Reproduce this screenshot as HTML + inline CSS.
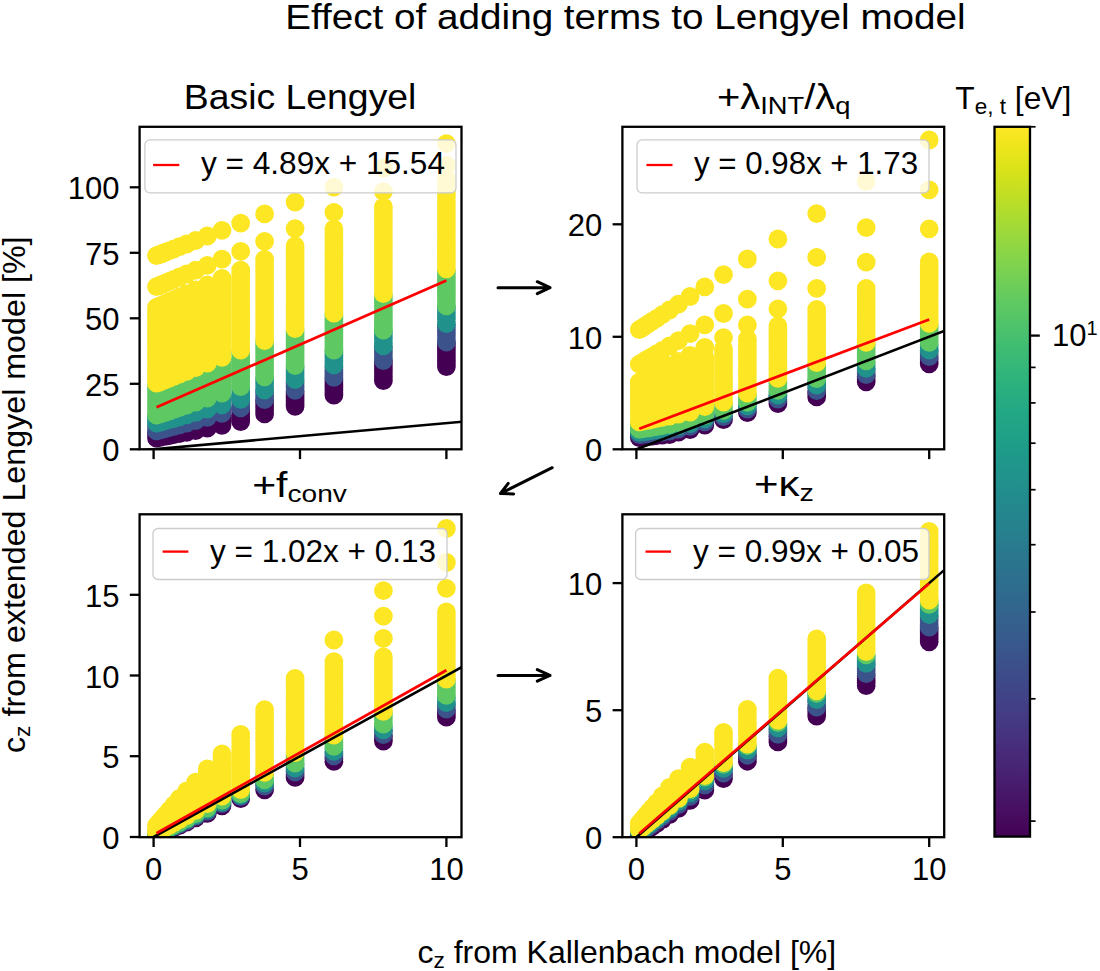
<!DOCTYPE html><html><head><meta charset="utf-8"><style>html,body{margin:0;padding:0;background:#fff;width:1100px;height:971px;overflow:hidden}</style></head><body><svg width="1100" height="971" viewBox="0 0 1100 971" style="position:absolute;left:0;top:0;font-family:'Liberation Sans', sans-serif">
<rect width="1100" height="971" fill="#ffffff"/>
<defs><linearGradient id="vir" x1="0" y1="0" x2="0" y2="1"><stop offset="0.0000" stop-color="#fde725"/><stop offset="0.0312" stop-color="#ece51b"/><stop offset="0.0625" stop-color="#d8e219"/><stop offset="0.0938" stop-color="#c2df23"/><stop offset="0.1250" stop-color="#addc30"/><stop offset="0.1562" stop-color="#98d83e"/><stop offset="0.1875" stop-color="#84d44b"/><stop offset="0.2188" stop-color="#70cf57"/><stop offset="0.2500" stop-color="#5ec962"/><stop offset="0.2812" stop-color="#4ec36b"/><stop offset="0.3125" stop-color="#3fbc73"/><stop offset="0.3438" stop-color="#32b67a"/><stop offset="0.3750" stop-color="#28ae80"/><stop offset="0.4062" stop-color="#22a785"/><stop offset="0.4375" stop-color="#1fa088"/><stop offset="0.4688" stop-color="#1f988b"/><stop offset="0.5000" stop-color="#21918c"/><stop offset="0.5312" stop-color="#23898e"/><stop offset="0.5625" stop-color="#26828e"/><stop offset="0.5938" stop-color="#297a8e"/><stop offset="0.6250" stop-color="#2c728e"/><stop offset="0.6562" stop-color="#2f6b8e"/><stop offset="0.6875" stop-color="#33638d"/><stop offset="0.7188" stop-color="#375b8d"/><stop offset="0.7500" stop-color="#3b528b"/><stop offset="0.7812" stop-color="#3e4989"/><stop offset="0.8125" stop-color="#424086"/><stop offset="0.8438" stop-color="#453781"/><stop offset="0.8750" stop-color="#472d7b"/><stop offset="0.9062" stop-color="#482374"/><stop offset="0.9375" stop-color="#48186a"/><stop offset="0.9688" stop-color="#470d60"/><stop offset="1.0000" stop-color="#440154"/></linearGradient>
<clipPath id="clip1"><rect x="139.6" y="126.8" width="321.9" height="322.5"/></clipPath>
<clipPath id="clip2"><rect x="622.4" y="126.8" width="321.80000000000007" height="322.5"/></clipPath>
<clipPath id="clip3"><rect x="139.6" y="514.3" width="321.9" height="322.9000000000001"/></clipPath>
<clipPath id="clip4"><rect x="622.4" y="514.3" width="321.80000000000007" height="322.9000000000001"/></clipPath>
</defs>
<g clip-path="url(#clip1)">
<path fill="#440154" d="M147.1,438.0a9.4,9.4 0 1,0 18.8,0a9.4,9.4 0 1,0 -18.8,0zM147.1,435.7a9.4,9.4 0 1,0 18.8,0a9.4,9.4 0 1,0 -18.8,0zM147.1,433.3a9.4,9.4 0 1,0 18.8,0a9.4,9.4 0 1,0 -18.8,0zM147.9,437.9a9.4,9.4 0 1,0 18.8,0a9.4,9.4 0 1,0 -18.8,0zM147.9,435.5a9.4,9.4 0 1,0 18.8,0a9.4,9.4 0 1,0 -18.8,0zM147.9,433.1a9.4,9.4 0 1,0 18.8,0a9.4,9.4 0 1,0 -18.8,0zM149.0,437.7a9.4,9.4 0 1,0 18.8,0a9.4,9.4 0 1,0 -18.8,0zM149.0,435.3a9.4,9.4 0 1,0 18.8,0a9.4,9.4 0 1,0 -18.8,0zM149.0,432.9a9.4,9.4 0 1,0 18.8,0a9.4,9.4 0 1,0 -18.8,0zM150.3,437.4a9.4,9.4 0 1,0 18.8,0a9.4,9.4 0 1,0 -18.8,0zM150.3,435.0a9.4,9.4 0 1,0 18.8,0a9.4,9.4 0 1,0 -18.8,0zM150.3,432.5a9.4,9.4 0 1,0 18.8,0a9.4,9.4 0 1,0 -18.8,0zM151.9,437.1a9.4,9.4 0 1,0 18.8,0a9.4,9.4 0 1,0 -18.8,0zM151.9,434.6a9.4,9.4 0 1,0 18.8,0a9.4,9.4 0 1,0 -18.8,0zM151.9,432.2a9.4,9.4 0 1,0 18.8,0a9.4,9.4 0 1,0 -18.8,0zM154.0,436.7a9.4,9.4 0 1,0 18.8,0a9.4,9.4 0 1,0 -18.8,0zM154.0,434.2a9.4,9.4 0 1,0 18.8,0a9.4,9.4 0 1,0 -18.8,0zM154.0,431.7a9.4,9.4 0 1,0 18.8,0a9.4,9.4 0 1,0 -18.8,0zM156.7,436.2a9.4,9.4 0 1,0 18.8,0a9.4,9.4 0 1,0 -18.8,0zM156.7,433.6a9.4,9.4 0 1,0 18.8,0a9.4,9.4 0 1,0 -18.8,0zM156.7,431.0a9.4,9.4 0 1,0 18.8,0a9.4,9.4 0 1,0 -18.8,0zM160.2,435.5a9.4,9.4 0 1,0 18.8,0a9.4,9.4 0 1,0 -18.8,0zM160.2,433.5a9.4,9.4 0 1,0 18.8,0a9.4,9.4 0 1,0 -18.8,0zM160.2,431.5a9.4,9.4 0 1,0 18.8,0a9.4,9.4 0 1,0 -18.8,0zM160.2,429.5a9.4,9.4 0 1,0 18.8,0a9.4,9.4 0 1,0 -18.8,0zM164.6,434.7a9.4,9.4 0 1,0 18.8,0a9.4,9.4 0 1,0 -18.8,0zM164.6,432.6a9.4,9.4 0 1,0 18.8,0a9.4,9.4 0 1,0 -18.8,0zM164.6,430.5a9.4,9.4 0 1,0 18.8,0a9.4,9.4 0 1,0 -18.8,0zM164.6,428.5a9.4,9.4 0 1,0 18.8,0a9.4,9.4 0 1,0 -18.8,0zM170.1,433.6a9.4,9.4 0 1,0 18.8,0a9.4,9.4 0 1,0 -18.8,0zM170.1,431.5a9.4,9.4 0 1,0 18.8,0a9.4,9.4 0 1,0 -18.8,0zM170.1,429.3a9.4,9.4 0 1,0 18.8,0a9.4,9.4 0 1,0 -18.8,0zM170.1,427.1a9.4,9.4 0 1,0 18.8,0a9.4,9.4 0 1,0 -18.8,0zM177.3,432.3a9.4,9.4 0 1,0 18.8,0a9.4,9.4 0 1,0 -18.8,0zM177.3,430.0a9.4,9.4 0 1,0 18.8,0a9.4,9.4 0 1,0 -18.8,0zM177.3,427.7a9.4,9.4 0 1,0 18.8,0a9.4,9.4 0 1,0 -18.8,0zM177.3,425.3a9.4,9.4 0 1,0 18.8,0a9.4,9.4 0 1,0 -18.8,0zM186.3,430.5a9.4,9.4 0 1,0 18.8,0a9.4,9.4 0 1,0 -18.8,0zM186.3,428.0a9.4,9.4 0 1,0 18.8,0a9.4,9.4 0 1,0 -18.8,0zM186.3,425.5a9.4,9.4 0 1,0 18.8,0a9.4,9.4 0 1,0 -18.8,0zM186.3,423.0a9.4,9.4 0 1,0 18.8,0a9.4,9.4 0 1,0 -18.8,0zM197.9,428.2a9.4,9.4 0 1,0 18.8,0a9.4,9.4 0 1,0 -18.8,0zM197.9,426.0a9.4,9.4 0 1,0 18.8,0a9.4,9.4 0 1,0 -18.8,0zM197.9,423.9a9.4,9.4 0 1,0 18.8,0a9.4,9.4 0 1,0 -18.8,0zM197.9,421.7a9.4,9.4 0 1,0 18.8,0a9.4,9.4 0 1,0 -18.8,0zM197.9,419.5a9.4,9.4 0 1,0 18.8,0a9.4,9.4 0 1,0 -18.8,0zM212.6,425.3a9.4,9.4 0 1,0 18.8,0a9.4,9.4 0 1,0 -18.8,0zM212.6,422.9a9.4,9.4 0 1,0 18.8,0a9.4,9.4 0 1,0 -18.8,0zM212.6,420.5a9.4,9.4 0 1,0 18.8,0a9.4,9.4 0 1,0 -18.8,0zM212.6,418.1a9.4,9.4 0 1,0 18.8,0a9.4,9.4 0 1,0 -18.8,0zM212.6,415.7a9.4,9.4 0 1,0 18.8,0a9.4,9.4 0 1,0 -18.8,0zM231.3,421.5a9.4,9.4 0 1,0 18.8,0a9.4,9.4 0 1,0 -18.8,0zM231.3,419.3a9.4,9.4 0 1,0 18.8,0a9.4,9.4 0 1,0 -18.8,0zM231.3,417.0a9.4,9.4 0 1,0 18.8,0a9.4,9.4 0 1,0 -18.8,0zM231.3,414.7a9.4,9.4 0 1,0 18.8,0a9.4,9.4 0 1,0 -18.8,0zM231.3,412.5a9.4,9.4 0 1,0 18.8,0a9.4,9.4 0 1,0 -18.8,0zM231.3,410.2a9.4,9.4 0 1,0 18.8,0a9.4,9.4 0 1,0 -18.8,0zM255.2,413.9a9.4,9.4 0 1,0 18.8,0a9.4,9.4 0 1,0 -18.8,0zM255.2,411.8a9.4,9.4 0 1,0 18.8,0a9.4,9.4 0 1,0 -18.8,0zM255.2,409.8a9.4,9.4 0 1,0 18.8,0a9.4,9.4 0 1,0 -18.8,0zM255.2,407.7a9.4,9.4 0 1,0 18.8,0a9.4,9.4 0 1,0 -18.8,0zM255.2,405.7a9.4,9.4 0 1,0 18.8,0a9.4,9.4 0 1,0 -18.8,0zM255.2,403.6a9.4,9.4 0 1,0 18.8,0a9.4,9.4 0 1,0 -18.8,0zM255.2,401.5a9.4,9.4 0 1,0 18.8,0a9.4,9.4 0 1,0 -18.8,0zM285.7,406.3a9.4,9.4 0 1,0 18.8,0a9.4,9.4 0 1,0 -18.8,0zM285.7,404.3a9.4,9.4 0 1,0 18.8,0a9.4,9.4 0 1,0 -18.8,0zM285.7,402.3a9.4,9.4 0 1,0 18.8,0a9.4,9.4 0 1,0 -18.8,0zM285.7,400.3a9.4,9.4 0 1,0 18.8,0a9.4,9.4 0 1,0 -18.8,0zM285.7,398.3a9.4,9.4 0 1,0 18.8,0a9.4,9.4 0 1,0 -18.8,0zM285.7,396.3a9.4,9.4 0 1,0 18.8,0a9.4,9.4 0 1,0 -18.8,0zM285.7,394.3a9.4,9.4 0 1,0 18.8,0a9.4,9.4 0 1,0 -18.8,0zM285.7,392.3a9.4,9.4 0 1,0 18.8,0a9.4,9.4 0 1,0 -18.8,0zM324.5,395.1a9.4,9.4 0 1,0 18.8,0a9.4,9.4 0 1,0 -18.8,0zM324.5,392.9a9.4,9.4 0 1,0 18.8,0a9.4,9.4 0 1,0 -18.8,0zM324.5,390.6a9.4,9.4 0 1,0 18.8,0a9.4,9.4 0 1,0 -18.8,0zM324.5,388.4a9.4,9.4 0 1,0 18.8,0a9.4,9.4 0 1,0 -18.8,0zM324.5,386.2a9.4,9.4 0 1,0 18.8,0a9.4,9.4 0 1,0 -18.8,0zM324.5,384.0a9.4,9.4 0 1,0 18.8,0a9.4,9.4 0 1,0 -18.8,0zM324.5,381.7a9.4,9.4 0 1,0 18.8,0a9.4,9.4 0 1,0 -18.8,0zM324.5,379.5a9.4,9.4 0 1,0 18.8,0a9.4,9.4 0 1,0 -18.8,0zM374.0,380.7a9.4,9.4 0 1,0 18.8,0a9.4,9.4 0 1,0 -18.8,0zM374.0,378.7a9.4,9.4 0 1,0 18.8,0a9.4,9.4 0 1,0 -18.8,0zM374.0,376.6a9.4,9.4 0 1,0 18.8,0a9.4,9.4 0 1,0 -18.8,0zM374.0,374.6a9.4,9.4 0 1,0 18.8,0a9.4,9.4 0 1,0 -18.8,0zM374.0,372.6a9.4,9.4 0 1,0 18.8,0a9.4,9.4 0 1,0 -18.8,0zM374.0,370.6a9.4,9.4 0 1,0 18.8,0a9.4,9.4 0 1,0 -18.8,0zM374.0,368.6a9.4,9.4 0 1,0 18.8,0a9.4,9.4 0 1,0 -18.8,0zM374.0,366.6a9.4,9.4 0 1,0 18.8,0a9.4,9.4 0 1,0 -18.8,0zM374.0,364.6a9.4,9.4 0 1,0 18.8,0a9.4,9.4 0 1,0 -18.8,0zM374.0,362.5a9.4,9.4 0 1,0 18.8,0a9.4,9.4 0 1,0 -18.8,0zM437.0,366.5a9.4,9.4 0 1,0 18.8,0a9.4,9.4 0 1,0 -18.8,0zM437.0,364.5a9.4,9.4 0 1,0 18.8,0a9.4,9.4 0 1,0 -18.8,0zM437.0,362.4a9.4,9.4 0 1,0 18.8,0a9.4,9.4 0 1,0 -18.8,0zM437.0,360.4a9.4,9.4 0 1,0 18.8,0a9.4,9.4 0 1,0 -18.8,0zM437.0,358.4a9.4,9.4 0 1,0 18.8,0a9.4,9.4 0 1,0 -18.8,0zM437.0,356.3a9.4,9.4 0 1,0 18.8,0a9.4,9.4 0 1,0 -18.8,0zM437.0,354.3a9.4,9.4 0 1,0 18.8,0a9.4,9.4 0 1,0 -18.8,0zM437.0,352.3a9.4,9.4 0 1,0 18.8,0a9.4,9.4 0 1,0 -18.8,0zM437.0,350.2a9.4,9.4 0 1,0 18.8,0a9.4,9.4 0 1,0 -18.8,0zM437.0,348.2a9.4,9.4 0 1,0 18.8,0a9.4,9.4 0 1,0 -18.8,0zM437.0,346.2a9.4,9.4 0 1,0 18.8,0a9.4,9.4 0 1,0 -18.8,0zM437.0,344.1a9.4,9.4 0 1,0 18.8,0a9.4,9.4 0 1,0 -18.8,0z"/>
<path fill="#3b528b" d="M147.1,430.9a9.4,9.4 0 1,0 18.8,0a9.4,9.4 0 1,0 -18.8,0zM147.1,428.3a9.4,9.4 0 1,0 18.8,0a9.4,9.4 0 1,0 -18.8,0zM147.1,425.8a9.4,9.4 0 1,0 18.8,0a9.4,9.4 0 1,0 -18.8,0zM147.9,430.7a9.4,9.4 0 1,0 18.8,0a9.4,9.4 0 1,0 -18.8,0zM147.9,428.1a9.4,9.4 0 1,0 18.8,0a9.4,9.4 0 1,0 -18.8,0zM147.9,425.6a9.4,9.4 0 1,0 18.8,0a9.4,9.4 0 1,0 -18.8,0zM149.0,430.4a9.4,9.4 0 1,0 18.8,0a9.4,9.4 0 1,0 -18.8,0zM149.0,427.9a9.4,9.4 0 1,0 18.8,0a9.4,9.4 0 1,0 -18.8,0zM149.0,425.3a9.4,9.4 0 1,0 18.8,0a9.4,9.4 0 1,0 -18.8,0zM150.3,430.1a9.4,9.4 0 1,0 18.8,0a9.4,9.4 0 1,0 -18.8,0zM150.3,427.5a9.4,9.4 0 1,0 18.8,0a9.4,9.4 0 1,0 -18.8,0zM150.3,424.9a9.4,9.4 0 1,0 18.8,0a9.4,9.4 0 1,0 -18.8,0zM151.9,429.7a9.4,9.4 0 1,0 18.8,0a9.4,9.4 0 1,0 -18.8,0zM151.9,427.1a9.4,9.4 0 1,0 18.8,0a9.4,9.4 0 1,0 -18.8,0zM151.9,424.5a9.4,9.4 0 1,0 18.8,0a9.4,9.4 0 1,0 -18.8,0zM154.0,429.1a9.4,9.4 0 1,0 18.8,0a9.4,9.4 0 1,0 -18.8,0zM154.0,426.5a9.4,9.4 0 1,0 18.8,0a9.4,9.4 0 1,0 -18.8,0zM154.0,423.9a9.4,9.4 0 1,0 18.8,0a9.4,9.4 0 1,0 -18.8,0zM156.7,428.4a9.4,9.4 0 1,0 18.8,0a9.4,9.4 0 1,0 -18.8,0zM156.7,425.8a9.4,9.4 0 1,0 18.8,0a9.4,9.4 0 1,0 -18.8,0zM156.7,423.2a9.4,9.4 0 1,0 18.8,0a9.4,9.4 0 1,0 -18.8,0zM160.2,427.5a9.4,9.4 0 1,0 18.8,0a9.4,9.4 0 1,0 -18.8,0zM160.2,424.9a9.4,9.4 0 1,0 18.8,0a9.4,9.4 0 1,0 -18.8,0zM160.2,422.3a9.4,9.4 0 1,0 18.8,0a9.4,9.4 0 1,0 -18.8,0zM164.6,426.4a9.4,9.4 0 1,0 18.8,0a9.4,9.4 0 1,0 -18.8,0zM164.6,423.7a9.4,9.4 0 1,0 18.8,0a9.4,9.4 0 1,0 -18.8,0zM164.6,421.1a9.4,9.4 0 1,0 18.8,0a9.4,9.4 0 1,0 -18.8,0zM170.1,424.9a9.4,9.4 0 1,0 18.8,0a9.4,9.4 0 1,0 -18.8,0zM170.1,422.9a9.4,9.4 0 1,0 18.8,0a9.4,9.4 0 1,0 -18.8,0zM170.1,420.9a9.4,9.4 0 1,0 18.8,0a9.4,9.4 0 1,0 -18.8,0zM170.1,418.9a9.4,9.4 0 1,0 18.8,0a9.4,9.4 0 1,0 -18.8,0zM177.3,423.0a9.4,9.4 0 1,0 18.8,0a9.4,9.4 0 1,0 -18.8,0zM177.3,421.0a9.4,9.4 0 1,0 18.8,0a9.4,9.4 0 1,0 -18.8,0zM177.3,419.0a9.4,9.4 0 1,0 18.8,0a9.4,9.4 0 1,0 -18.8,0zM177.3,417.0a9.4,9.4 0 1,0 18.8,0a9.4,9.4 0 1,0 -18.8,0zM186.3,420.6a9.4,9.4 0 1,0 18.8,0a9.4,9.4 0 1,0 -18.8,0zM186.3,418.5a9.4,9.4 0 1,0 18.8,0a9.4,9.4 0 1,0 -18.8,0zM186.3,416.5a9.4,9.4 0 1,0 18.8,0a9.4,9.4 0 1,0 -18.8,0zM186.3,414.4a9.4,9.4 0 1,0 18.8,0a9.4,9.4 0 1,0 -18.8,0zM197.9,417.4a9.4,9.4 0 1,0 18.8,0a9.4,9.4 0 1,0 -18.8,0zM197.9,415.3a9.4,9.4 0 1,0 18.8,0a9.4,9.4 0 1,0 -18.8,0zM197.9,413.2a9.4,9.4 0 1,0 18.8,0a9.4,9.4 0 1,0 -18.8,0zM197.9,411.1a9.4,9.4 0 1,0 18.8,0a9.4,9.4 0 1,0 -18.8,0zM212.6,413.3a9.4,9.4 0 1,0 18.8,0a9.4,9.4 0 1,0 -18.8,0zM212.6,411.1a9.4,9.4 0 1,0 18.8,0a9.4,9.4 0 1,0 -18.8,0zM212.6,409.0a9.4,9.4 0 1,0 18.8,0a9.4,9.4 0 1,0 -18.8,0zM212.6,406.9a9.4,9.4 0 1,0 18.8,0a9.4,9.4 0 1,0 -18.8,0zM231.3,407.9a9.4,9.4 0 1,0 18.8,0a9.4,9.4 0 1,0 -18.8,0zM231.3,405.8a9.4,9.4 0 1,0 18.8,0a9.4,9.4 0 1,0 -18.8,0zM231.3,403.6a9.4,9.4 0 1,0 18.8,0a9.4,9.4 0 1,0 -18.8,0zM231.3,401.5a9.4,9.4 0 1,0 18.8,0a9.4,9.4 0 1,0 -18.8,0zM255.2,399.5a9.4,9.4 0 1,0 18.8,0a9.4,9.4 0 1,0 -18.8,0zM255.2,397.1a9.4,9.4 0 1,0 18.8,0a9.4,9.4 0 1,0 -18.8,0zM255.2,394.8a9.4,9.4 0 1,0 18.8,0a9.4,9.4 0 1,0 -18.8,0zM255.2,392.4a9.4,9.4 0 1,0 18.8,0a9.4,9.4 0 1,0 -18.8,0zM285.7,390.3a9.4,9.4 0 1,0 18.8,0a9.4,9.4 0 1,0 -18.8,0zM285.7,388.1a9.4,9.4 0 1,0 18.8,0a9.4,9.4 0 1,0 -18.8,0zM285.7,386.0a9.4,9.4 0 1,0 18.8,0a9.4,9.4 0 1,0 -18.8,0zM285.7,383.8a9.4,9.4 0 1,0 18.8,0a9.4,9.4 0 1,0 -18.8,0zM285.7,381.7a9.4,9.4 0 1,0 18.8,0a9.4,9.4 0 1,0 -18.8,0zM324.5,377.3a9.4,9.4 0 1,0 18.8,0a9.4,9.4 0 1,0 -18.8,0zM324.5,375.2a9.4,9.4 0 1,0 18.8,0a9.4,9.4 0 1,0 -18.8,0zM324.5,373.2a9.4,9.4 0 1,0 18.8,0a9.4,9.4 0 1,0 -18.8,0zM324.5,371.1a9.4,9.4 0 1,0 18.8,0a9.4,9.4 0 1,0 -18.8,0zM324.5,369.0a9.4,9.4 0 1,0 18.8,0a9.4,9.4 0 1,0 -18.8,0zM324.5,366.9a9.4,9.4 0 1,0 18.8,0a9.4,9.4 0 1,0 -18.8,0zM374.0,360.5a9.4,9.4 0 1,0 18.8,0a9.4,9.4 0 1,0 -18.8,0zM374.0,358.4a9.4,9.4 0 1,0 18.8,0a9.4,9.4 0 1,0 -18.8,0zM374.0,356.3a9.4,9.4 0 1,0 18.8,0a9.4,9.4 0 1,0 -18.8,0zM374.0,354.2a9.4,9.4 0 1,0 18.8,0a9.4,9.4 0 1,0 -18.8,0zM374.0,352.1a9.4,9.4 0 1,0 18.8,0a9.4,9.4 0 1,0 -18.8,0zM374.0,350.0a9.4,9.4 0 1,0 18.8,0a9.4,9.4 0 1,0 -18.8,0zM374.0,348.0a9.4,9.4 0 1,0 18.8,0a9.4,9.4 0 1,0 -18.8,0zM437.0,342.1a9.4,9.4 0 1,0 18.8,0a9.4,9.4 0 1,0 -18.8,0zM437.0,340.0a9.4,9.4 0 1,0 18.8,0a9.4,9.4 0 1,0 -18.8,0zM437.0,338.0a9.4,9.4 0 1,0 18.8,0a9.4,9.4 0 1,0 -18.8,0zM437.0,335.9a9.4,9.4 0 1,0 18.8,0a9.4,9.4 0 1,0 -18.8,0zM437.0,333.8a9.4,9.4 0 1,0 18.8,0a9.4,9.4 0 1,0 -18.8,0zM437.0,331.8a9.4,9.4 0 1,0 18.8,0a9.4,9.4 0 1,0 -18.8,0zM437.0,329.7a9.4,9.4 0 1,0 18.8,0a9.4,9.4 0 1,0 -18.8,0zM437.0,327.6a9.4,9.4 0 1,0 18.8,0a9.4,9.4 0 1,0 -18.8,0zM437.0,325.6a9.4,9.4 0 1,0 18.8,0a9.4,9.4 0 1,0 -18.8,0z"/>
<path fill="#21918c" d="M147.1,423.2a9.4,9.4 0 1,0 18.8,0a9.4,9.4 0 1,0 -18.8,0zM147.1,421.2a9.4,9.4 0 1,0 18.8,0a9.4,9.4 0 1,0 -18.8,0zM147.1,419.1a9.4,9.4 0 1,0 18.8,0a9.4,9.4 0 1,0 -18.8,0zM147.1,417.1a9.4,9.4 0 1,0 18.8,0a9.4,9.4 0 1,0 -18.8,0zM147.9,423.0a9.4,9.4 0 1,0 18.8,0a9.4,9.4 0 1,0 -18.8,0zM147.9,420.9a9.4,9.4 0 1,0 18.8,0a9.4,9.4 0 1,0 -18.8,0zM147.9,418.9a9.4,9.4 0 1,0 18.8,0a9.4,9.4 0 1,0 -18.8,0zM147.9,416.8a9.4,9.4 0 1,0 18.8,0a9.4,9.4 0 1,0 -18.8,0zM149.0,422.7a9.4,9.4 0 1,0 18.8,0a9.4,9.4 0 1,0 -18.8,0zM149.0,420.7a9.4,9.4 0 1,0 18.8,0a9.4,9.4 0 1,0 -18.8,0zM149.0,418.6a9.4,9.4 0 1,0 18.8,0a9.4,9.4 0 1,0 -18.8,0zM149.0,416.5a9.4,9.4 0 1,0 18.8,0a9.4,9.4 0 1,0 -18.8,0zM150.3,422.4a9.4,9.4 0 1,0 18.8,0a9.4,9.4 0 1,0 -18.8,0zM150.3,420.3a9.4,9.4 0 1,0 18.8,0a9.4,9.4 0 1,0 -18.8,0zM150.3,418.2a9.4,9.4 0 1,0 18.8,0a9.4,9.4 0 1,0 -18.8,0zM150.3,416.1a9.4,9.4 0 1,0 18.8,0a9.4,9.4 0 1,0 -18.8,0zM151.9,421.9a9.4,9.4 0 1,0 18.8,0a9.4,9.4 0 1,0 -18.8,0zM151.9,419.8a9.4,9.4 0 1,0 18.8,0a9.4,9.4 0 1,0 -18.8,0zM151.9,417.7a9.4,9.4 0 1,0 18.8,0a9.4,9.4 0 1,0 -18.8,0zM151.9,415.6a9.4,9.4 0 1,0 18.8,0a9.4,9.4 0 1,0 -18.8,0zM154.0,421.3a9.4,9.4 0 1,0 18.8,0a9.4,9.4 0 1,0 -18.8,0zM154.0,419.2a9.4,9.4 0 1,0 18.8,0a9.4,9.4 0 1,0 -18.8,0zM154.0,417.1a9.4,9.4 0 1,0 18.8,0a9.4,9.4 0 1,0 -18.8,0zM154.0,414.9a9.4,9.4 0 1,0 18.8,0a9.4,9.4 0 1,0 -18.8,0zM156.7,420.6a9.4,9.4 0 1,0 18.8,0a9.4,9.4 0 1,0 -18.8,0zM156.7,418.4a9.4,9.4 0 1,0 18.8,0a9.4,9.4 0 1,0 -18.8,0zM156.7,416.2a9.4,9.4 0 1,0 18.8,0a9.4,9.4 0 1,0 -18.8,0zM156.7,414.1a9.4,9.4 0 1,0 18.8,0a9.4,9.4 0 1,0 -18.8,0zM160.2,419.7a9.4,9.4 0 1,0 18.8,0a9.4,9.4 0 1,0 -18.8,0zM160.2,417.4a9.4,9.4 0 1,0 18.8,0a9.4,9.4 0 1,0 -18.8,0zM160.2,415.2a9.4,9.4 0 1,0 18.8,0a9.4,9.4 0 1,0 -18.8,0zM160.2,413.0a9.4,9.4 0 1,0 18.8,0a9.4,9.4 0 1,0 -18.8,0zM164.6,418.5a9.4,9.4 0 1,0 18.8,0a9.4,9.4 0 1,0 -18.8,0zM164.6,416.2a9.4,9.4 0 1,0 18.8,0a9.4,9.4 0 1,0 -18.8,0zM164.6,413.9a9.4,9.4 0 1,0 18.8,0a9.4,9.4 0 1,0 -18.8,0zM164.6,411.6a9.4,9.4 0 1,0 18.8,0a9.4,9.4 0 1,0 -18.8,0zM170.1,416.9a9.4,9.4 0 1,0 18.8,0a9.4,9.4 0 1,0 -18.8,0zM170.1,414.6a9.4,9.4 0 1,0 18.8,0a9.4,9.4 0 1,0 -18.8,0zM170.1,412.2a9.4,9.4 0 1,0 18.8,0a9.4,9.4 0 1,0 -18.8,0zM170.1,409.9a9.4,9.4 0 1,0 18.8,0a9.4,9.4 0 1,0 -18.8,0zM177.3,414.9a9.4,9.4 0 1,0 18.8,0a9.4,9.4 0 1,0 -18.8,0zM177.3,412.5a9.4,9.4 0 1,0 18.8,0a9.4,9.4 0 1,0 -18.8,0zM177.3,410.0a9.4,9.4 0 1,0 18.8,0a9.4,9.4 0 1,0 -18.8,0zM177.3,407.6a9.4,9.4 0 1,0 18.8,0a9.4,9.4 0 1,0 -18.8,0zM186.3,412.4a9.4,9.4 0 1,0 18.8,0a9.4,9.4 0 1,0 -18.8,0zM186.3,410.3a9.4,9.4 0 1,0 18.8,0a9.4,9.4 0 1,0 -18.8,0zM186.3,408.2a9.4,9.4 0 1,0 18.8,0a9.4,9.4 0 1,0 -18.8,0zM186.3,406.2a9.4,9.4 0 1,0 18.8,0a9.4,9.4 0 1,0 -18.8,0zM186.3,404.1a9.4,9.4 0 1,0 18.8,0a9.4,9.4 0 1,0 -18.8,0zM197.9,409.1a9.4,9.4 0 1,0 18.8,0a9.4,9.4 0 1,0 -18.8,0zM197.9,406.9a9.4,9.4 0 1,0 18.8,0a9.4,9.4 0 1,0 -18.8,0zM197.9,404.7a9.4,9.4 0 1,0 18.8,0a9.4,9.4 0 1,0 -18.8,0zM197.9,402.5a9.4,9.4 0 1,0 18.8,0a9.4,9.4 0 1,0 -18.8,0zM197.9,400.3a9.4,9.4 0 1,0 18.8,0a9.4,9.4 0 1,0 -18.8,0zM212.6,404.8a9.4,9.4 0 1,0 18.8,0a9.4,9.4 0 1,0 -18.8,0zM212.6,402.5a9.4,9.4 0 1,0 18.8,0a9.4,9.4 0 1,0 -18.8,0zM212.6,400.1a9.4,9.4 0 1,0 18.8,0a9.4,9.4 0 1,0 -18.8,0zM212.6,397.7a9.4,9.4 0 1,0 18.8,0a9.4,9.4 0 1,0 -18.8,0zM212.6,395.4a9.4,9.4 0 1,0 18.8,0a9.4,9.4 0 1,0 -18.8,0zM231.3,399.3a9.4,9.4 0 1,0 18.8,0a9.4,9.4 0 1,0 -18.8,0zM231.3,397.2a9.4,9.4 0 1,0 18.8,0a9.4,9.4 0 1,0 -18.8,0zM231.3,395.0a9.4,9.4 0 1,0 18.8,0a9.4,9.4 0 1,0 -18.8,0zM231.3,392.9a9.4,9.4 0 1,0 18.8,0a9.4,9.4 0 1,0 -18.8,0zM231.3,390.8a9.4,9.4 0 1,0 18.8,0a9.4,9.4 0 1,0 -18.8,0zM231.3,388.6a9.4,9.4 0 1,0 18.8,0a9.4,9.4 0 1,0 -18.8,0zM255.2,390.1a9.4,9.4 0 1,0 18.8,0a9.4,9.4 0 1,0 -18.8,0zM255.2,387.8a9.4,9.4 0 1,0 18.8,0a9.4,9.4 0 1,0 -18.8,0zM255.2,385.6a9.4,9.4 0 1,0 18.8,0a9.4,9.4 0 1,0 -18.8,0zM255.2,383.4a9.4,9.4 0 1,0 18.8,0a9.4,9.4 0 1,0 -18.8,0zM255.2,381.2a9.4,9.4 0 1,0 18.8,0a9.4,9.4 0 1,0 -18.8,0zM255.2,379.0a9.4,9.4 0 1,0 18.8,0a9.4,9.4 0 1,0 -18.8,0zM285.7,379.5a9.4,9.4 0 1,0 18.8,0a9.4,9.4 0 1,0 -18.8,0zM285.7,377.5a9.4,9.4 0 1,0 18.8,0a9.4,9.4 0 1,0 -18.8,0zM285.7,375.5a9.4,9.4 0 1,0 18.8,0a9.4,9.4 0 1,0 -18.8,0zM285.7,373.5a9.4,9.4 0 1,0 18.8,0a9.4,9.4 0 1,0 -18.8,0zM285.7,371.5a9.4,9.4 0 1,0 18.8,0a9.4,9.4 0 1,0 -18.8,0zM285.7,369.5a9.4,9.4 0 1,0 18.8,0a9.4,9.4 0 1,0 -18.8,0zM285.7,367.5a9.4,9.4 0 1,0 18.8,0a9.4,9.4 0 1,0 -18.8,0zM324.5,364.9a9.4,9.4 0 1,0 18.8,0a9.4,9.4 0 1,0 -18.8,0zM324.5,362.8a9.4,9.4 0 1,0 18.8,0a9.4,9.4 0 1,0 -18.8,0zM324.5,360.7a9.4,9.4 0 1,0 18.8,0a9.4,9.4 0 1,0 -18.8,0zM324.5,358.6a9.4,9.4 0 1,0 18.8,0a9.4,9.4 0 1,0 -18.8,0zM324.5,356.4a9.4,9.4 0 1,0 18.8,0a9.4,9.4 0 1,0 -18.8,0zM324.5,354.3a9.4,9.4 0 1,0 18.8,0a9.4,9.4 0 1,0 -18.8,0zM324.5,352.2a9.4,9.4 0 1,0 18.8,0a9.4,9.4 0 1,0 -18.8,0zM374.0,345.9a9.4,9.4 0 1,0 18.8,0a9.4,9.4 0 1,0 -18.8,0zM374.0,343.6a9.4,9.4 0 1,0 18.8,0a9.4,9.4 0 1,0 -18.8,0zM374.0,341.4a9.4,9.4 0 1,0 18.8,0a9.4,9.4 0 1,0 -18.8,0zM374.0,339.1a9.4,9.4 0 1,0 18.8,0a9.4,9.4 0 1,0 -18.8,0zM374.0,336.9a9.4,9.4 0 1,0 18.8,0a9.4,9.4 0 1,0 -18.8,0zM374.0,334.7a9.4,9.4 0 1,0 18.8,0a9.4,9.4 0 1,0 -18.8,0zM374.0,332.4a9.4,9.4 0 1,0 18.8,0a9.4,9.4 0 1,0 -18.8,0zM437.0,323.5a9.4,9.4 0 1,0 18.8,0a9.4,9.4 0 1,0 -18.8,0zM437.0,321.3a9.4,9.4 0 1,0 18.8,0a9.4,9.4 0 1,0 -18.8,0zM437.0,319.1a9.4,9.4 0 1,0 18.8,0a9.4,9.4 0 1,0 -18.8,0zM437.0,316.9a9.4,9.4 0 1,0 18.8,0a9.4,9.4 0 1,0 -18.8,0zM437.0,314.7a9.4,9.4 0 1,0 18.8,0a9.4,9.4 0 1,0 -18.8,0zM437.0,312.5a9.4,9.4 0 1,0 18.8,0a9.4,9.4 0 1,0 -18.8,0zM437.0,310.3a9.4,9.4 0 1,0 18.8,0a9.4,9.4 0 1,0 -18.8,0zM437.0,308.1a9.4,9.4 0 1,0 18.8,0a9.4,9.4 0 1,0 -18.8,0z"/>
<path fill="#5ec962" d="M147.1,415.0a9.4,9.4 0 1,0 18.8,0a9.4,9.4 0 1,0 -18.8,0zM147.1,412.9a9.4,9.4 0 1,0 18.8,0a9.4,9.4 0 1,0 -18.8,0zM147.1,410.8a9.4,9.4 0 1,0 18.8,0a9.4,9.4 0 1,0 -18.8,0zM147.1,408.6a9.4,9.4 0 1,0 18.8,0a9.4,9.4 0 1,0 -18.8,0zM147.1,406.5a9.4,9.4 0 1,0 18.8,0a9.4,9.4 0 1,0 -18.8,0zM147.1,404.4a9.4,9.4 0 1,0 18.8,0a9.4,9.4 0 1,0 -18.8,0zM147.1,402.3a9.4,9.4 0 1,0 18.8,0a9.4,9.4 0 1,0 -18.8,0zM147.1,400.2a9.4,9.4 0 1,0 18.8,0a9.4,9.4 0 1,0 -18.8,0zM147.1,398.0a9.4,9.4 0 1,0 18.8,0a9.4,9.4 0 1,0 -18.8,0zM147.1,395.9a9.4,9.4 0 1,0 18.8,0a9.4,9.4 0 1,0 -18.8,0zM147.1,393.8a9.4,9.4 0 1,0 18.8,0a9.4,9.4 0 1,0 -18.8,0zM147.1,391.7a9.4,9.4 0 1,0 18.8,0a9.4,9.4 0 1,0 -18.8,0zM147.1,389.6a9.4,9.4 0 1,0 18.8,0a9.4,9.4 0 1,0 -18.8,0zM147.1,387.4a9.4,9.4 0 1,0 18.8,0a9.4,9.4 0 1,0 -18.8,0zM147.1,385.3a9.4,9.4 0 1,0 18.8,0a9.4,9.4 0 1,0 -18.8,0zM147.9,414.7a9.4,9.4 0 1,0 18.8,0a9.4,9.4 0 1,0 -18.8,0zM147.9,412.6a9.4,9.4 0 1,0 18.8,0a9.4,9.4 0 1,0 -18.8,0zM147.9,410.5a9.4,9.4 0 1,0 18.8,0a9.4,9.4 0 1,0 -18.8,0zM147.9,408.4a9.4,9.4 0 1,0 18.8,0a9.4,9.4 0 1,0 -18.8,0zM147.9,406.2a9.4,9.4 0 1,0 18.8,0a9.4,9.4 0 1,0 -18.8,0zM147.9,404.1a9.4,9.4 0 1,0 18.8,0a9.4,9.4 0 1,0 -18.8,0zM147.9,402.0a9.4,9.4 0 1,0 18.8,0a9.4,9.4 0 1,0 -18.8,0zM147.9,399.9a9.4,9.4 0 1,0 18.8,0a9.4,9.4 0 1,0 -18.8,0zM147.9,397.7a9.4,9.4 0 1,0 18.8,0a9.4,9.4 0 1,0 -18.8,0zM147.9,395.6a9.4,9.4 0 1,0 18.8,0a9.4,9.4 0 1,0 -18.8,0zM147.9,393.5a9.4,9.4 0 1,0 18.8,0a9.4,9.4 0 1,0 -18.8,0zM147.9,391.4a9.4,9.4 0 1,0 18.8,0a9.4,9.4 0 1,0 -18.8,0zM147.9,389.3a9.4,9.4 0 1,0 18.8,0a9.4,9.4 0 1,0 -18.8,0zM147.9,387.1a9.4,9.4 0 1,0 18.8,0a9.4,9.4 0 1,0 -18.8,0zM147.9,385.0a9.4,9.4 0 1,0 18.8,0a9.4,9.4 0 1,0 -18.8,0zM149.0,414.4a9.4,9.4 0 1,0 18.8,0a9.4,9.4 0 1,0 -18.8,0zM149.0,412.3a9.4,9.4 0 1,0 18.8,0a9.4,9.4 0 1,0 -18.8,0zM149.0,410.2a9.4,9.4 0 1,0 18.8,0a9.4,9.4 0 1,0 -18.8,0zM149.0,408.0a9.4,9.4 0 1,0 18.8,0a9.4,9.4 0 1,0 -18.8,0zM149.0,405.9a9.4,9.4 0 1,0 18.8,0a9.4,9.4 0 1,0 -18.8,0zM149.0,403.8a9.4,9.4 0 1,0 18.8,0a9.4,9.4 0 1,0 -18.8,0zM149.0,401.6a9.4,9.4 0 1,0 18.8,0a9.4,9.4 0 1,0 -18.8,0zM149.0,399.5a9.4,9.4 0 1,0 18.8,0a9.4,9.4 0 1,0 -18.8,0zM149.0,397.4a9.4,9.4 0 1,0 18.8,0a9.4,9.4 0 1,0 -18.8,0zM149.0,395.3a9.4,9.4 0 1,0 18.8,0a9.4,9.4 0 1,0 -18.8,0zM149.0,393.1a9.4,9.4 0 1,0 18.8,0a9.4,9.4 0 1,0 -18.8,0zM149.0,391.0a9.4,9.4 0 1,0 18.8,0a9.4,9.4 0 1,0 -18.8,0zM149.0,388.9a9.4,9.4 0 1,0 18.8,0a9.4,9.4 0 1,0 -18.8,0zM149.0,386.7a9.4,9.4 0 1,0 18.8,0a9.4,9.4 0 1,0 -18.8,0zM149.0,384.6a9.4,9.4 0 1,0 18.8,0a9.4,9.4 0 1,0 -18.8,0zM150.3,414.0a9.4,9.4 0 1,0 18.8,0a9.4,9.4 0 1,0 -18.8,0zM150.3,412.0a9.4,9.4 0 1,0 18.8,0a9.4,9.4 0 1,0 -18.8,0zM150.3,410.0a9.4,9.4 0 1,0 18.8,0a9.4,9.4 0 1,0 -18.8,0zM150.3,408.0a9.4,9.4 0 1,0 18.8,0a9.4,9.4 0 1,0 -18.8,0zM150.3,406.0a9.4,9.4 0 1,0 18.8,0a9.4,9.4 0 1,0 -18.8,0zM150.3,404.0a9.4,9.4 0 1,0 18.8,0a9.4,9.4 0 1,0 -18.8,0zM150.3,402.0a9.4,9.4 0 1,0 18.8,0a9.4,9.4 0 1,0 -18.8,0zM150.3,400.0a9.4,9.4 0 1,0 18.8,0a9.4,9.4 0 1,0 -18.8,0zM150.3,398.0a9.4,9.4 0 1,0 18.8,0a9.4,9.4 0 1,0 -18.8,0zM150.3,396.0a9.4,9.4 0 1,0 18.8,0a9.4,9.4 0 1,0 -18.8,0zM150.3,394.0a9.4,9.4 0 1,0 18.8,0a9.4,9.4 0 1,0 -18.8,0zM150.3,392.0a9.4,9.4 0 1,0 18.8,0a9.4,9.4 0 1,0 -18.8,0zM150.3,390.0a9.4,9.4 0 1,0 18.8,0a9.4,9.4 0 1,0 -18.8,0zM150.3,388.0a9.4,9.4 0 1,0 18.8,0a9.4,9.4 0 1,0 -18.8,0zM150.3,386.0a9.4,9.4 0 1,0 18.8,0a9.4,9.4 0 1,0 -18.8,0zM150.3,384.0a9.4,9.4 0 1,0 18.8,0a9.4,9.4 0 1,0 -18.8,0zM151.9,413.5a9.4,9.4 0 1,0 18.8,0a9.4,9.4 0 1,0 -18.8,0zM151.9,411.4a9.4,9.4 0 1,0 18.8,0a9.4,9.4 0 1,0 -18.8,0zM151.9,409.4a9.4,9.4 0 1,0 18.8,0a9.4,9.4 0 1,0 -18.8,0zM151.9,407.4a9.4,9.4 0 1,0 18.8,0a9.4,9.4 0 1,0 -18.8,0zM151.9,405.4a9.4,9.4 0 1,0 18.8,0a9.4,9.4 0 1,0 -18.8,0zM151.9,403.4a9.4,9.4 0 1,0 18.8,0a9.4,9.4 0 1,0 -18.8,0zM151.9,401.4a9.4,9.4 0 1,0 18.8,0a9.4,9.4 0 1,0 -18.8,0zM151.9,399.4a9.4,9.4 0 1,0 18.8,0a9.4,9.4 0 1,0 -18.8,0zM151.9,397.4a9.4,9.4 0 1,0 18.8,0a9.4,9.4 0 1,0 -18.8,0zM151.9,395.4a9.4,9.4 0 1,0 18.8,0a9.4,9.4 0 1,0 -18.8,0zM151.9,393.4a9.4,9.4 0 1,0 18.8,0a9.4,9.4 0 1,0 -18.8,0zM151.9,391.4a9.4,9.4 0 1,0 18.8,0a9.4,9.4 0 1,0 -18.8,0zM151.9,389.3a9.4,9.4 0 1,0 18.8,0a9.4,9.4 0 1,0 -18.8,0zM151.9,387.3a9.4,9.4 0 1,0 18.8,0a9.4,9.4 0 1,0 -18.8,0zM151.9,385.3a9.4,9.4 0 1,0 18.8,0a9.4,9.4 0 1,0 -18.8,0zM151.9,383.3a9.4,9.4 0 1,0 18.8,0a9.4,9.4 0 1,0 -18.8,0zM154.0,412.8a9.4,9.4 0 1,0 18.8,0a9.4,9.4 0 1,0 -18.8,0zM154.0,410.7a9.4,9.4 0 1,0 18.8,0a9.4,9.4 0 1,0 -18.8,0zM154.0,408.7a9.4,9.4 0 1,0 18.8,0a9.4,9.4 0 1,0 -18.8,0zM154.0,406.7a9.4,9.4 0 1,0 18.8,0a9.4,9.4 0 1,0 -18.8,0zM154.0,404.7a9.4,9.4 0 1,0 18.8,0a9.4,9.4 0 1,0 -18.8,0zM154.0,402.7a9.4,9.4 0 1,0 18.8,0a9.4,9.4 0 1,0 -18.8,0zM154.0,400.7a9.4,9.4 0 1,0 18.8,0a9.4,9.4 0 1,0 -18.8,0zM154.0,398.6a9.4,9.4 0 1,0 18.8,0a9.4,9.4 0 1,0 -18.8,0zM154.0,396.6a9.4,9.4 0 1,0 18.8,0a9.4,9.4 0 1,0 -18.8,0zM154.0,394.6a9.4,9.4 0 1,0 18.8,0a9.4,9.4 0 1,0 -18.8,0zM154.0,392.6a9.4,9.4 0 1,0 18.8,0a9.4,9.4 0 1,0 -18.8,0zM154.0,390.6a9.4,9.4 0 1,0 18.8,0a9.4,9.4 0 1,0 -18.8,0zM154.0,388.5a9.4,9.4 0 1,0 18.8,0a9.4,9.4 0 1,0 -18.8,0zM154.0,386.5a9.4,9.4 0 1,0 18.8,0a9.4,9.4 0 1,0 -18.8,0zM154.0,384.5a9.4,9.4 0 1,0 18.8,0a9.4,9.4 0 1,0 -18.8,0zM154.0,382.5a9.4,9.4 0 1,0 18.8,0a9.4,9.4 0 1,0 -18.8,0zM156.7,411.9a9.4,9.4 0 1,0 18.8,0a9.4,9.4 0 1,0 -18.8,0zM156.7,409.9a9.4,9.4 0 1,0 18.8,0a9.4,9.4 0 1,0 -18.8,0zM156.7,407.8a9.4,9.4 0 1,0 18.8,0a9.4,9.4 0 1,0 -18.8,0zM156.7,405.8a9.4,9.4 0 1,0 18.8,0a9.4,9.4 0 1,0 -18.8,0zM156.7,403.8a9.4,9.4 0 1,0 18.8,0a9.4,9.4 0 1,0 -18.8,0zM156.7,401.7a9.4,9.4 0 1,0 18.8,0a9.4,9.4 0 1,0 -18.8,0zM156.7,399.7a9.4,9.4 0 1,0 18.8,0a9.4,9.4 0 1,0 -18.8,0zM156.7,397.7a9.4,9.4 0 1,0 18.8,0a9.4,9.4 0 1,0 -18.8,0zM156.7,395.6a9.4,9.4 0 1,0 18.8,0a9.4,9.4 0 1,0 -18.8,0zM156.7,393.6a9.4,9.4 0 1,0 18.8,0a9.4,9.4 0 1,0 -18.8,0zM156.7,391.6a9.4,9.4 0 1,0 18.8,0a9.4,9.4 0 1,0 -18.8,0zM156.7,389.6a9.4,9.4 0 1,0 18.8,0a9.4,9.4 0 1,0 -18.8,0zM156.7,387.5a9.4,9.4 0 1,0 18.8,0a9.4,9.4 0 1,0 -18.8,0zM156.7,385.5a9.4,9.4 0 1,0 18.8,0a9.4,9.4 0 1,0 -18.8,0zM156.7,383.5a9.4,9.4 0 1,0 18.8,0a9.4,9.4 0 1,0 -18.8,0zM156.7,381.4a9.4,9.4 0 1,0 18.8,0a9.4,9.4 0 1,0 -18.8,0zM160.2,410.8a9.4,9.4 0 1,0 18.8,0a9.4,9.4 0 1,0 -18.8,0zM160.2,408.7a9.4,9.4 0 1,0 18.8,0a9.4,9.4 0 1,0 -18.8,0zM160.2,406.7a9.4,9.4 0 1,0 18.8,0a9.4,9.4 0 1,0 -18.8,0zM160.2,404.6a9.4,9.4 0 1,0 18.8,0a9.4,9.4 0 1,0 -18.8,0zM160.2,402.6a9.4,9.4 0 1,0 18.8,0a9.4,9.4 0 1,0 -18.8,0zM160.2,400.5a9.4,9.4 0 1,0 18.8,0a9.4,9.4 0 1,0 -18.8,0zM160.2,398.5a9.4,9.4 0 1,0 18.8,0a9.4,9.4 0 1,0 -18.8,0zM160.2,396.5a9.4,9.4 0 1,0 18.8,0a9.4,9.4 0 1,0 -18.8,0zM160.2,394.4a9.4,9.4 0 1,0 18.8,0a9.4,9.4 0 1,0 -18.8,0zM160.2,392.4a9.4,9.4 0 1,0 18.8,0a9.4,9.4 0 1,0 -18.8,0zM160.2,390.3a9.4,9.4 0 1,0 18.8,0a9.4,9.4 0 1,0 -18.8,0zM160.2,388.3a9.4,9.4 0 1,0 18.8,0a9.4,9.4 0 1,0 -18.8,0zM160.2,386.2a9.4,9.4 0 1,0 18.8,0a9.4,9.4 0 1,0 -18.8,0zM160.2,384.2a9.4,9.4 0 1,0 18.8,0a9.4,9.4 0 1,0 -18.8,0zM160.2,382.1a9.4,9.4 0 1,0 18.8,0a9.4,9.4 0 1,0 -18.8,0zM160.2,380.1a9.4,9.4 0 1,0 18.8,0a9.4,9.4 0 1,0 -18.8,0zM164.6,409.3a9.4,9.4 0 1,0 18.8,0a9.4,9.4 0 1,0 -18.8,0zM164.6,407.3a9.4,9.4 0 1,0 18.8,0a9.4,9.4 0 1,0 -18.8,0zM164.6,405.2a9.4,9.4 0 1,0 18.8,0a9.4,9.4 0 1,0 -18.8,0zM164.6,403.1a9.4,9.4 0 1,0 18.8,0a9.4,9.4 0 1,0 -18.8,0zM164.6,401.1a9.4,9.4 0 1,0 18.8,0a9.4,9.4 0 1,0 -18.8,0zM164.6,399.0a9.4,9.4 0 1,0 18.8,0a9.4,9.4 0 1,0 -18.8,0zM164.6,397.0a9.4,9.4 0 1,0 18.8,0a9.4,9.4 0 1,0 -18.8,0zM164.6,394.9a9.4,9.4 0 1,0 18.8,0a9.4,9.4 0 1,0 -18.8,0zM164.6,392.8a9.4,9.4 0 1,0 18.8,0a9.4,9.4 0 1,0 -18.8,0zM164.6,390.8a9.4,9.4 0 1,0 18.8,0a9.4,9.4 0 1,0 -18.8,0zM164.6,388.7a9.4,9.4 0 1,0 18.8,0a9.4,9.4 0 1,0 -18.8,0zM164.6,386.6a9.4,9.4 0 1,0 18.8,0a9.4,9.4 0 1,0 -18.8,0zM164.6,384.6a9.4,9.4 0 1,0 18.8,0a9.4,9.4 0 1,0 -18.8,0zM164.6,382.5a9.4,9.4 0 1,0 18.8,0a9.4,9.4 0 1,0 -18.8,0zM164.6,380.4a9.4,9.4 0 1,0 18.8,0a9.4,9.4 0 1,0 -18.8,0zM164.6,378.4a9.4,9.4 0 1,0 18.8,0a9.4,9.4 0 1,0 -18.8,0zM170.1,407.5a9.4,9.4 0 1,0 18.8,0a9.4,9.4 0 1,0 -18.8,0zM170.1,405.4a9.4,9.4 0 1,0 18.8,0a9.4,9.4 0 1,0 -18.8,0zM170.1,403.3a9.4,9.4 0 1,0 18.8,0a9.4,9.4 0 1,0 -18.8,0zM170.1,401.2a9.4,9.4 0 1,0 18.8,0a9.4,9.4 0 1,0 -18.8,0zM170.1,399.2a9.4,9.4 0 1,0 18.8,0a9.4,9.4 0 1,0 -18.8,0zM170.1,397.1a9.4,9.4 0 1,0 18.8,0a9.4,9.4 0 1,0 -18.8,0zM170.1,395.0a9.4,9.4 0 1,0 18.8,0a9.4,9.4 0 1,0 -18.8,0zM170.1,392.9a9.4,9.4 0 1,0 18.8,0a9.4,9.4 0 1,0 -18.8,0zM170.1,390.8a9.4,9.4 0 1,0 18.8,0a9.4,9.4 0 1,0 -18.8,0zM170.1,388.7a9.4,9.4 0 1,0 18.8,0a9.4,9.4 0 1,0 -18.8,0zM170.1,386.6a9.4,9.4 0 1,0 18.8,0a9.4,9.4 0 1,0 -18.8,0zM170.1,384.5a9.4,9.4 0 1,0 18.8,0a9.4,9.4 0 1,0 -18.8,0zM170.1,382.5a9.4,9.4 0 1,0 18.8,0a9.4,9.4 0 1,0 -18.8,0zM170.1,380.4a9.4,9.4 0 1,0 18.8,0a9.4,9.4 0 1,0 -18.8,0zM170.1,378.3a9.4,9.4 0 1,0 18.8,0a9.4,9.4 0 1,0 -18.8,0zM170.1,376.2a9.4,9.4 0 1,0 18.8,0a9.4,9.4 0 1,0 -18.8,0zM177.3,405.1a9.4,9.4 0 1,0 18.8,0a9.4,9.4 0 1,0 -18.8,0zM177.3,403.0a9.4,9.4 0 1,0 18.8,0a9.4,9.4 0 1,0 -18.8,0zM177.3,400.9a9.4,9.4 0 1,0 18.8,0a9.4,9.4 0 1,0 -18.8,0zM177.3,398.8a9.4,9.4 0 1,0 18.8,0a9.4,9.4 0 1,0 -18.8,0zM177.3,396.7a9.4,9.4 0 1,0 18.8,0a9.4,9.4 0 1,0 -18.8,0zM177.3,394.6a9.4,9.4 0 1,0 18.8,0a9.4,9.4 0 1,0 -18.8,0zM177.3,392.5a9.4,9.4 0 1,0 18.8,0a9.4,9.4 0 1,0 -18.8,0zM177.3,390.3a9.4,9.4 0 1,0 18.8,0a9.4,9.4 0 1,0 -18.8,0zM177.3,388.2a9.4,9.4 0 1,0 18.8,0a9.4,9.4 0 1,0 -18.8,0zM177.3,386.1a9.4,9.4 0 1,0 18.8,0a9.4,9.4 0 1,0 -18.8,0zM177.3,384.0a9.4,9.4 0 1,0 18.8,0a9.4,9.4 0 1,0 -18.8,0zM177.3,381.9a9.4,9.4 0 1,0 18.8,0a9.4,9.4 0 1,0 -18.8,0zM177.3,379.8a9.4,9.4 0 1,0 18.8,0a9.4,9.4 0 1,0 -18.8,0zM177.3,377.7a9.4,9.4 0 1,0 18.8,0a9.4,9.4 0 1,0 -18.8,0zM177.3,375.5a9.4,9.4 0 1,0 18.8,0a9.4,9.4 0 1,0 -18.8,0zM177.3,373.4a9.4,9.4 0 1,0 18.8,0a9.4,9.4 0 1,0 -18.8,0zM186.3,402.1a9.4,9.4 0 1,0 18.8,0a9.4,9.4 0 1,0 -18.8,0zM186.3,400.1a9.4,9.4 0 1,0 18.8,0a9.4,9.4 0 1,0 -18.8,0zM186.3,398.0a9.4,9.4 0 1,0 18.8,0a9.4,9.4 0 1,0 -18.8,0zM186.3,396.0a9.4,9.4 0 1,0 18.8,0a9.4,9.4 0 1,0 -18.8,0zM186.3,394.0a9.4,9.4 0 1,0 18.8,0a9.4,9.4 0 1,0 -18.8,0zM186.3,392.0a9.4,9.4 0 1,0 18.8,0a9.4,9.4 0 1,0 -18.8,0zM186.3,390.0a9.4,9.4 0 1,0 18.8,0a9.4,9.4 0 1,0 -18.8,0zM186.3,387.9a9.4,9.4 0 1,0 18.8,0a9.4,9.4 0 1,0 -18.8,0zM186.3,385.9a9.4,9.4 0 1,0 18.8,0a9.4,9.4 0 1,0 -18.8,0zM186.3,383.9a9.4,9.4 0 1,0 18.8,0a9.4,9.4 0 1,0 -18.8,0zM186.3,381.9a9.4,9.4 0 1,0 18.8,0a9.4,9.4 0 1,0 -18.8,0zM186.3,379.9a9.4,9.4 0 1,0 18.8,0a9.4,9.4 0 1,0 -18.8,0zM186.3,377.8a9.4,9.4 0 1,0 18.8,0a9.4,9.4 0 1,0 -18.8,0zM186.3,375.8a9.4,9.4 0 1,0 18.8,0a9.4,9.4 0 1,0 -18.8,0zM186.3,373.8a9.4,9.4 0 1,0 18.8,0a9.4,9.4 0 1,0 -18.8,0zM186.3,371.8a9.4,9.4 0 1,0 18.8,0a9.4,9.4 0 1,0 -18.8,0zM186.3,369.7a9.4,9.4 0 1,0 18.8,0a9.4,9.4 0 1,0 -18.8,0zM197.9,398.1a9.4,9.4 0 1,0 18.8,0a9.4,9.4 0 1,0 -18.8,0zM197.9,396.1a9.4,9.4 0 1,0 18.8,0a9.4,9.4 0 1,0 -18.8,0zM197.9,394.0a9.4,9.4 0 1,0 18.8,0a9.4,9.4 0 1,0 -18.8,0zM197.9,392.0a9.4,9.4 0 1,0 18.8,0a9.4,9.4 0 1,0 -18.8,0zM197.9,389.9a9.4,9.4 0 1,0 18.8,0a9.4,9.4 0 1,0 -18.8,0zM197.9,387.8a9.4,9.4 0 1,0 18.8,0a9.4,9.4 0 1,0 -18.8,0zM197.9,385.8a9.4,9.4 0 1,0 18.8,0a9.4,9.4 0 1,0 -18.8,0zM197.9,383.7a9.4,9.4 0 1,0 18.8,0a9.4,9.4 0 1,0 -18.8,0zM197.9,381.7a9.4,9.4 0 1,0 18.8,0a9.4,9.4 0 1,0 -18.8,0zM197.9,379.6a9.4,9.4 0 1,0 18.8,0a9.4,9.4 0 1,0 -18.8,0zM197.9,377.6a9.4,9.4 0 1,0 18.8,0a9.4,9.4 0 1,0 -18.8,0zM197.9,375.5a9.4,9.4 0 1,0 18.8,0a9.4,9.4 0 1,0 -18.8,0zM197.9,373.5a9.4,9.4 0 1,0 18.8,0a9.4,9.4 0 1,0 -18.8,0zM197.9,371.4a9.4,9.4 0 1,0 18.8,0a9.4,9.4 0 1,0 -18.8,0zM197.9,369.3a9.4,9.4 0 1,0 18.8,0a9.4,9.4 0 1,0 -18.8,0zM197.9,367.3a9.4,9.4 0 1,0 18.8,0a9.4,9.4 0 1,0 -18.8,0zM197.9,365.2a9.4,9.4 0 1,0 18.8,0a9.4,9.4 0 1,0 -18.8,0zM212.6,393.0a9.4,9.4 0 1,0 18.8,0a9.4,9.4 0 1,0 -18.8,0zM212.6,390.9a9.4,9.4 0 1,0 18.8,0a9.4,9.4 0 1,0 -18.8,0zM212.6,388.8a9.4,9.4 0 1,0 18.8,0a9.4,9.4 0 1,0 -18.8,0zM212.6,386.7a9.4,9.4 0 1,0 18.8,0a9.4,9.4 0 1,0 -18.8,0zM212.6,384.6a9.4,9.4 0 1,0 18.8,0a9.4,9.4 0 1,0 -18.8,0zM212.6,382.5a9.4,9.4 0 1,0 18.8,0a9.4,9.4 0 1,0 -18.8,0zM212.6,380.4a9.4,9.4 0 1,0 18.8,0a9.4,9.4 0 1,0 -18.8,0zM212.6,378.4a9.4,9.4 0 1,0 18.8,0a9.4,9.4 0 1,0 -18.8,0zM212.6,376.3a9.4,9.4 0 1,0 18.8,0a9.4,9.4 0 1,0 -18.8,0zM212.6,374.2a9.4,9.4 0 1,0 18.8,0a9.4,9.4 0 1,0 -18.8,0zM212.6,372.1a9.4,9.4 0 1,0 18.8,0a9.4,9.4 0 1,0 -18.8,0zM212.6,370.0a9.4,9.4 0 1,0 18.8,0a9.4,9.4 0 1,0 -18.8,0zM212.6,367.9a9.4,9.4 0 1,0 18.8,0a9.4,9.4 0 1,0 -18.8,0zM212.6,365.8a9.4,9.4 0 1,0 18.8,0a9.4,9.4 0 1,0 -18.8,0zM212.6,363.7a9.4,9.4 0 1,0 18.8,0a9.4,9.4 0 1,0 -18.8,0zM212.6,361.6a9.4,9.4 0 1,0 18.8,0a9.4,9.4 0 1,0 -18.8,0zM212.6,359.5a9.4,9.4 0 1,0 18.8,0a9.4,9.4 0 1,0 -18.8,0zM231.3,386.5a9.4,9.4 0 1,0 18.8,0a9.4,9.4 0 1,0 -18.8,0zM231.3,384.4a9.4,9.4 0 1,0 18.8,0a9.4,9.4 0 1,0 -18.8,0zM231.3,382.4a9.4,9.4 0 1,0 18.8,0a9.4,9.4 0 1,0 -18.8,0zM231.3,380.4a9.4,9.4 0 1,0 18.8,0a9.4,9.4 0 1,0 -18.8,0zM231.3,378.3a9.4,9.4 0 1,0 18.8,0a9.4,9.4 0 1,0 -18.8,0zM231.3,376.3a9.4,9.4 0 1,0 18.8,0a9.4,9.4 0 1,0 -18.8,0zM231.3,374.3a9.4,9.4 0 1,0 18.8,0a9.4,9.4 0 1,0 -18.8,0zM231.3,372.3a9.4,9.4 0 1,0 18.8,0a9.4,9.4 0 1,0 -18.8,0zM231.3,370.2a9.4,9.4 0 1,0 18.8,0a9.4,9.4 0 1,0 -18.8,0zM231.3,368.2a9.4,9.4 0 1,0 18.8,0a9.4,9.4 0 1,0 -18.8,0zM231.3,366.2a9.4,9.4 0 1,0 18.8,0a9.4,9.4 0 1,0 -18.8,0zM231.3,364.2a9.4,9.4 0 1,0 18.8,0a9.4,9.4 0 1,0 -18.8,0zM231.3,362.1a9.4,9.4 0 1,0 18.8,0a9.4,9.4 0 1,0 -18.8,0zM231.3,360.1a9.4,9.4 0 1,0 18.8,0a9.4,9.4 0 1,0 -18.8,0zM231.3,358.1a9.4,9.4 0 1,0 18.8,0a9.4,9.4 0 1,0 -18.8,0zM231.3,356.0a9.4,9.4 0 1,0 18.8,0a9.4,9.4 0 1,0 -18.8,0zM231.3,354.0a9.4,9.4 0 1,0 18.8,0a9.4,9.4 0 1,0 -18.8,0zM231.3,352.0a9.4,9.4 0 1,0 18.8,0a9.4,9.4 0 1,0 -18.8,0zM255.2,376.8a9.4,9.4 0 1,0 18.8,0a9.4,9.4 0 1,0 -18.8,0zM255.2,374.8a9.4,9.4 0 1,0 18.8,0a9.4,9.4 0 1,0 -18.8,0zM255.2,372.8a9.4,9.4 0 1,0 18.8,0a9.4,9.4 0 1,0 -18.8,0zM255.2,370.8a9.4,9.4 0 1,0 18.8,0a9.4,9.4 0 1,0 -18.8,0zM255.2,368.8a9.4,9.4 0 1,0 18.8,0a9.4,9.4 0 1,0 -18.8,0zM255.2,366.8a9.4,9.4 0 1,0 18.8,0a9.4,9.4 0 1,0 -18.8,0zM255.2,364.7a9.4,9.4 0 1,0 18.8,0a9.4,9.4 0 1,0 -18.8,0zM255.2,362.7a9.4,9.4 0 1,0 18.8,0a9.4,9.4 0 1,0 -18.8,0zM255.2,360.7a9.4,9.4 0 1,0 18.8,0a9.4,9.4 0 1,0 -18.8,0zM255.2,358.7a9.4,9.4 0 1,0 18.8,0a9.4,9.4 0 1,0 -18.8,0zM255.2,356.7a9.4,9.4 0 1,0 18.8,0a9.4,9.4 0 1,0 -18.8,0zM255.2,354.6a9.4,9.4 0 1,0 18.8,0a9.4,9.4 0 1,0 -18.8,0zM255.2,352.6a9.4,9.4 0 1,0 18.8,0a9.4,9.4 0 1,0 -18.8,0zM255.2,350.6a9.4,9.4 0 1,0 18.8,0a9.4,9.4 0 1,0 -18.8,0zM255.2,348.6a9.4,9.4 0 1,0 18.8,0a9.4,9.4 0 1,0 -18.8,0zM255.2,346.6a9.4,9.4 0 1,0 18.8,0a9.4,9.4 0 1,0 -18.8,0zM255.2,344.6a9.4,9.4 0 1,0 18.8,0a9.4,9.4 0 1,0 -18.8,0zM255.2,342.5a9.4,9.4 0 1,0 18.8,0a9.4,9.4 0 1,0 -18.8,0zM285.7,365.5a9.4,9.4 0 1,0 18.8,0a9.4,9.4 0 1,0 -18.8,0zM285.7,363.5a9.4,9.4 0 1,0 18.8,0a9.4,9.4 0 1,0 -18.8,0zM285.7,361.4a9.4,9.4 0 1,0 18.8,0a9.4,9.4 0 1,0 -18.8,0zM285.7,359.3a9.4,9.4 0 1,0 18.8,0a9.4,9.4 0 1,0 -18.8,0zM285.7,357.3a9.4,9.4 0 1,0 18.8,0a9.4,9.4 0 1,0 -18.8,0zM285.7,355.2a9.4,9.4 0 1,0 18.8,0a9.4,9.4 0 1,0 -18.8,0zM285.7,353.2a9.4,9.4 0 1,0 18.8,0a9.4,9.4 0 1,0 -18.8,0zM285.7,351.1a9.4,9.4 0 1,0 18.8,0a9.4,9.4 0 1,0 -18.8,0zM285.7,349.1a9.4,9.4 0 1,0 18.8,0a9.4,9.4 0 1,0 -18.8,0zM285.7,347.0a9.4,9.4 0 1,0 18.8,0a9.4,9.4 0 1,0 -18.8,0zM285.7,344.9a9.4,9.4 0 1,0 18.8,0a9.4,9.4 0 1,0 -18.8,0zM285.7,342.9a9.4,9.4 0 1,0 18.8,0a9.4,9.4 0 1,0 -18.8,0zM285.7,340.8a9.4,9.4 0 1,0 18.8,0a9.4,9.4 0 1,0 -18.8,0zM285.7,338.8a9.4,9.4 0 1,0 18.8,0a9.4,9.4 0 1,0 -18.8,0zM285.7,336.7a9.4,9.4 0 1,0 18.8,0a9.4,9.4 0 1,0 -18.8,0zM285.7,334.7a9.4,9.4 0 1,0 18.8,0a9.4,9.4 0 1,0 -18.8,0zM285.7,332.6a9.4,9.4 0 1,0 18.8,0a9.4,9.4 0 1,0 -18.8,0zM285.7,330.6a9.4,9.4 0 1,0 18.8,0a9.4,9.4 0 1,0 -18.8,0zM324.5,350.1a9.4,9.4 0 1,0 18.8,0a9.4,9.4 0 1,0 -18.8,0zM324.5,348.1a9.4,9.4 0 1,0 18.8,0a9.4,9.4 0 1,0 -18.8,0zM324.5,346.0a9.4,9.4 0 1,0 18.8,0a9.4,9.4 0 1,0 -18.8,0zM324.5,344.0a9.4,9.4 0 1,0 18.8,0a9.4,9.4 0 1,0 -18.8,0zM324.5,341.9a9.4,9.4 0 1,0 18.8,0a9.4,9.4 0 1,0 -18.8,0zM324.5,339.9a9.4,9.4 0 1,0 18.8,0a9.4,9.4 0 1,0 -18.8,0zM324.5,337.8a9.4,9.4 0 1,0 18.8,0a9.4,9.4 0 1,0 -18.8,0zM324.5,335.8a9.4,9.4 0 1,0 18.8,0a9.4,9.4 0 1,0 -18.8,0zM324.5,333.7a9.4,9.4 0 1,0 18.8,0a9.4,9.4 0 1,0 -18.8,0zM324.5,331.7a9.4,9.4 0 1,0 18.8,0a9.4,9.4 0 1,0 -18.8,0zM324.5,329.6a9.4,9.4 0 1,0 18.8,0a9.4,9.4 0 1,0 -18.8,0zM324.5,327.6a9.4,9.4 0 1,0 18.8,0a9.4,9.4 0 1,0 -18.8,0zM324.5,325.5a9.4,9.4 0 1,0 18.8,0a9.4,9.4 0 1,0 -18.8,0zM324.5,323.4a9.4,9.4 0 1,0 18.8,0a9.4,9.4 0 1,0 -18.8,0zM324.5,321.4a9.4,9.4 0 1,0 18.8,0a9.4,9.4 0 1,0 -18.8,0zM324.5,319.3a9.4,9.4 0 1,0 18.8,0a9.4,9.4 0 1,0 -18.8,0zM324.5,317.3a9.4,9.4 0 1,0 18.8,0a9.4,9.4 0 1,0 -18.8,0zM324.5,315.2a9.4,9.4 0 1,0 18.8,0a9.4,9.4 0 1,0 -18.8,0zM374.0,330.2a9.4,9.4 0 1,0 18.8,0a9.4,9.4 0 1,0 -18.8,0zM374.0,328.2a9.4,9.4 0 1,0 18.8,0a9.4,9.4 0 1,0 -18.8,0zM374.0,326.1a9.4,9.4 0 1,0 18.8,0a9.4,9.4 0 1,0 -18.8,0zM374.0,324.1a9.4,9.4 0 1,0 18.8,0a9.4,9.4 0 1,0 -18.8,0zM374.0,322.1a9.4,9.4 0 1,0 18.8,0a9.4,9.4 0 1,0 -18.8,0zM374.0,320.0a9.4,9.4 0 1,0 18.8,0a9.4,9.4 0 1,0 -18.8,0zM374.0,318.0a9.4,9.4 0 1,0 18.8,0a9.4,9.4 0 1,0 -18.8,0zM374.0,316.0a9.4,9.4 0 1,0 18.8,0a9.4,9.4 0 1,0 -18.8,0zM374.0,314.0a9.4,9.4 0 1,0 18.8,0a9.4,9.4 0 1,0 -18.8,0zM374.0,311.9a9.4,9.4 0 1,0 18.8,0a9.4,9.4 0 1,0 -18.8,0zM374.0,309.9a9.4,9.4 0 1,0 18.8,0a9.4,9.4 0 1,0 -18.8,0zM374.0,307.9a9.4,9.4 0 1,0 18.8,0a9.4,9.4 0 1,0 -18.8,0zM374.0,305.8a9.4,9.4 0 1,0 18.8,0a9.4,9.4 0 1,0 -18.8,0zM374.0,303.8a9.4,9.4 0 1,0 18.8,0a9.4,9.4 0 1,0 -18.8,0zM374.0,301.8a9.4,9.4 0 1,0 18.8,0a9.4,9.4 0 1,0 -18.8,0zM374.0,299.8a9.4,9.4 0 1,0 18.8,0a9.4,9.4 0 1,0 -18.8,0zM374.0,297.7a9.4,9.4 0 1,0 18.8,0a9.4,9.4 0 1,0 -18.8,0zM374.0,295.7a9.4,9.4 0 1,0 18.8,0a9.4,9.4 0 1,0 -18.8,0zM437.0,305.9a9.4,9.4 0 1,0 18.8,0a9.4,9.4 0 1,0 -18.8,0zM437.0,303.9a9.4,9.4 0 1,0 18.8,0a9.4,9.4 0 1,0 -18.8,0zM437.0,301.8a9.4,9.4 0 1,0 18.8,0a9.4,9.4 0 1,0 -18.8,0zM437.0,299.7a9.4,9.4 0 1,0 18.8,0a9.4,9.4 0 1,0 -18.8,0zM437.0,297.7a9.4,9.4 0 1,0 18.8,0a9.4,9.4 0 1,0 -18.8,0zM437.0,295.6a9.4,9.4 0 1,0 18.8,0a9.4,9.4 0 1,0 -18.8,0zM437.0,293.5a9.4,9.4 0 1,0 18.8,0a9.4,9.4 0 1,0 -18.8,0zM437.0,291.5a9.4,9.4 0 1,0 18.8,0a9.4,9.4 0 1,0 -18.8,0zM437.0,289.4a9.4,9.4 0 1,0 18.8,0a9.4,9.4 0 1,0 -18.8,0zM437.0,287.4a9.4,9.4 0 1,0 18.8,0a9.4,9.4 0 1,0 -18.8,0zM437.0,285.3a9.4,9.4 0 1,0 18.8,0a9.4,9.4 0 1,0 -18.8,0zM437.0,283.2a9.4,9.4 0 1,0 18.8,0a9.4,9.4 0 1,0 -18.8,0zM437.0,281.2a9.4,9.4 0 1,0 18.8,0a9.4,9.4 0 1,0 -18.8,0zM437.0,279.1a9.4,9.4 0 1,0 18.8,0a9.4,9.4 0 1,0 -18.8,0zM437.0,277.0a9.4,9.4 0 1,0 18.8,0a9.4,9.4 0 1,0 -18.8,0zM437.0,275.0a9.4,9.4 0 1,0 18.8,0a9.4,9.4 0 1,0 -18.8,0zM437.0,272.9a9.4,9.4 0 1,0 18.8,0a9.4,9.4 0 1,0 -18.8,0zM437.0,270.9a9.4,9.4 0 1,0 18.8,0a9.4,9.4 0 1,0 -18.8,0z"/>
<path fill="#fde725" d="M147.1,383.2a9.4,9.4 0 1,0 18.8,0a9.4,9.4 0 1,0 -18.8,0zM147.1,380.2a9.4,9.4 0 1,0 18.8,0a9.4,9.4 0 1,0 -18.8,0zM147.1,377.1a9.4,9.4 0 1,0 18.8,0a9.4,9.4 0 1,0 -18.8,0zM147.1,374.1a9.4,9.4 0 1,0 18.8,0a9.4,9.4 0 1,0 -18.8,0zM147.1,371.1a9.4,9.4 0 1,0 18.8,0a9.4,9.4 0 1,0 -18.8,0zM147.1,368.0a9.4,9.4 0 1,0 18.8,0a9.4,9.4 0 1,0 -18.8,0zM147.1,365.0a9.4,9.4 0 1,0 18.8,0a9.4,9.4 0 1,0 -18.8,0zM147.1,362.0a9.4,9.4 0 1,0 18.8,0a9.4,9.4 0 1,0 -18.8,0zM147.1,358.9a9.4,9.4 0 1,0 18.8,0a9.4,9.4 0 1,0 -18.8,0zM147.1,355.9a9.4,9.4 0 1,0 18.8,0a9.4,9.4 0 1,0 -18.8,0zM147.1,352.9a9.4,9.4 0 1,0 18.8,0a9.4,9.4 0 1,0 -18.8,0zM147.1,349.8a9.4,9.4 0 1,0 18.8,0a9.4,9.4 0 1,0 -18.8,0zM147.1,346.8a9.4,9.4 0 1,0 18.8,0a9.4,9.4 0 1,0 -18.8,0zM147.1,343.8a9.4,9.4 0 1,0 18.8,0a9.4,9.4 0 1,0 -18.8,0zM147.1,340.7a9.4,9.4 0 1,0 18.8,0a9.4,9.4 0 1,0 -18.8,0zM147.1,337.7a9.4,9.4 0 1,0 18.8,0a9.4,9.4 0 1,0 -18.8,0zM147.1,334.7a9.4,9.4 0 1,0 18.8,0a9.4,9.4 0 1,0 -18.8,0zM147.1,331.7a9.4,9.4 0 1,0 18.8,0a9.4,9.4 0 1,0 -18.8,0zM147.1,328.6a9.4,9.4 0 1,0 18.8,0a9.4,9.4 0 1,0 -18.8,0zM147.1,325.6a9.4,9.4 0 1,0 18.8,0a9.4,9.4 0 1,0 -18.8,0zM147.1,322.6a9.4,9.4 0 1,0 18.8,0a9.4,9.4 0 1,0 -18.8,0zM147.1,319.5a9.4,9.4 0 1,0 18.8,0a9.4,9.4 0 1,0 -18.8,0zM147.1,316.5a9.4,9.4 0 1,0 18.8,0a9.4,9.4 0 1,0 -18.8,0zM147.1,313.5a9.4,9.4 0 1,0 18.8,0a9.4,9.4 0 1,0 -18.8,0zM147.1,310.4a9.4,9.4 0 1,0 18.8,0a9.4,9.4 0 1,0 -18.8,0zM147.1,307.4a9.4,9.4 0 1,0 18.8,0a9.4,9.4 0 1,0 -18.8,0zM147.1,286.6a9.4,9.4 0 1,0 18.8,0a9.4,9.4 0 1,0 -18.8,0zM147.1,255.6a9.4,9.4 0 1,0 18.8,0a9.4,9.4 0 1,0 -18.8,0zM147.9,382.9a9.4,9.4 0 1,0 18.8,0a9.4,9.4 0 1,0 -18.8,0zM147.9,379.8a9.4,9.4 0 1,0 18.8,0a9.4,9.4 0 1,0 -18.8,0zM147.9,376.8a9.4,9.4 0 1,0 18.8,0a9.4,9.4 0 1,0 -18.8,0zM147.9,373.8a9.4,9.4 0 1,0 18.8,0a9.4,9.4 0 1,0 -18.8,0zM147.9,370.7a9.4,9.4 0 1,0 18.8,0a9.4,9.4 0 1,0 -18.8,0zM147.9,367.7a9.4,9.4 0 1,0 18.8,0a9.4,9.4 0 1,0 -18.8,0zM147.9,364.7a9.4,9.4 0 1,0 18.8,0a9.4,9.4 0 1,0 -18.8,0zM147.9,361.6a9.4,9.4 0 1,0 18.8,0a9.4,9.4 0 1,0 -18.8,0zM147.9,358.6a9.4,9.4 0 1,0 18.8,0a9.4,9.4 0 1,0 -18.8,0zM147.9,355.6a9.4,9.4 0 1,0 18.8,0a9.4,9.4 0 1,0 -18.8,0zM147.9,352.5a9.4,9.4 0 1,0 18.8,0a9.4,9.4 0 1,0 -18.8,0zM147.9,349.5a9.4,9.4 0 1,0 18.8,0a9.4,9.4 0 1,0 -18.8,0zM147.9,346.5a9.4,9.4 0 1,0 18.8,0a9.4,9.4 0 1,0 -18.8,0zM147.9,343.4a9.4,9.4 0 1,0 18.8,0a9.4,9.4 0 1,0 -18.8,0zM147.9,340.4a9.4,9.4 0 1,0 18.8,0a9.4,9.4 0 1,0 -18.8,0zM147.9,337.4a9.4,9.4 0 1,0 18.8,0a9.4,9.4 0 1,0 -18.8,0zM147.9,334.3a9.4,9.4 0 1,0 18.8,0a9.4,9.4 0 1,0 -18.8,0zM147.9,331.3a9.4,9.4 0 1,0 18.8,0a9.4,9.4 0 1,0 -18.8,0zM147.9,328.3a9.4,9.4 0 1,0 18.8,0a9.4,9.4 0 1,0 -18.8,0zM147.9,325.2a9.4,9.4 0 1,0 18.8,0a9.4,9.4 0 1,0 -18.8,0zM147.9,322.2a9.4,9.4 0 1,0 18.8,0a9.4,9.4 0 1,0 -18.8,0zM147.9,319.2a9.4,9.4 0 1,0 18.8,0a9.4,9.4 0 1,0 -18.8,0zM147.9,316.1a9.4,9.4 0 1,0 18.8,0a9.4,9.4 0 1,0 -18.8,0zM147.9,313.1a9.4,9.4 0 1,0 18.8,0a9.4,9.4 0 1,0 -18.8,0zM147.9,310.1a9.4,9.4 0 1,0 18.8,0a9.4,9.4 0 1,0 -18.8,0zM147.9,307.0a9.4,9.4 0 1,0 18.8,0a9.4,9.4 0 1,0 -18.8,0zM147.9,286.3a9.4,9.4 0 1,0 18.8,0a9.4,9.4 0 1,0 -18.8,0zM147.9,255.3a9.4,9.4 0 1,0 18.8,0a9.4,9.4 0 1,0 -18.8,0zM149.0,382.5a9.4,9.4 0 1,0 18.8,0a9.4,9.4 0 1,0 -18.8,0zM149.0,379.4a9.4,9.4 0 1,0 18.8,0a9.4,9.4 0 1,0 -18.8,0zM149.0,376.4a9.4,9.4 0 1,0 18.8,0a9.4,9.4 0 1,0 -18.8,0zM149.0,373.4a9.4,9.4 0 1,0 18.8,0a9.4,9.4 0 1,0 -18.8,0zM149.0,370.3a9.4,9.4 0 1,0 18.8,0a9.4,9.4 0 1,0 -18.8,0zM149.0,367.3a9.4,9.4 0 1,0 18.8,0a9.4,9.4 0 1,0 -18.8,0zM149.0,364.3a9.4,9.4 0 1,0 18.8,0a9.4,9.4 0 1,0 -18.8,0zM149.0,361.2a9.4,9.4 0 1,0 18.8,0a9.4,9.4 0 1,0 -18.8,0zM149.0,358.2a9.4,9.4 0 1,0 18.8,0a9.4,9.4 0 1,0 -18.8,0zM149.0,355.2a9.4,9.4 0 1,0 18.8,0a9.4,9.4 0 1,0 -18.8,0zM149.0,352.1a9.4,9.4 0 1,0 18.8,0a9.4,9.4 0 1,0 -18.8,0zM149.0,349.1a9.4,9.4 0 1,0 18.8,0a9.4,9.4 0 1,0 -18.8,0zM149.0,346.0a9.4,9.4 0 1,0 18.8,0a9.4,9.4 0 1,0 -18.8,0zM149.0,343.0a9.4,9.4 0 1,0 18.8,0a9.4,9.4 0 1,0 -18.8,0zM149.0,340.0a9.4,9.4 0 1,0 18.8,0a9.4,9.4 0 1,0 -18.8,0zM149.0,336.9a9.4,9.4 0 1,0 18.8,0a9.4,9.4 0 1,0 -18.8,0zM149.0,333.9a9.4,9.4 0 1,0 18.8,0a9.4,9.4 0 1,0 -18.8,0zM149.0,330.9a9.4,9.4 0 1,0 18.8,0a9.4,9.4 0 1,0 -18.8,0zM149.0,327.8a9.4,9.4 0 1,0 18.8,0a9.4,9.4 0 1,0 -18.8,0zM149.0,324.8a9.4,9.4 0 1,0 18.8,0a9.4,9.4 0 1,0 -18.8,0zM149.0,321.8a9.4,9.4 0 1,0 18.8,0a9.4,9.4 0 1,0 -18.8,0zM149.0,318.7a9.4,9.4 0 1,0 18.8,0a9.4,9.4 0 1,0 -18.8,0zM149.0,315.7a9.4,9.4 0 1,0 18.8,0a9.4,9.4 0 1,0 -18.8,0zM149.0,312.7a9.4,9.4 0 1,0 18.8,0a9.4,9.4 0 1,0 -18.8,0zM149.0,309.6a9.4,9.4 0 1,0 18.8,0a9.4,9.4 0 1,0 -18.8,0zM149.0,306.6a9.4,9.4 0 1,0 18.8,0a9.4,9.4 0 1,0 -18.8,0zM149.0,285.9a9.4,9.4 0 1,0 18.8,0a9.4,9.4 0 1,0 -18.8,0zM149.0,254.9a9.4,9.4 0 1,0 18.8,0a9.4,9.4 0 1,0 -18.8,0zM150.3,382.0a9.4,9.4 0 1,0 18.8,0a9.4,9.4 0 1,0 -18.8,0zM150.3,378.9a9.4,9.4 0 1,0 18.8,0a9.4,9.4 0 1,0 -18.8,0zM150.3,375.9a9.4,9.4 0 1,0 18.8,0a9.4,9.4 0 1,0 -18.8,0zM150.3,372.8a9.4,9.4 0 1,0 18.8,0a9.4,9.4 0 1,0 -18.8,0zM150.3,369.8a9.4,9.4 0 1,0 18.8,0a9.4,9.4 0 1,0 -18.8,0zM150.3,366.8a9.4,9.4 0 1,0 18.8,0a9.4,9.4 0 1,0 -18.8,0zM150.3,363.7a9.4,9.4 0 1,0 18.8,0a9.4,9.4 0 1,0 -18.8,0zM150.3,360.7a9.4,9.4 0 1,0 18.8,0a9.4,9.4 0 1,0 -18.8,0zM150.3,357.7a9.4,9.4 0 1,0 18.8,0a9.4,9.4 0 1,0 -18.8,0zM150.3,354.6a9.4,9.4 0 1,0 18.8,0a9.4,9.4 0 1,0 -18.8,0zM150.3,351.6a9.4,9.4 0 1,0 18.8,0a9.4,9.4 0 1,0 -18.8,0zM150.3,348.5a9.4,9.4 0 1,0 18.8,0a9.4,9.4 0 1,0 -18.8,0zM150.3,345.5a9.4,9.4 0 1,0 18.8,0a9.4,9.4 0 1,0 -18.8,0zM150.3,342.5a9.4,9.4 0 1,0 18.8,0a9.4,9.4 0 1,0 -18.8,0zM150.3,339.4a9.4,9.4 0 1,0 18.8,0a9.4,9.4 0 1,0 -18.8,0zM150.3,336.4a9.4,9.4 0 1,0 18.8,0a9.4,9.4 0 1,0 -18.8,0zM150.3,333.4a9.4,9.4 0 1,0 18.8,0a9.4,9.4 0 1,0 -18.8,0zM150.3,330.3a9.4,9.4 0 1,0 18.8,0a9.4,9.4 0 1,0 -18.8,0zM150.3,327.3a9.4,9.4 0 1,0 18.8,0a9.4,9.4 0 1,0 -18.8,0zM150.3,324.2a9.4,9.4 0 1,0 18.8,0a9.4,9.4 0 1,0 -18.8,0zM150.3,321.2a9.4,9.4 0 1,0 18.8,0a9.4,9.4 0 1,0 -18.8,0zM150.3,318.2a9.4,9.4 0 1,0 18.8,0a9.4,9.4 0 1,0 -18.8,0zM150.3,315.1a9.4,9.4 0 1,0 18.8,0a9.4,9.4 0 1,0 -18.8,0zM150.3,312.1a9.4,9.4 0 1,0 18.8,0a9.4,9.4 0 1,0 -18.8,0zM150.3,309.0a9.4,9.4 0 1,0 18.8,0a9.4,9.4 0 1,0 -18.8,0zM150.3,306.0a9.4,9.4 0 1,0 18.8,0a9.4,9.4 0 1,0 -18.8,0zM150.3,285.3a9.4,9.4 0 1,0 18.8,0a9.4,9.4 0 1,0 -18.8,0zM150.3,254.4a9.4,9.4 0 1,0 18.8,0a9.4,9.4 0 1,0 -18.8,0zM151.9,381.3a9.4,9.4 0 1,0 18.8,0a9.4,9.4 0 1,0 -18.8,0zM151.9,378.3a9.4,9.4 0 1,0 18.8,0a9.4,9.4 0 1,0 -18.8,0zM151.9,375.2a9.4,9.4 0 1,0 18.8,0a9.4,9.4 0 1,0 -18.8,0zM151.9,372.2a9.4,9.4 0 1,0 18.8,0a9.4,9.4 0 1,0 -18.8,0zM151.9,369.1a9.4,9.4 0 1,0 18.8,0a9.4,9.4 0 1,0 -18.8,0zM151.9,366.1a9.4,9.4 0 1,0 18.8,0a9.4,9.4 0 1,0 -18.8,0zM151.9,363.1a9.4,9.4 0 1,0 18.8,0a9.4,9.4 0 1,0 -18.8,0zM151.9,360.0a9.4,9.4 0 1,0 18.8,0a9.4,9.4 0 1,0 -18.8,0zM151.9,357.0a9.4,9.4 0 1,0 18.8,0a9.4,9.4 0 1,0 -18.8,0zM151.9,353.9a9.4,9.4 0 1,0 18.8,0a9.4,9.4 0 1,0 -18.8,0zM151.9,350.9a9.4,9.4 0 1,0 18.8,0a9.4,9.4 0 1,0 -18.8,0zM151.9,347.8a9.4,9.4 0 1,0 18.8,0a9.4,9.4 0 1,0 -18.8,0zM151.9,344.8a9.4,9.4 0 1,0 18.8,0a9.4,9.4 0 1,0 -18.8,0zM151.9,341.8a9.4,9.4 0 1,0 18.8,0a9.4,9.4 0 1,0 -18.8,0zM151.9,338.7a9.4,9.4 0 1,0 18.8,0a9.4,9.4 0 1,0 -18.8,0zM151.9,335.7a9.4,9.4 0 1,0 18.8,0a9.4,9.4 0 1,0 -18.8,0zM151.9,332.6a9.4,9.4 0 1,0 18.8,0a9.4,9.4 0 1,0 -18.8,0zM151.9,329.6a9.4,9.4 0 1,0 18.8,0a9.4,9.4 0 1,0 -18.8,0zM151.9,326.6a9.4,9.4 0 1,0 18.8,0a9.4,9.4 0 1,0 -18.8,0zM151.9,323.5a9.4,9.4 0 1,0 18.8,0a9.4,9.4 0 1,0 -18.8,0zM151.9,320.5a9.4,9.4 0 1,0 18.8,0a9.4,9.4 0 1,0 -18.8,0zM151.9,317.4a9.4,9.4 0 1,0 18.8,0a9.4,9.4 0 1,0 -18.8,0zM151.9,314.4a9.4,9.4 0 1,0 18.8,0a9.4,9.4 0 1,0 -18.8,0zM151.9,311.4a9.4,9.4 0 1,0 18.8,0a9.4,9.4 0 1,0 -18.8,0zM151.9,308.3a9.4,9.4 0 1,0 18.8,0a9.4,9.4 0 1,0 -18.8,0zM151.9,305.3a9.4,9.4 0 1,0 18.8,0a9.4,9.4 0 1,0 -18.8,0zM151.9,284.6a9.4,9.4 0 1,0 18.8,0a9.4,9.4 0 1,0 -18.8,0zM151.9,253.8a9.4,9.4 0 1,0 18.8,0a9.4,9.4 0 1,0 -18.8,0zM154.0,380.5a9.4,9.4 0 1,0 18.8,0a9.4,9.4 0 1,0 -18.8,0zM154.0,377.4a9.4,9.4 0 1,0 18.8,0a9.4,9.4 0 1,0 -18.8,0zM154.0,374.4a9.4,9.4 0 1,0 18.8,0a9.4,9.4 0 1,0 -18.8,0zM154.0,371.3a9.4,9.4 0 1,0 18.8,0a9.4,9.4 0 1,0 -18.8,0zM154.0,368.3a9.4,9.4 0 1,0 18.8,0a9.4,9.4 0 1,0 -18.8,0zM154.0,365.2a9.4,9.4 0 1,0 18.8,0a9.4,9.4 0 1,0 -18.8,0zM154.0,362.2a9.4,9.4 0 1,0 18.8,0a9.4,9.4 0 1,0 -18.8,0zM154.0,359.2a9.4,9.4 0 1,0 18.8,0a9.4,9.4 0 1,0 -18.8,0zM154.0,356.1a9.4,9.4 0 1,0 18.8,0a9.4,9.4 0 1,0 -18.8,0zM154.0,353.1a9.4,9.4 0 1,0 18.8,0a9.4,9.4 0 1,0 -18.8,0zM154.0,350.0a9.4,9.4 0 1,0 18.8,0a9.4,9.4 0 1,0 -18.8,0zM154.0,347.0a9.4,9.4 0 1,0 18.8,0a9.4,9.4 0 1,0 -18.8,0zM154.0,343.9a9.4,9.4 0 1,0 18.8,0a9.4,9.4 0 1,0 -18.8,0zM154.0,340.9a9.4,9.4 0 1,0 18.8,0a9.4,9.4 0 1,0 -18.8,0zM154.0,337.8a9.4,9.4 0 1,0 18.8,0a9.4,9.4 0 1,0 -18.8,0zM154.0,334.8a9.4,9.4 0 1,0 18.8,0a9.4,9.4 0 1,0 -18.8,0zM154.0,331.7a9.4,9.4 0 1,0 18.8,0a9.4,9.4 0 1,0 -18.8,0zM154.0,328.7a9.4,9.4 0 1,0 18.8,0a9.4,9.4 0 1,0 -18.8,0zM154.0,325.7a9.4,9.4 0 1,0 18.8,0a9.4,9.4 0 1,0 -18.8,0zM154.0,322.6a9.4,9.4 0 1,0 18.8,0a9.4,9.4 0 1,0 -18.8,0zM154.0,319.6a9.4,9.4 0 1,0 18.8,0a9.4,9.4 0 1,0 -18.8,0zM154.0,316.5a9.4,9.4 0 1,0 18.8,0a9.4,9.4 0 1,0 -18.8,0zM154.0,313.5a9.4,9.4 0 1,0 18.8,0a9.4,9.4 0 1,0 -18.8,0zM154.0,310.4a9.4,9.4 0 1,0 18.8,0a9.4,9.4 0 1,0 -18.8,0zM154.0,307.4a9.4,9.4 0 1,0 18.8,0a9.4,9.4 0 1,0 -18.8,0zM154.0,304.3a9.4,9.4 0 1,0 18.8,0a9.4,9.4 0 1,0 -18.8,0zM154.0,283.8a9.4,9.4 0 1,0 18.8,0a9.4,9.4 0 1,0 -18.8,0zM154.0,253.0a9.4,9.4 0 1,0 18.8,0a9.4,9.4 0 1,0 -18.8,0zM156.7,379.4a9.4,9.4 0 1,0 18.8,0a9.4,9.4 0 1,0 -18.8,0zM156.7,376.4a9.4,9.4 0 1,0 18.8,0a9.4,9.4 0 1,0 -18.8,0zM156.7,373.3a9.4,9.4 0 1,0 18.8,0a9.4,9.4 0 1,0 -18.8,0zM156.7,370.3a9.4,9.4 0 1,0 18.8,0a9.4,9.4 0 1,0 -18.8,0zM156.7,367.2a9.4,9.4 0 1,0 18.8,0a9.4,9.4 0 1,0 -18.8,0zM156.7,364.2a9.4,9.4 0 1,0 18.8,0a9.4,9.4 0 1,0 -18.8,0zM156.7,361.1a9.4,9.4 0 1,0 18.8,0a9.4,9.4 0 1,0 -18.8,0zM156.7,358.0a9.4,9.4 0 1,0 18.8,0a9.4,9.4 0 1,0 -18.8,0zM156.7,355.0a9.4,9.4 0 1,0 18.8,0a9.4,9.4 0 1,0 -18.8,0zM156.7,351.9a9.4,9.4 0 1,0 18.8,0a9.4,9.4 0 1,0 -18.8,0zM156.7,348.9a9.4,9.4 0 1,0 18.8,0a9.4,9.4 0 1,0 -18.8,0zM156.7,345.8a9.4,9.4 0 1,0 18.8,0a9.4,9.4 0 1,0 -18.8,0zM156.7,342.8a9.4,9.4 0 1,0 18.8,0a9.4,9.4 0 1,0 -18.8,0zM156.7,339.7a9.4,9.4 0 1,0 18.8,0a9.4,9.4 0 1,0 -18.8,0zM156.7,336.7a9.4,9.4 0 1,0 18.8,0a9.4,9.4 0 1,0 -18.8,0zM156.7,333.6a9.4,9.4 0 1,0 18.8,0a9.4,9.4 0 1,0 -18.8,0zM156.7,330.6a9.4,9.4 0 1,0 18.8,0a9.4,9.4 0 1,0 -18.8,0zM156.7,327.5a9.4,9.4 0 1,0 18.8,0a9.4,9.4 0 1,0 -18.8,0zM156.7,324.5a9.4,9.4 0 1,0 18.8,0a9.4,9.4 0 1,0 -18.8,0zM156.7,321.4a9.4,9.4 0 1,0 18.8,0a9.4,9.4 0 1,0 -18.8,0zM156.7,318.4a9.4,9.4 0 1,0 18.8,0a9.4,9.4 0 1,0 -18.8,0zM156.7,315.3a9.4,9.4 0 1,0 18.8,0a9.4,9.4 0 1,0 -18.8,0zM156.7,312.3a9.4,9.4 0 1,0 18.8,0a9.4,9.4 0 1,0 -18.8,0zM156.7,309.2a9.4,9.4 0 1,0 18.8,0a9.4,9.4 0 1,0 -18.8,0zM156.7,306.2a9.4,9.4 0 1,0 18.8,0a9.4,9.4 0 1,0 -18.8,0zM156.7,303.1a9.4,9.4 0 1,0 18.8,0a9.4,9.4 0 1,0 -18.8,0zM156.7,282.6a9.4,9.4 0 1,0 18.8,0a9.4,9.4 0 1,0 -18.8,0zM156.7,251.9a9.4,9.4 0 1,0 18.8,0a9.4,9.4 0 1,0 -18.8,0zM160.2,378.0a9.4,9.4 0 1,0 18.8,0a9.4,9.4 0 1,0 -18.8,0zM160.2,375.0a9.4,9.4 0 1,0 18.8,0a9.4,9.4 0 1,0 -18.8,0zM160.2,371.9a9.4,9.4 0 1,0 18.8,0a9.4,9.4 0 1,0 -18.8,0zM160.2,368.9a9.4,9.4 0 1,0 18.8,0a9.4,9.4 0 1,0 -18.8,0zM160.2,365.8a9.4,9.4 0 1,0 18.8,0a9.4,9.4 0 1,0 -18.8,0zM160.2,362.8a9.4,9.4 0 1,0 18.8,0a9.4,9.4 0 1,0 -18.8,0zM160.2,359.7a9.4,9.4 0 1,0 18.8,0a9.4,9.4 0 1,0 -18.8,0zM160.2,356.6a9.4,9.4 0 1,0 18.8,0a9.4,9.4 0 1,0 -18.8,0zM160.2,353.6a9.4,9.4 0 1,0 18.8,0a9.4,9.4 0 1,0 -18.8,0zM160.2,350.5a9.4,9.4 0 1,0 18.8,0a9.4,9.4 0 1,0 -18.8,0zM160.2,347.5a9.4,9.4 0 1,0 18.8,0a9.4,9.4 0 1,0 -18.8,0zM160.2,344.4a9.4,9.4 0 1,0 18.8,0a9.4,9.4 0 1,0 -18.8,0zM160.2,341.4a9.4,9.4 0 1,0 18.8,0a9.4,9.4 0 1,0 -18.8,0zM160.2,338.3a9.4,9.4 0 1,0 18.8,0a9.4,9.4 0 1,0 -18.8,0zM160.2,335.2a9.4,9.4 0 1,0 18.8,0a9.4,9.4 0 1,0 -18.8,0zM160.2,332.2a9.4,9.4 0 1,0 18.8,0a9.4,9.4 0 1,0 -18.8,0zM160.2,329.1a9.4,9.4 0 1,0 18.8,0a9.4,9.4 0 1,0 -18.8,0zM160.2,326.1a9.4,9.4 0 1,0 18.8,0a9.4,9.4 0 1,0 -18.8,0zM160.2,323.0a9.4,9.4 0 1,0 18.8,0a9.4,9.4 0 1,0 -18.8,0zM160.2,320.0a9.4,9.4 0 1,0 18.8,0a9.4,9.4 0 1,0 -18.8,0zM160.2,316.9a9.4,9.4 0 1,0 18.8,0a9.4,9.4 0 1,0 -18.8,0zM160.2,313.8a9.4,9.4 0 1,0 18.8,0a9.4,9.4 0 1,0 -18.8,0zM160.2,310.8a9.4,9.4 0 1,0 18.8,0a9.4,9.4 0 1,0 -18.8,0zM160.2,307.7a9.4,9.4 0 1,0 18.8,0a9.4,9.4 0 1,0 -18.8,0zM160.2,304.7a9.4,9.4 0 1,0 18.8,0a9.4,9.4 0 1,0 -18.8,0zM160.2,301.6a9.4,9.4 0 1,0 18.8,0a9.4,9.4 0 1,0 -18.8,0zM160.2,281.2a9.4,9.4 0 1,0 18.8,0a9.4,9.4 0 1,0 -18.8,0zM160.2,250.6a9.4,9.4 0 1,0 18.8,0a9.4,9.4 0 1,0 -18.8,0zM164.6,376.3a9.4,9.4 0 1,0 18.8,0a9.4,9.4 0 1,0 -18.8,0zM164.6,373.3a9.4,9.4 0 1,0 18.8,0a9.4,9.4 0 1,0 -18.8,0zM164.6,370.2a9.4,9.4 0 1,0 18.8,0a9.4,9.4 0 1,0 -18.8,0zM164.6,367.1a9.4,9.4 0 1,0 18.8,0a9.4,9.4 0 1,0 -18.8,0zM164.6,364.1a9.4,9.4 0 1,0 18.8,0a9.4,9.4 0 1,0 -18.8,0zM164.6,361.0a9.4,9.4 0 1,0 18.8,0a9.4,9.4 0 1,0 -18.8,0zM164.6,357.9a9.4,9.4 0 1,0 18.8,0a9.4,9.4 0 1,0 -18.8,0zM164.6,354.9a9.4,9.4 0 1,0 18.8,0a9.4,9.4 0 1,0 -18.8,0zM164.6,351.8a9.4,9.4 0 1,0 18.8,0a9.4,9.4 0 1,0 -18.8,0zM164.6,348.7a9.4,9.4 0 1,0 18.8,0a9.4,9.4 0 1,0 -18.8,0zM164.6,345.7a9.4,9.4 0 1,0 18.8,0a9.4,9.4 0 1,0 -18.8,0zM164.6,342.6a9.4,9.4 0 1,0 18.8,0a9.4,9.4 0 1,0 -18.8,0zM164.6,339.5a9.4,9.4 0 1,0 18.8,0a9.4,9.4 0 1,0 -18.8,0zM164.6,336.5a9.4,9.4 0 1,0 18.8,0a9.4,9.4 0 1,0 -18.8,0zM164.6,333.4a9.4,9.4 0 1,0 18.8,0a9.4,9.4 0 1,0 -18.8,0zM164.6,330.3a9.4,9.4 0 1,0 18.8,0a9.4,9.4 0 1,0 -18.8,0zM164.6,327.3a9.4,9.4 0 1,0 18.8,0a9.4,9.4 0 1,0 -18.8,0zM164.6,324.2a9.4,9.4 0 1,0 18.8,0a9.4,9.4 0 1,0 -18.8,0zM164.6,321.1a9.4,9.4 0 1,0 18.8,0a9.4,9.4 0 1,0 -18.8,0zM164.6,318.1a9.4,9.4 0 1,0 18.8,0a9.4,9.4 0 1,0 -18.8,0zM164.6,315.0a9.4,9.4 0 1,0 18.8,0a9.4,9.4 0 1,0 -18.8,0zM164.6,311.9a9.4,9.4 0 1,0 18.8,0a9.4,9.4 0 1,0 -18.8,0zM164.6,308.9a9.4,9.4 0 1,0 18.8,0a9.4,9.4 0 1,0 -18.8,0zM164.6,305.8a9.4,9.4 0 1,0 18.8,0a9.4,9.4 0 1,0 -18.8,0zM164.6,302.7a9.4,9.4 0 1,0 18.8,0a9.4,9.4 0 1,0 -18.8,0zM164.6,299.7a9.4,9.4 0 1,0 18.8,0a9.4,9.4 0 1,0 -18.8,0zM164.6,279.3a9.4,9.4 0 1,0 18.8,0a9.4,9.4 0 1,0 -18.8,0zM164.6,248.9a9.4,9.4 0 1,0 18.8,0a9.4,9.4 0 1,0 -18.8,0zM170.1,374.1a9.4,9.4 0 1,0 18.8,0a9.4,9.4 0 1,0 -18.8,0zM170.1,371.0a9.4,9.4 0 1,0 18.8,0a9.4,9.4 0 1,0 -18.8,0zM170.1,368.0a9.4,9.4 0 1,0 18.8,0a9.4,9.4 0 1,0 -18.8,0zM170.1,364.9a9.4,9.4 0 1,0 18.8,0a9.4,9.4 0 1,0 -18.8,0zM170.1,361.8a9.4,9.4 0 1,0 18.8,0a9.4,9.4 0 1,0 -18.8,0zM170.1,358.7a9.4,9.4 0 1,0 18.8,0a9.4,9.4 0 1,0 -18.8,0zM170.1,355.7a9.4,9.4 0 1,0 18.8,0a9.4,9.4 0 1,0 -18.8,0zM170.1,352.6a9.4,9.4 0 1,0 18.8,0a9.4,9.4 0 1,0 -18.8,0zM170.1,349.5a9.4,9.4 0 1,0 18.8,0a9.4,9.4 0 1,0 -18.8,0zM170.1,346.4a9.4,9.4 0 1,0 18.8,0a9.4,9.4 0 1,0 -18.8,0zM170.1,343.3a9.4,9.4 0 1,0 18.8,0a9.4,9.4 0 1,0 -18.8,0zM170.1,340.3a9.4,9.4 0 1,0 18.8,0a9.4,9.4 0 1,0 -18.8,0zM170.1,337.2a9.4,9.4 0 1,0 18.8,0a9.4,9.4 0 1,0 -18.8,0zM170.1,334.1a9.4,9.4 0 1,0 18.8,0a9.4,9.4 0 1,0 -18.8,0zM170.1,331.0a9.4,9.4 0 1,0 18.8,0a9.4,9.4 0 1,0 -18.8,0zM170.1,328.0a9.4,9.4 0 1,0 18.8,0a9.4,9.4 0 1,0 -18.8,0zM170.1,324.9a9.4,9.4 0 1,0 18.8,0a9.4,9.4 0 1,0 -18.8,0zM170.1,321.8a9.4,9.4 0 1,0 18.8,0a9.4,9.4 0 1,0 -18.8,0zM170.1,318.7a9.4,9.4 0 1,0 18.8,0a9.4,9.4 0 1,0 -18.8,0zM170.1,315.7a9.4,9.4 0 1,0 18.8,0a9.4,9.4 0 1,0 -18.8,0zM170.1,312.6a9.4,9.4 0 1,0 18.8,0a9.4,9.4 0 1,0 -18.8,0zM170.1,309.5a9.4,9.4 0 1,0 18.8,0a9.4,9.4 0 1,0 -18.8,0zM170.1,306.4a9.4,9.4 0 1,0 18.8,0a9.4,9.4 0 1,0 -18.8,0zM170.1,303.4a9.4,9.4 0 1,0 18.8,0a9.4,9.4 0 1,0 -18.8,0zM170.1,300.3a9.4,9.4 0 1,0 18.8,0a9.4,9.4 0 1,0 -18.8,0zM170.1,297.2a9.4,9.4 0 1,0 18.8,0a9.4,9.4 0 1,0 -18.8,0zM170.1,277.0a9.4,9.4 0 1,0 18.8,0a9.4,9.4 0 1,0 -18.8,0zM170.1,246.7a9.4,9.4 0 1,0 18.8,0a9.4,9.4 0 1,0 -18.8,0zM177.3,371.3a9.4,9.4 0 1,0 18.8,0a9.4,9.4 0 1,0 -18.8,0zM177.3,368.2a9.4,9.4 0 1,0 18.8,0a9.4,9.4 0 1,0 -18.8,0zM177.3,365.1a9.4,9.4 0 1,0 18.8,0a9.4,9.4 0 1,0 -18.8,0zM177.3,362.0a9.4,9.4 0 1,0 18.8,0a9.4,9.4 0 1,0 -18.8,0zM177.3,358.9a9.4,9.4 0 1,0 18.8,0a9.4,9.4 0 1,0 -18.8,0zM177.3,355.9a9.4,9.4 0 1,0 18.8,0a9.4,9.4 0 1,0 -18.8,0zM177.3,352.8a9.4,9.4 0 1,0 18.8,0a9.4,9.4 0 1,0 -18.8,0zM177.3,349.7a9.4,9.4 0 1,0 18.8,0a9.4,9.4 0 1,0 -18.8,0zM177.3,346.6a9.4,9.4 0 1,0 18.8,0a9.4,9.4 0 1,0 -18.8,0zM177.3,343.5a9.4,9.4 0 1,0 18.8,0a9.4,9.4 0 1,0 -18.8,0zM177.3,340.4a9.4,9.4 0 1,0 18.8,0a9.4,9.4 0 1,0 -18.8,0zM177.3,337.3a9.4,9.4 0 1,0 18.8,0a9.4,9.4 0 1,0 -18.8,0zM177.3,334.2a9.4,9.4 0 1,0 18.8,0a9.4,9.4 0 1,0 -18.8,0zM177.3,331.1a9.4,9.4 0 1,0 18.8,0a9.4,9.4 0 1,0 -18.8,0zM177.3,328.0a9.4,9.4 0 1,0 18.8,0a9.4,9.4 0 1,0 -18.8,0zM177.3,324.9a9.4,9.4 0 1,0 18.8,0a9.4,9.4 0 1,0 -18.8,0zM177.3,321.9a9.4,9.4 0 1,0 18.8,0a9.4,9.4 0 1,0 -18.8,0zM177.3,318.8a9.4,9.4 0 1,0 18.8,0a9.4,9.4 0 1,0 -18.8,0zM177.3,315.7a9.4,9.4 0 1,0 18.8,0a9.4,9.4 0 1,0 -18.8,0zM177.3,312.6a9.4,9.4 0 1,0 18.8,0a9.4,9.4 0 1,0 -18.8,0zM177.3,309.5a9.4,9.4 0 1,0 18.8,0a9.4,9.4 0 1,0 -18.8,0zM177.3,306.4a9.4,9.4 0 1,0 18.8,0a9.4,9.4 0 1,0 -18.8,0zM177.3,303.3a9.4,9.4 0 1,0 18.8,0a9.4,9.4 0 1,0 -18.8,0zM177.3,300.2a9.4,9.4 0 1,0 18.8,0a9.4,9.4 0 1,0 -18.8,0zM177.3,297.1a9.4,9.4 0 1,0 18.8,0a9.4,9.4 0 1,0 -18.8,0zM177.3,294.0a9.4,9.4 0 1,0 18.8,0a9.4,9.4 0 1,0 -18.8,0zM177.3,274.0a9.4,9.4 0 1,0 18.8,0a9.4,9.4 0 1,0 -18.8,0zM177.3,244.0a9.4,9.4 0 1,0 18.8,0a9.4,9.4 0 1,0 -18.8,0zM186.3,367.7a9.4,9.4 0 1,0 18.8,0a9.4,9.4 0 1,0 -18.8,0zM186.3,364.6a9.4,9.4 0 1,0 18.8,0a9.4,9.4 0 1,0 -18.8,0zM186.3,361.5a9.4,9.4 0 1,0 18.8,0a9.4,9.4 0 1,0 -18.8,0zM186.3,358.4a9.4,9.4 0 1,0 18.8,0a9.4,9.4 0 1,0 -18.8,0zM186.3,355.3a9.4,9.4 0 1,0 18.8,0a9.4,9.4 0 1,0 -18.8,0zM186.3,352.2a9.4,9.4 0 1,0 18.8,0a9.4,9.4 0 1,0 -18.8,0zM186.3,349.1a9.4,9.4 0 1,0 18.8,0a9.4,9.4 0 1,0 -18.8,0zM186.3,346.0a9.4,9.4 0 1,0 18.8,0a9.4,9.4 0 1,0 -18.8,0zM186.3,342.9a9.4,9.4 0 1,0 18.8,0a9.4,9.4 0 1,0 -18.8,0zM186.3,339.8a9.4,9.4 0 1,0 18.8,0a9.4,9.4 0 1,0 -18.8,0zM186.3,336.6a9.4,9.4 0 1,0 18.8,0a9.4,9.4 0 1,0 -18.8,0zM186.3,333.5a9.4,9.4 0 1,0 18.8,0a9.4,9.4 0 1,0 -18.8,0zM186.3,330.4a9.4,9.4 0 1,0 18.8,0a9.4,9.4 0 1,0 -18.8,0zM186.3,327.3a9.4,9.4 0 1,0 18.8,0a9.4,9.4 0 1,0 -18.8,0zM186.3,324.2a9.4,9.4 0 1,0 18.8,0a9.4,9.4 0 1,0 -18.8,0zM186.3,321.1a9.4,9.4 0 1,0 18.8,0a9.4,9.4 0 1,0 -18.8,0zM186.3,318.0a9.4,9.4 0 1,0 18.8,0a9.4,9.4 0 1,0 -18.8,0zM186.3,314.9a9.4,9.4 0 1,0 18.8,0a9.4,9.4 0 1,0 -18.8,0zM186.3,311.8a9.4,9.4 0 1,0 18.8,0a9.4,9.4 0 1,0 -18.8,0zM186.3,308.7a9.4,9.4 0 1,0 18.8,0a9.4,9.4 0 1,0 -18.8,0zM186.3,305.6a9.4,9.4 0 1,0 18.8,0a9.4,9.4 0 1,0 -18.8,0zM186.3,302.5a9.4,9.4 0 1,0 18.8,0a9.4,9.4 0 1,0 -18.8,0zM186.3,299.4a9.4,9.4 0 1,0 18.8,0a9.4,9.4 0 1,0 -18.8,0zM186.3,296.2a9.4,9.4 0 1,0 18.8,0a9.4,9.4 0 1,0 -18.8,0zM186.3,293.1a9.4,9.4 0 1,0 18.8,0a9.4,9.4 0 1,0 -18.8,0zM186.3,290.0a9.4,9.4 0 1,0 18.8,0a9.4,9.4 0 1,0 -18.8,0zM186.3,270.2a9.4,9.4 0 1,0 18.8,0a9.4,9.4 0 1,0 -18.8,0zM186.3,240.5a9.4,9.4 0 1,0 18.8,0a9.4,9.4 0 1,0 -18.8,0zM197.9,363.2a9.4,9.4 0 1,0 18.8,0a9.4,9.4 0 1,0 -18.8,0zM197.9,360.2a9.4,9.4 0 1,0 18.8,0a9.4,9.4 0 1,0 -18.8,0zM197.9,357.1a9.4,9.4 0 1,0 18.8,0a9.4,9.4 0 1,0 -18.8,0zM197.9,354.1a9.4,9.4 0 1,0 18.8,0a9.4,9.4 0 1,0 -18.8,0zM197.9,351.1a9.4,9.4 0 1,0 18.8,0a9.4,9.4 0 1,0 -18.8,0zM197.9,348.1a9.4,9.4 0 1,0 18.8,0a9.4,9.4 0 1,0 -18.8,0zM197.9,345.1a9.4,9.4 0 1,0 18.8,0a9.4,9.4 0 1,0 -18.8,0zM197.9,342.1a9.4,9.4 0 1,0 18.8,0a9.4,9.4 0 1,0 -18.8,0zM197.9,339.1a9.4,9.4 0 1,0 18.8,0a9.4,9.4 0 1,0 -18.8,0zM197.9,336.1a9.4,9.4 0 1,0 18.8,0a9.4,9.4 0 1,0 -18.8,0zM197.9,333.1a9.4,9.4 0 1,0 18.8,0a9.4,9.4 0 1,0 -18.8,0zM197.9,330.1a9.4,9.4 0 1,0 18.8,0a9.4,9.4 0 1,0 -18.8,0zM197.9,327.0a9.4,9.4 0 1,0 18.8,0a9.4,9.4 0 1,0 -18.8,0zM197.9,324.0a9.4,9.4 0 1,0 18.8,0a9.4,9.4 0 1,0 -18.8,0zM197.9,321.0a9.4,9.4 0 1,0 18.8,0a9.4,9.4 0 1,0 -18.8,0zM197.9,318.0a9.4,9.4 0 1,0 18.8,0a9.4,9.4 0 1,0 -18.8,0zM197.9,315.0a9.4,9.4 0 1,0 18.8,0a9.4,9.4 0 1,0 -18.8,0zM197.9,312.0a9.4,9.4 0 1,0 18.8,0a9.4,9.4 0 1,0 -18.8,0zM197.9,309.0a9.4,9.4 0 1,0 18.8,0a9.4,9.4 0 1,0 -18.8,0zM197.9,306.0a9.4,9.4 0 1,0 18.8,0a9.4,9.4 0 1,0 -18.8,0zM197.9,303.0a9.4,9.4 0 1,0 18.8,0a9.4,9.4 0 1,0 -18.8,0zM197.9,300.0a9.4,9.4 0 1,0 18.8,0a9.4,9.4 0 1,0 -18.8,0zM197.9,296.9a9.4,9.4 0 1,0 18.8,0a9.4,9.4 0 1,0 -18.8,0zM197.9,293.9a9.4,9.4 0 1,0 18.8,0a9.4,9.4 0 1,0 -18.8,0zM197.9,290.9a9.4,9.4 0 1,0 18.8,0a9.4,9.4 0 1,0 -18.8,0zM197.9,287.9a9.4,9.4 0 1,0 18.8,0a9.4,9.4 0 1,0 -18.8,0zM197.9,284.9a9.4,9.4 0 1,0 18.8,0a9.4,9.4 0 1,0 -18.8,0zM197.9,265.4a9.4,9.4 0 1,0 18.8,0a9.4,9.4 0 1,0 -18.8,0zM197.9,236.0a9.4,9.4 0 1,0 18.8,0a9.4,9.4 0 1,0 -18.8,0zM212.6,357.4a9.4,9.4 0 1,0 18.8,0a9.4,9.4 0 1,0 -18.8,0zM212.6,354.3a9.4,9.4 0 1,0 18.8,0a9.4,9.4 0 1,0 -18.8,0zM212.6,351.3a9.4,9.4 0 1,0 18.8,0a9.4,9.4 0 1,0 -18.8,0zM212.6,348.2a9.4,9.4 0 1,0 18.8,0a9.4,9.4 0 1,0 -18.8,0zM212.6,345.2a9.4,9.4 0 1,0 18.8,0a9.4,9.4 0 1,0 -18.8,0zM212.6,342.2a9.4,9.4 0 1,0 18.8,0a9.4,9.4 0 1,0 -18.8,0zM212.6,339.1a9.4,9.4 0 1,0 18.8,0a9.4,9.4 0 1,0 -18.8,0zM212.6,336.1a9.4,9.4 0 1,0 18.8,0a9.4,9.4 0 1,0 -18.8,0zM212.6,333.1a9.4,9.4 0 1,0 18.8,0a9.4,9.4 0 1,0 -18.8,0zM212.6,330.0a9.4,9.4 0 1,0 18.8,0a9.4,9.4 0 1,0 -18.8,0zM212.6,327.0a9.4,9.4 0 1,0 18.8,0a9.4,9.4 0 1,0 -18.8,0zM212.6,323.9a9.4,9.4 0 1,0 18.8,0a9.4,9.4 0 1,0 -18.8,0zM212.6,320.9a9.4,9.4 0 1,0 18.8,0a9.4,9.4 0 1,0 -18.8,0zM212.6,317.9a9.4,9.4 0 1,0 18.8,0a9.4,9.4 0 1,0 -18.8,0zM212.6,314.8a9.4,9.4 0 1,0 18.8,0a9.4,9.4 0 1,0 -18.8,0zM212.6,311.8a9.4,9.4 0 1,0 18.8,0a9.4,9.4 0 1,0 -18.8,0zM212.6,308.8a9.4,9.4 0 1,0 18.8,0a9.4,9.4 0 1,0 -18.8,0zM212.6,305.7a9.4,9.4 0 1,0 18.8,0a9.4,9.4 0 1,0 -18.8,0zM212.6,302.7a9.4,9.4 0 1,0 18.8,0a9.4,9.4 0 1,0 -18.8,0zM212.6,299.6a9.4,9.4 0 1,0 18.8,0a9.4,9.4 0 1,0 -18.8,0zM212.6,296.6a9.4,9.4 0 1,0 18.8,0a9.4,9.4 0 1,0 -18.8,0zM212.6,293.6a9.4,9.4 0 1,0 18.8,0a9.4,9.4 0 1,0 -18.8,0zM212.6,290.5a9.4,9.4 0 1,0 18.8,0a9.4,9.4 0 1,0 -18.8,0zM212.6,287.5a9.4,9.4 0 1,0 18.8,0a9.4,9.4 0 1,0 -18.8,0zM212.6,284.5a9.4,9.4 0 1,0 18.8,0a9.4,9.4 0 1,0 -18.8,0zM212.6,281.4a9.4,9.4 0 1,0 18.8,0a9.4,9.4 0 1,0 -18.8,0zM212.6,278.4a9.4,9.4 0 1,0 18.8,0a9.4,9.4 0 1,0 -18.8,0zM212.6,259.2a9.4,9.4 0 1,0 18.8,0a9.4,9.4 0 1,0 -18.8,0zM212.6,230.3a9.4,9.4 0 1,0 18.8,0a9.4,9.4 0 1,0 -18.8,0zM231.3,350.0a9.4,9.4 0 1,0 18.8,0a9.4,9.4 0 1,0 -18.8,0zM231.3,346.9a9.4,9.4 0 1,0 18.8,0a9.4,9.4 0 1,0 -18.8,0zM231.3,343.8a9.4,9.4 0 1,0 18.8,0a9.4,9.4 0 1,0 -18.8,0zM231.3,340.7a9.4,9.4 0 1,0 18.8,0a9.4,9.4 0 1,0 -18.8,0zM231.3,337.7a9.4,9.4 0 1,0 18.8,0a9.4,9.4 0 1,0 -18.8,0zM231.3,334.6a9.4,9.4 0 1,0 18.8,0a9.4,9.4 0 1,0 -18.8,0zM231.3,331.5a9.4,9.4 0 1,0 18.8,0a9.4,9.4 0 1,0 -18.8,0zM231.3,328.4a9.4,9.4 0 1,0 18.8,0a9.4,9.4 0 1,0 -18.8,0zM231.3,325.4a9.4,9.4 0 1,0 18.8,0a9.4,9.4 0 1,0 -18.8,0zM231.3,322.3a9.4,9.4 0 1,0 18.8,0a9.4,9.4 0 1,0 -18.8,0zM231.3,319.2a9.4,9.4 0 1,0 18.8,0a9.4,9.4 0 1,0 -18.8,0zM231.3,316.2a9.4,9.4 0 1,0 18.8,0a9.4,9.4 0 1,0 -18.8,0zM231.3,313.1a9.4,9.4 0 1,0 18.8,0a9.4,9.4 0 1,0 -18.8,0zM231.3,310.0a9.4,9.4 0 1,0 18.8,0a9.4,9.4 0 1,0 -18.8,0zM231.3,306.9a9.4,9.4 0 1,0 18.8,0a9.4,9.4 0 1,0 -18.8,0zM231.3,303.9a9.4,9.4 0 1,0 18.8,0a9.4,9.4 0 1,0 -18.8,0zM231.3,300.8a9.4,9.4 0 1,0 18.8,0a9.4,9.4 0 1,0 -18.8,0zM231.3,297.7a9.4,9.4 0 1,0 18.8,0a9.4,9.4 0 1,0 -18.8,0zM231.3,294.7a9.4,9.4 0 1,0 18.8,0a9.4,9.4 0 1,0 -18.8,0zM231.3,291.6a9.4,9.4 0 1,0 18.8,0a9.4,9.4 0 1,0 -18.8,0zM231.3,288.5a9.4,9.4 0 1,0 18.8,0a9.4,9.4 0 1,0 -18.8,0zM231.3,285.4a9.4,9.4 0 1,0 18.8,0a9.4,9.4 0 1,0 -18.8,0zM231.3,282.4a9.4,9.4 0 1,0 18.8,0a9.4,9.4 0 1,0 -18.8,0zM231.3,279.3a9.4,9.4 0 1,0 18.8,0a9.4,9.4 0 1,0 -18.8,0zM231.3,276.2a9.4,9.4 0 1,0 18.8,0a9.4,9.4 0 1,0 -18.8,0zM231.3,273.1a9.4,9.4 0 1,0 18.8,0a9.4,9.4 0 1,0 -18.8,0zM231.3,270.1a9.4,9.4 0 1,0 18.8,0a9.4,9.4 0 1,0 -18.8,0zM231.3,251.3a9.4,9.4 0 1,0 18.8,0a9.4,9.4 0 1,0 -18.8,0zM231.3,223.1a9.4,9.4 0 1,0 18.8,0a9.4,9.4 0 1,0 -18.8,0zM255.2,340.5a9.4,9.4 0 1,0 18.8,0a9.4,9.4 0 1,0 -18.8,0zM255.2,337.5a9.4,9.4 0 1,0 18.8,0a9.4,9.4 0 1,0 -18.8,0zM255.2,334.5a9.4,9.4 0 1,0 18.8,0a9.4,9.4 0 1,0 -18.8,0zM255.2,331.5a9.4,9.4 0 1,0 18.8,0a9.4,9.4 0 1,0 -18.8,0zM255.2,328.5a9.4,9.4 0 1,0 18.8,0a9.4,9.4 0 1,0 -18.8,0zM255.2,325.5a9.4,9.4 0 1,0 18.8,0a9.4,9.4 0 1,0 -18.8,0zM255.2,322.5a9.4,9.4 0 1,0 18.8,0a9.4,9.4 0 1,0 -18.8,0zM255.2,319.5a9.4,9.4 0 1,0 18.8,0a9.4,9.4 0 1,0 -18.8,0zM255.2,316.5a9.4,9.4 0 1,0 18.8,0a9.4,9.4 0 1,0 -18.8,0zM255.2,313.5a9.4,9.4 0 1,0 18.8,0a9.4,9.4 0 1,0 -18.8,0zM255.2,310.5a9.4,9.4 0 1,0 18.8,0a9.4,9.4 0 1,0 -18.8,0zM255.2,307.5a9.4,9.4 0 1,0 18.8,0a9.4,9.4 0 1,0 -18.8,0zM255.2,304.5a9.4,9.4 0 1,0 18.8,0a9.4,9.4 0 1,0 -18.8,0zM255.2,301.5a9.4,9.4 0 1,0 18.8,0a9.4,9.4 0 1,0 -18.8,0zM255.2,298.5a9.4,9.4 0 1,0 18.8,0a9.4,9.4 0 1,0 -18.8,0zM255.2,295.5a9.4,9.4 0 1,0 18.8,0a9.4,9.4 0 1,0 -18.8,0zM255.2,292.5a9.4,9.4 0 1,0 18.8,0a9.4,9.4 0 1,0 -18.8,0zM255.2,289.5a9.4,9.4 0 1,0 18.8,0a9.4,9.4 0 1,0 -18.8,0zM255.2,286.5a9.4,9.4 0 1,0 18.8,0a9.4,9.4 0 1,0 -18.8,0zM255.2,283.5a9.4,9.4 0 1,0 18.8,0a9.4,9.4 0 1,0 -18.8,0zM255.2,280.5a9.4,9.4 0 1,0 18.8,0a9.4,9.4 0 1,0 -18.8,0zM255.2,277.5a9.4,9.4 0 1,0 18.8,0a9.4,9.4 0 1,0 -18.8,0zM255.2,274.5a9.4,9.4 0 1,0 18.8,0a9.4,9.4 0 1,0 -18.8,0zM255.2,271.5a9.4,9.4 0 1,0 18.8,0a9.4,9.4 0 1,0 -18.8,0zM255.2,268.5a9.4,9.4 0 1,0 18.8,0a9.4,9.4 0 1,0 -18.8,0zM255.2,265.5a9.4,9.4 0 1,0 18.8,0a9.4,9.4 0 1,0 -18.8,0zM255.2,262.5a9.4,9.4 0 1,0 18.8,0a9.4,9.4 0 1,0 -18.8,0zM255.2,259.5a9.4,9.4 0 1,0 18.8,0a9.4,9.4 0 1,0 -18.8,0zM255.2,241.3a9.4,9.4 0 1,0 18.8,0a9.4,9.4 0 1,0 -18.8,0zM255.2,213.9a9.4,9.4 0 1,0 18.8,0a9.4,9.4 0 1,0 -18.8,0zM285.7,328.5a9.4,9.4 0 1,0 18.8,0a9.4,9.4 0 1,0 -18.8,0zM285.7,325.4a9.4,9.4 0 1,0 18.8,0a9.4,9.4 0 1,0 -18.8,0zM285.7,322.4a9.4,9.4 0 1,0 18.8,0a9.4,9.4 0 1,0 -18.8,0zM285.7,319.3a9.4,9.4 0 1,0 18.8,0a9.4,9.4 0 1,0 -18.8,0zM285.7,316.3a9.4,9.4 0 1,0 18.8,0a9.4,9.4 0 1,0 -18.8,0zM285.7,313.2a9.4,9.4 0 1,0 18.8,0a9.4,9.4 0 1,0 -18.8,0zM285.7,310.2a9.4,9.4 0 1,0 18.8,0a9.4,9.4 0 1,0 -18.8,0zM285.7,307.1a9.4,9.4 0 1,0 18.8,0a9.4,9.4 0 1,0 -18.8,0zM285.7,304.1a9.4,9.4 0 1,0 18.8,0a9.4,9.4 0 1,0 -18.8,0zM285.7,301.0a9.4,9.4 0 1,0 18.8,0a9.4,9.4 0 1,0 -18.8,0zM285.7,297.9a9.4,9.4 0 1,0 18.8,0a9.4,9.4 0 1,0 -18.8,0zM285.7,294.9a9.4,9.4 0 1,0 18.8,0a9.4,9.4 0 1,0 -18.8,0zM285.7,291.8a9.4,9.4 0 1,0 18.8,0a9.4,9.4 0 1,0 -18.8,0zM285.7,288.8a9.4,9.4 0 1,0 18.8,0a9.4,9.4 0 1,0 -18.8,0zM285.7,285.7a9.4,9.4 0 1,0 18.8,0a9.4,9.4 0 1,0 -18.8,0zM285.7,282.7a9.4,9.4 0 1,0 18.8,0a9.4,9.4 0 1,0 -18.8,0zM285.7,279.6a9.4,9.4 0 1,0 18.8,0a9.4,9.4 0 1,0 -18.8,0zM285.7,276.5a9.4,9.4 0 1,0 18.8,0a9.4,9.4 0 1,0 -18.8,0zM285.7,273.5a9.4,9.4 0 1,0 18.8,0a9.4,9.4 0 1,0 -18.8,0zM285.7,270.4a9.4,9.4 0 1,0 18.8,0a9.4,9.4 0 1,0 -18.8,0zM285.7,267.4a9.4,9.4 0 1,0 18.8,0a9.4,9.4 0 1,0 -18.8,0zM285.7,264.3a9.4,9.4 0 1,0 18.8,0a9.4,9.4 0 1,0 -18.8,0zM285.7,261.3a9.4,9.4 0 1,0 18.8,0a9.4,9.4 0 1,0 -18.8,0zM285.7,258.2a9.4,9.4 0 1,0 18.8,0a9.4,9.4 0 1,0 -18.8,0zM285.7,255.2a9.4,9.4 0 1,0 18.8,0a9.4,9.4 0 1,0 -18.8,0zM285.7,252.1a9.4,9.4 0 1,0 18.8,0a9.4,9.4 0 1,0 -18.8,0zM285.7,249.0a9.4,9.4 0 1,0 18.8,0a9.4,9.4 0 1,0 -18.8,0zM285.7,246.0a9.4,9.4 0 1,0 18.8,0a9.4,9.4 0 1,0 -18.8,0zM285.7,228.6a9.4,9.4 0 1,0 18.8,0a9.4,9.4 0 1,0 -18.8,0zM285.7,202.1a9.4,9.4 0 1,0 18.8,0a9.4,9.4 0 1,0 -18.8,0zM324.5,313.2a9.4,9.4 0 1,0 18.8,0a9.4,9.4 0 1,0 -18.8,0zM324.5,310.2a9.4,9.4 0 1,0 18.8,0a9.4,9.4 0 1,0 -18.8,0zM324.5,307.2a9.4,9.4 0 1,0 18.8,0a9.4,9.4 0 1,0 -18.8,0zM324.5,304.1a9.4,9.4 0 1,0 18.8,0a9.4,9.4 0 1,0 -18.8,0zM324.5,301.1a9.4,9.4 0 1,0 18.8,0a9.4,9.4 0 1,0 -18.8,0zM324.5,298.1a9.4,9.4 0 1,0 18.8,0a9.4,9.4 0 1,0 -18.8,0zM324.5,295.1a9.4,9.4 0 1,0 18.8,0a9.4,9.4 0 1,0 -18.8,0zM324.5,292.1a9.4,9.4 0 1,0 18.8,0a9.4,9.4 0 1,0 -18.8,0zM324.5,289.1a9.4,9.4 0 1,0 18.8,0a9.4,9.4 0 1,0 -18.8,0zM324.5,286.1a9.4,9.4 0 1,0 18.8,0a9.4,9.4 0 1,0 -18.8,0zM324.5,283.0a9.4,9.4 0 1,0 18.8,0a9.4,9.4 0 1,0 -18.8,0zM324.5,280.0a9.4,9.4 0 1,0 18.8,0a9.4,9.4 0 1,0 -18.8,0zM324.5,277.0a9.4,9.4 0 1,0 18.8,0a9.4,9.4 0 1,0 -18.8,0zM324.5,274.0a9.4,9.4 0 1,0 18.8,0a9.4,9.4 0 1,0 -18.8,0zM324.5,271.0a9.4,9.4 0 1,0 18.8,0a9.4,9.4 0 1,0 -18.8,0zM324.5,268.0a9.4,9.4 0 1,0 18.8,0a9.4,9.4 0 1,0 -18.8,0zM324.5,265.0a9.4,9.4 0 1,0 18.8,0a9.4,9.4 0 1,0 -18.8,0zM324.5,261.9a9.4,9.4 0 1,0 18.8,0a9.4,9.4 0 1,0 -18.8,0zM324.5,258.9a9.4,9.4 0 1,0 18.8,0a9.4,9.4 0 1,0 -18.8,0zM324.5,255.9a9.4,9.4 0 1,0 18.8,0a9.4,9.4 0 1,0 -18.8,0zM324.5,252.9a9.4,9.4 0 1,0 18.8,0a9.4,9.4 0 1,0 -18.8,0zM324.5,249.9a9.4,9.4 0 1,0 18.8,0a9.4,9.4 0 1,0 -18.8,0zM324.5,246.9a9.4,9.4 0 1,0 18.8,0a9.4,9.4 0 1,0 -18.8,0zM324.5,243.9a9.4,9.4 0 1,0 18.8,0a9.4,9.4 0 1,0 -18.8,0zM324.5,240.8a9.4,9.4 0 1,0 18.8,0a9.4,9.4 0 1,0 -18.8,0zM324.5,237.8a9.4,9.4 0 1,0 18.8,0a9.4,9.4 0 1,0 -18.8,0zM324.5,234.8a9.4,9.4 0 1,0 18.8,0a9.4,9.4 0 1,0 -18.8,0zM324.5,231.8a9.4,9.4 0 1,0 18.8,0a9.4,9.4 0 1,0 -18.8,0zM324.5,228.8a9.4,9.4 0 1,0 18.8,0a9.4,9.4 0 1,0 -18.8,0zM324.5,212.3a9.4,9.4 0 1,0 18.8,0a9.4,9.4 0 1,0 -18.8,0zM324.5,187.1a9.4,9.4 0 1,0 18.8,0a9.4,9.4 0 1,0 -18.8,0zM374.0,293.7a9.4,9.4 0 1,0 18.8,0a9.4,9.4 0 1,0 -18.8,0zM374.0,290.6a9.4,9.4 0 1,0 18.8,0a9.4,9.4 0 1,0 -18.8,0zM374.0,287.5a9.4,9.4 0 1,0 18.8,0a9.4,9.4 0 1,0 -18.8,0zM374.0,284.4a9.4,9.4 0 1,0 18.8,0a9.4,9.4 0 1,0 -18.8,0zM374.0,281.3a9.4,9.4 0 1,0 18.8,0a9.4,9.4 0 1,0 -18.8,0zM374.0,278.2a9.4,9.4 0 1,0 18.8,0a9.4,9.4 0 1,0 -18.8,0zM374.0,275.1a9.4,9.4 0 1,0 18.8,0a9.4,9.4 0 1,0 -18.8,0zM374.0,272.0a9.4,9.4 0 1,0 18.8,0a9.4,9.4 0 1,0 -18.8,0zM374.0,268.9a9.4,9.4 0 1,0 18.8,0a9.4,9.4 0 1,0 -18.8,0zM374.0,265.8a9.4,9.4 0 1,0 18.8,0a9.4,9.4 0 1,0 -18.8,0zM374.0,262.7a9.4,9.4 0 1,0 18.8,0a9.4,9.4 0 1,0 -18.8,0zM374.0,259.6a9.4,9.4 0 1,0 18.8,0a9.4,9.4 0 1,0 -18.8,0zM374.0,256.5a9.4,9.4 0 1,0 18.8,0a9.4,9.4 0 1,0 -18.8,0zM374.0,253.4a9.4,9.4 0 1,0 18.8,0a9.4,9.4 0 1,0 -18.8,0zM374.0,250.3a9.4,9.4 0 1,0 18.8,0a9.4,9.4 0 1,0 -18.8,0zM374.0,247.2a9.4,9.4 0 1,0 18.8,0a9.4,9.4 0 1,0 -18.8,0zM374.0,244.1a9.4,9.4 0 1,0 18.8,0a9.4,9.4 0 1,0 -18.8,0zM374.0,241.0a9.4,9.4 0 1,0 18.8,0a9.4,9.4 0 1,0 -18.8,0zM374.0,237.9a9.4,9.4 0 1,0 18.8,0a9.4,9.4 0 1,0 -18.8,0zM374.0,234.8a9.4,9.4 0 1,0 18.8,0a9.4,9.4 0 1,0 -18.8,0zM374.0,231.7a9.4,9.4 0 1,0 18.8,0a9.4,9.4 0 1,0 -18.8,0zM374.0,228.6a9.4,9.4 0 1,0 18.8,0a9.4,9.4 0 1,0 -18.8,0zM374.0,225.5a9.4,9.4 0 1,0 18.8,0a9.4,9.4 0 1,0 -18.8,0zM374.0,222.4a9.4,9.4 0 1,0 18.8,0a9.4,9.4 0 1,0 -18.8,0zM374.0,219.3a9.4,9.4 0 1,0 18.8,0a9.4,9.4 0 1,0 -18.8,0zM374.0,216.2a9.4,9.4 0 1,0 18.8,0a9.4,9.4 0 1,0 -18.8,0zM374.0,213.1a9.4,9.4 0 1,0 18.8,0a9.4,9.4 0 1,0 -18.8,0zM374.0,210.0a9.4,9.4 0 1,0 18.8,0a9.4,9.4 0 1,0 -18.8,0zM374.0,206.9a9.4,9.4 0 1,0 18.8,0a9.4,9.4 0 1,0 -18.8,0zM374.0,191.6a9.4,9.4 0 1,0 18.8,0a9.4,9.4 0 1,0 -18.8,0zM374.0,168.0a9.4,9.4 0 1,0 18.8,0a9.4,9.4 0 1,0 -18.8,0zM437.0,268.8a9.4,9.4 0 1,0 18.8,0a9.4,9.4 0 1,0 -18.8,0zM437.0,265.7a9.4,9.4 0 1,0 18.8,0a9.4,9.4 0 1,0 -18.8,0zM437.0,262.6a9.4,9.4 0 1,0 18.8,0a9.4,9.4 0 1,0 -18.8,0zM437.0,259.5a9.4,9.4 0 1,0 18.8,0a9.4,9.4 0 1,0 -18.8,0zM437.0,256.4a9.4,9.4 0 1,0 18.8,0a9.4,9.4 0 1,0 -18.8,0zM437.0,253.3a9.4,9.4 0 1,0 18.8,0a9.4,9.4 0 1,0 -18.8,0zM437.0,250.2a9.4,9.4 0 1,0 18.8,0a9.4,9.4 0 1,0 -18.8,0zM437.0,247.1a9.4,9.4 0 1,0 18.8,0a9.4,9.4 0 1,0 -18.8,0zM437.0,244.0a9.4,9.4 0 1,0 18.8,0a9.4,9.4 0 1,0 -18.8,0zM437.0,240.9a9.4,9.4 0 1,0 18.8,0a9.4,9.4 0 1,0 -18.8,0zM437.0,237.8a9.4,9.4 0 1,0 18.8,0a9.4,9.4 0 1,0 -18.8,0zM437.0,234.7a9.4,9.4 0 1,0 18.8,0a9.4,9.4 0 1,0 -18.8,0zM437.0,231.6a9.4,9.4 0 1,0 18.8,0a9.4,9.4 0 1,0 -18.8,0zM437.0,228.5a9.4,9.4 0 1,0 18.8,0a9.4,9.4 0 1,0 -18.8,0zM437.0,225.4a9.4,9.4 0 1,0 18.8,0a9.4,9.4 0 1,0 -18.8,0zM437.0,222.3a9.4,9.4 0 1,0 18.8,0a9.4,9.4 0 1,0 -18.8,0zM437.0,219.2a9.4,9.4 0 1,0 18.8,0a9.4,9.4 0 1,0 -18.8,0zM437.0,216.1a9.4,9.4 0 1,0 18.8,0a9.4,9.4 0 1,0 -18.8,0zM437.0,213.0a9.4,9.4 0 1,0 18.8,0a9.4,9.4 0 1,0 -18.8,0zM437.0,209.9a9.4,9.4 0 1,0 18.8,0a9.4,9.4 0 1,0 -18.8,0zM437.0,206.8a9.4,9.4 0 1,0 18.8,0a9.4,9.4 0 1,0 -18.8,0zM437.0,203.7a9.4,9.4 0 1,0 18.8,0a9.4,9.4 0 1,0 -18.8,0zM437.0,200.6a9.4,9.4 0 1,0 18.8,0a9.4,9.4 0 1,0 -18.8,0zM437.0,197.5a9.4,9.4 0 1,0 18.8,0a9.4,9.4 0 1,0 -18.8,0zM437.0,194.4a9.4,9.4 0 1,0 18.8,0a9.4,9.4 0 1,0 -18.8,0zM437.0,191.3a9.4,9.4 0 1,0 18.8,0a9.4,9.4 0 1,0 -18.8,0zM437.0,188.2a9.4,9.4 0 1,0 18.8,0a9.4,9.4 0 1,0 -18.8,0zM437.0,185.1a9.4,9.4 0 1,0 18.8,0a9.4,9.4 0 1,0 -18.8,0zM437.0,182.0a9.4,9.4 0 1,0 18.8,0a9.4,9.4 0 1,0 -18.8,0zM437.0,178.9a9.4,9.4 0 1,0 18.8,0a9.4,9.4 0 1,0 -18.8,0zM437.0,165.1a9.4,9.4 0 1,0 18.8,0a9.4,9.4 0 1,0 -18.8,0zM437.0,143.7a9.4,9.4 0 1,0 18.8,0a9.4,9.4 0 1,0 -18.8,0z"/>
<line x1="136.03199999999998" y1="450.872" x2="463.96799999999996" y2="421.528" stroke="#000" stroke-width="2.6"/>
</g>
<g clip-path="url(#clip2)">
<path fill="#440154" d="M629.9,437.5a9.4,9.4 0 1,0 18.8,0a9.4,9.4 0 1,0 -18.8,0zM630.7,437.4a9.4,9.4 0 1,0 18.8,0a9.4,9.4 0 1,0 -18.8,0zM631.8,437.3a9.4,9.4 0 1,0 18.8,0a9.4,9.4 0 1,0 -18.8,0zM633.1,437.2a9.4,9.4 0 1,0 18.8,0a9.4,9.4 0 1,0 -18.8,0zM634.7,437.0a9.4,9.4 0 1,0 18.8,0a9.4,9.4 0 1,0 -18.8,0zM636.8,436.8a9.4,9.4 0 1,0 18.8,0a9.4,9.4 0 1,0 -18.8,0zM639.5,436.5a9.4,9.4 0 1,0 18.8,0a9.4,9.4 0 1,0 -18.8,0zM643.0,436.2a9.4,9.4 0 1,0 18.8,0a9.4,9.4 0 1,0 -18.8,0zM647.4,435.7a9.4,9.4 0 1,0 18.8,0a9.4,9.4 0 1,0 -18.8,0zM652.9,435.2a9.4,9.4 0 1,0 18.8,0a9.4,9.4 0 1,0 -18.8,0zM660.1,434.5a9.4,9.4 0 1,0 18.8,0a9.4,9.4 0 1,0 -18.8,0zM669.1,432.2a9.4,9.4 0 1,0 18.8,0a9.4,9.4 0 1,0 -18.8,0zM680.7,429.5a9.4,9.4 0 1,0 18.8,0a9.4,9.4 0 1,0 -18.8,0zM695.4,425.1a9.4,9.4 0 1,0 18.8,0a9.4,9.4 0 1,0 -18.8,0zM714.1,419.7a9.4,9.4 0 1,0 18.8,0a9.4,9.4 0 1,0 -18.8,0zM738.0,412.5a9.4,9.4 0 1,0 18.8,0a9.4,9.4 0 1,0 -18.8,0zM768.5,403.7a9.4,9.4 0 1,0 18.8,0a9.4,9.4 0 1,0 -18.8,0zM768.5,401.5a9.4,9.4 0 1,0 18.8,0a9.4,9.4 0 1,0 -18.8,0zM807.3,396.9a9.4,9.4 0 1,0 18.8,0a9.4,9.4 0 1,0 -18.8,0zM807.3,394.8a9.4,9.4 0 1,0 18.8,0a9.4,9.4 0 1,0 -18.8,0zM807.3,392.8a9.4,9.4 0 1,0 18.8,0a9.4,9.4 0 1,0 -18.8,0zM856.8,381.8a9.4,9.4 0 1,0 18.8,0a9.4,9.4 0 1,0 -18.8,0zM856.8,379.4a9.4,9.4 0 1,0 18.8,0a9.4,9.4 0 1,0 -18.8,0zM856.8,377.1a9.4,9.4 0 1,0 18.8,0a9.4,9.4 0 1,0 -18.8,0zM919.8,363.8a9.4,9.4 0 1,0 18.8,0a9.4,9.4 0 1,0 -18.8,0zM919.8,361.4a9.4,9.4 0 1,0 18.8,0a9.4,9.4 0 1,0 -18.8,0zM919.8,358.9a9.4,9.4 0 1,0 18.8,0a9.4,9.4 0 1,0 -18.8,0z"/>
<path fill="#3b528b" d="M629.9,434.7a9.4,9.4 0 1,0 18.8,0a9.4,9.4 0 1,0 -18.8,0zM630.7,434.6a9.4,9.4 0 1,0 18.8,0a9.4,9.4 0 1,0 -18.8,0zM631.8,434.5a9.4,9.4 0 1,0 18.8,0a9.4,9.4 0 1,0 -18.8,0zM633.1,434.3a9.4,9.4 0 1,0 18.8,0a9.4,9.4 0 1,0 -18.8,0zM634.7,434.1a9.4,9.4 0 1,0 18.8,0a9.4,9.4 0 1,0 -18.8,0zM636.8,433.9a9.4,9.4 0 1,0 18.8,0a9.4,9.4 0 1,0 -18.8,0zM639.5,433.5a9.4,9.4 0 1,0 18.8,0a9.4,9.4 0 1,0 -18.8,0zM643.0,433.1a9.4,9.4 0 1,0 18.8,0a9.4,9.4 0 1,0 -18.8,0zM647.4,432.6a9.4,9.4 0 1,0 18.8,0a9.4,9.4 0 1,0 -18.8,0zM652.9,432.0a9.4,9.4 0 1,0 18.8,0a9.4,9.4 0 1,0 -18.8,0zM660.1,431.1a9.4,9.4 0 1,0 18.8,0a9.4,9.4 0 1,0 -18.8,0zM669.1,429.0a9.4,9.4 0 1,0 18.8,0a9.4,9.4 0 1,0 -18.8,0zM680.7,426.3a9.4,9.4 0 1,0 18.8,0a9.4,9.4 0 1,0 -18.8,0zM695.4,421.8a9.4,9.4 0 1,0 18.8,0a9.4,9.4 0 1,0 -18.8,0zM714.1,416.6a9.4,9.4 0 1,0 18.8,0a9.4,9.4 0 1,0 -18.8,0zM738.0,409.0a9.4,9.4 0 1,0 18.8,0a9.4,9.4 0 1,0 -18.8,0zM768.5,399.2a9.4,9.4 0 1,0 18.8,0a9.4,9.4 0 1,0 -18.8,0zM768.5,397.2a9.4,9.4 0 1,0 18.8,0a9.4,9.4 0 1,0 -18.8,0zM807.3,390.7a9.4,9.4 0 1,0 18.8,0a9.4,9.4 0 1,0 -18.8,0zM807.3,388.0a9.4,9.4 0 1,0 18.8,0a9.4,9.4 0 1,0 -18.8,0zM856.8,374.7a9.4,9.4 0 1,0 18.8,0a9.4,9.4 0 1,0 -18.8,0zM856.8,372.6a9.4,9.4 0 1,0 18.8,0a9.4,9.4 0 1,0 -18.8,0zM856.8,370.5a9.4,9.4 0 1,0 18.8,0a9.4,9.4 0 1,0 -18.8,0zM919.8,356.5a9.4,9.4 0 1,0 18.8,0a9.4,9.4 0 1,0 -18.8,0zM919.8,354.4a9.4,9.4 0 1,0 18.8,0a9.4,9.4 0 1,0 -18.8,0zM919.8,352.2a9.4,9.4 0 1,0 18.8,0a9.4,9.4 0 1,0 -18.8,0z"/>
<path fill="#21918c" d="M629.9,432.2a9.4,9.4 0 1,0 18.8,0a9.4,9.4 0 1,0 -18.8,0zM630.7,432.1a9.4,9.4 0 1,0 18.8,0a9.4,9.4 0 1,0 -18.8,0zM631.8,431.9a9.4,9.4 0 1,0 18.8,0a9.4,9.4 0 1,0 -18.8,0zM633.1,431.8a9.4,9.4 0 1,0 18.8,0a9.4,9.4 0 1,0 -18.8,0zM634.7,431.5a9.4,9.4 0 1,0 18.8,0a9.4,9.4 0 1,0 -18.8,0zM636.8,431.3a9.4,9.4 0 1,0 18.8,0a9.4,9.4 0 1,0 -18.8,0zM639.5,430.9a9.4,9.4 0 1,0 18.8,0a9.4,9.4 0 1,0 -18.8,0zM643.0,430.4a9.4,9.4 0 1,0 18.8,0a9.4,9.4 0 1,0 -18.8,0zM647.4,429.9a9.4,9.4 0 1,0 18.8,0a9.4,9.4 0 1,0 -18.8,0zM652.9,429.1a9.4,9.4 0 1,0 18.8,0a9.4,9.4 0 1,0 -18.8,0zM660.1,428.2a9.4,9.4 0 1,0 18.8,0a9.4,9.4 0 1,0 -18.8,0zM669.1,426.1a9.4,9.4 0 1,0 18.8,0a9.4,9.4 0 1,0 -18.8,0zM680.7,423.5a9.4,9.4 0 1,0 18.8,0a9.4,9.4 0 1,0 -18.8,0zM695.4,418.8a9.4,9.4 0 1,0 18.8,0a9.4,9.4 0 1,0 -18.8,0zM714.1,413.7a9.4,9.4 0 1,0 18.8,0a9.4,9.4 0 1,0 -18.8,0zM738.0,405.9a9.4,9.4 0 1,0 18.8,0a9.4,9.4 0 1,0 -18.8,0zM768.5,395.1a9.4,9.4 0 1,0 18.8,0a9.4,9.4 0 1,0 -18.8,0zM768.5,392.7a9.4,9.4 0 1,0 18.8,0a9.4,9.4 0 1,0 -18.8,0zM807.3,385.2a9.4,9.4 0 1,0 18.8,0a9.4,9.4 0 1,0 -18.8,0zM807.3,383.1a9.4,9.4 0 1,0 18.8,0a9.4,9.4 0 1,0 -18.8,0zM807.3,380.9a9.4,9.4 0 1,0 18.8,0a9.4,9.4 0 1,0 -18.8,0zM856.8,368.4a9.4,9.4 0 1,0 18.8,0a9.4,9.4 0 1,0 -18.8,0zM856.8,365.9a9.4,9.4 0 1,0 18.8,0a9.4,9.4 0 1,0 -18.8,0zM856.8,363.4a9.4,9.4 0 1,0 18.8,0a9.4,9.4 0 1,0 -18.8,0zM919.8,350.0a9.4,9.4 0 1,0 18.8,0a9.4,9.4 0 1,0 -18.8,0zM919.8,347.5a9.4,9.4 0 1,0 18.8,0a9.4,9.4 0 1,0 -18.8,0zM919.8,344.9a9.4,9.4 0 1,0 18.8,0a9.4,9.4 0 1,0 -18.8,0z"/>
<path fill="#5ec962" d="M629.9,429.2a9.4,9.4 0 1,0 18.8,0a9.4,9.4 0 1,0 -18.8,0zM629.9,426.7a9.4,9.4 0 1,0 18.8,0a9.4,9.4 0 1,0 -18.8,0zM629.9,424.3a9.4,9.4 0 1,0 18.8,0a9.4,9.4 0 1,0 -18.8,0zM630.7,429.1a9.4,9.4 0 1,0 18.8,0a9.4,9.4 0 1,0 -18.8,0zM630.7,426.6a9.4,9.4 0 1,0 18.8,0a9.4,9.4 0 1,0 -18.8,0zM630.7,424.2a9.4,9.4 0 1,0 18.8,0a9.4,9.4 0 1,0 -18.8,0zM631.8,428.9a9.4,9.4 0 1,0 18.8,0a9.4,9.4 0 1,0 -18.8,0zM631.8,426.4a9.4,9.4 0 1,0 18.8,0a9.4,9.4 0 1,0 -18.8,0zM631.8,424.0a9.4,9.4 0 1,0 18.8,0a9.4,9.4 0 1,0 -18.8,0zM633.1,428.7a9.4,9.4 0 1,0 18.8,0a9.4,9.4 0 1,0 -18.8,0zM633.1,426.2a9.4,9.4 0 1,0 18.8,0a9.4,9.4 0 1,0 -18.8,0zM633.1,423.7a9.4,9.4 0 1,0 18.8,0a9.4,9.4 0 1,0 -18.8,0zM634.7,428.5a9.4,9.4 0 1,0 18.8,0a9.4,9.4 0 1,0 -18.8,0zM634.7,426.0a9.4,9.4 0 1,0 18.8,0a9.4,9.4 0 1,0 -18.8,0zM634.7,423.4a9.4,9.4 0 1,0 18.8,0a9.4,9.4 0 1,0 -18.8,0zM636.8,428.2a9.4,9.4 0 1,0 18.8,0a9.4,9.4 0 1,0 -18.8,0zM636.8,425.6a9.4,9.4 0 1,0 18.8,0a9.4,9.4 0 1,0 -18.8,0zM636.8,423.1a9.4,9.4 0 1,0 18.8,0a9.4,9.4 0 1,0 -18.8,0zM639.5,427.8a9.4,9.4 0 1,0 18.8,0a9.4,9.4 0 1,0 -18.8,0zM639.5,425.2a9.4,9.4 0 1,0 18.8,0a9.4,9.4 0 1,0 -18.8,0zM639.5,422.6a9.4,9.4 0 1,0 18.8,0a9.4,9.4 0 1,0 -18.8,0zM643.0,427.2a9.4,9.4 0 1,0 18.8,0a9.4,9.4 0 1,0 -18.8,0zM643.0,424.6a9.4,9.4 0 1,0 18.8,0a9.4,9.4 0 1,0 -18.8,0zM643.0,421.9a9.4,9.4 0 1,0 18.8,0a9.4,9.4 0 1,0 -18.8,0zM647.4,426.6a9.4,9.4 0 1,0 18.8,0a9.4,9.4 0 1,0 -18.8,0zM647.4,424.5a9.4,9.4 0 1,0 18.8,0a9.4,9.4 0 1,0 -18.8,0zM647.4,422.5a9.4,9.4 0 1,0 18.8,0a9.4,9.4 0 1,0 -18.8,0zM647.4,420.5a9.4,9.4 0 1,0 18.8,0a9.4,9.4 0 1,0 -18.8,0zM652.9,425.7a9.4,9.4 0 1,0 18.8,0a9.4,9.4 0 1,0 -18.8,0zM652.9,423.6a9.4,9.4 0 1,0 18.8,0a9.4,9.4 0 1,0 -18.8,0zM652.9,421.5a9.4,9.4 0 1,0 18.8,0a9.4,9.4 0 1,0 -18.8,0zM652.9,419.5a9.4,9.4 0 1,0 18.8,0a9.4,9.4 0 1,0 -18.8,0zM660.1,424.7a9.4,9.4 0 1,0 18.8,0a9.4,9.4 0 1,0 -18.8,0zM660.1,422.5a9.4,9.4 0 1,0 18.8,0a9.4,9.4 0 1,0 -18.8,0zM660.1,420.3a9.4,9.4 0 1,0 18.8,0a9.4,9.4 0 1,0 -18.8,0zM660.1,418.1a9.4,9.4 0 1,0 18.8,0a9.4,9.4 0 1,0 -18.8,0zM669.1,422.7a9.4,9.4 0 1,0 18.8,0a9.4,9.4 0 1,0 -18.8,0zM669.1,420.5a9.4,9.4 0 1,0 18.8,0a9.4,9.4 0 1,0 -18.8,0zM669.1,418.4a9.4,9.4 0 1,0 18.8,0a9.4,9.4 0 1,0 -18.8,0zM669.1,416.3a9.4,9.4 0 1,0 18.8,0a9.4,9.4 0 1,0 -18.8,0zM680.7,420.2a9.4,9.4 0 1,0 18.8,0a9.4,9.4 0 1,0 -18.8,0zM680.7,418.1a9.4,9.4 0 1,0 18.8,0a9.4,9.4 0 1,0 -18.8,0zM680.7,416.1a9.4,9.4 0 1,0 18.8,0a9.4,9.4 0 1,0 -18.8,0zM680.7,414.0a9.4,9.4 0 1,0 18.8,0a9.4,9.4 0 1,0 -18.8,0zM695.4,415.3a9.4,9.4 0 1,0 18.8,0a9.4,9.4 0 1,0 -18.8,0zM695.4,413.1a9.4,9.4 0 1,0 18.8,0a9.4,9.4 0 1,0 -18.8,0zM695.4,410.9a9.4,9.4 0 1,0 18.8,0a9.4,9.4 0 1,0 -18.8,0zM695.4,408.7a9.4,9.4 0 1,0 18.8,0a9.4,9.4 0 1,0 -18.8,0zM714.1,410.4a9.4,9.4 0 1,0 18.8,0a9.4,9.4 0 1,0 -18.8,0zM714.1,408.3a9.4,9.4 0 1,0 18.8,0a9.4,9.4 0 1,0 -18.8,0zM714.1,406.3a9.4,9.4 0 1,0 18.8,0a9.4,9.4 0 1,0 -18.8,0zM714.1,404.2a9.4,9.4 0 1,0 18.8,0a9.4,9.4 0 1,0 -18.8,0zM738.0,402.2a9.4,9.4 0 1,0 18.8,0a9.4,9.4 0 1,0 -18.8,0zM738.0,399.9a9.4,9.4 0 1,0 18.8,0a9.4,9.4 0 1,0 -18.8,0zM738.0,397.6a9.4,9.4 0 1,0 18.8,0a9.4,9.4 0 1,0 -18.8,0zM738.0,395.3a9.4,9.4 0 1,0 18.8,0a9.4,9.4 0 1,0 -18.8,0zM768.5,390.3a9.4,9.4 0 1,0 18.8,0a9.4,9.4 0 1,0 -18.8,0zM768.5,387.9a9.4,9.4 0 1,0 18.8,0a9.4,9.4 0 1,0 -18.8,0zM768.5,385.6a9.4,9.4 0 1,0 18.8,0a9.4,9.4 0 1,0 -18.8,0zM768.5,383.2a9.4,9.4 0 1,0 18.8,0a9.4,9.4 0 1,0 -18.8,0zM768.5,380.8a9.4,9.4 0 1,0 18.8,0a9.4,9.4 0 1,0 -18.8,0zM807.3,378.7a9.4,9.4 0 1,0 18.8,0a9.4,9.4 0 1,0 -18.8,0zM807.3,376.7a9.4,9.4 0 1,0 18.8,0a9.4,9.4 0 1,0 -18.8,0zM807.3,374.7a9.4,9.4 0 1,0 18.8,0a9.4,9.4 0 1,0 -18.8,0zM807.3,372.7a9.4,9.4 0 1,0 18.8,0a9.4,9.4 0 1,0 -18.8,0zM807.3,370.7a9.4,9.4 0 1,0 18.8,0a9.4,9.4 0 1,0 -18.8,0zM807.3,368.7a9.4,9.4 0 1,0 18.8,0a9.4,9.4 0 1,0 -18.8,0zM807.3,366.7a9.4,9.4 0 1,0 18.8,0a9.4,9.4 0 1,0 -18.8,0zM807.3,364.7a9.4,9.4 0 1,0 18.8,0a9.4,9.4 0 1,0 -18.8,0zM856.8,360.9a9.4,9.4 0 1,0 18.8,0a9.4,9.4 0 1,0 -18.8,0zM856.8,358.9a9.4,9.4 0 1,0 18.8,0a9.4,9.4 0 1,0 -18.8,0zM856.8,356.8a9.4,9.4 0 1,0 18.8,0a9.4,9.4 0 1,0 -18.8,0zM856.8,354.8a9.4,9.4 0 1,0 18.8,0a9.4,9.4 0 1,0 -18.8,0zM856.8,352.7a9.4,9.4 0 1,0 18.8,0a9.4,9.4 0 1,0 -18.8,0zM856.8,350.7a9.4,9.4 0 1,0 18.8,0a9.4,9.4 0 1,0 -18.8,0zM856.8,348.6a9.4,9.4 0 1,0 18.8,0a9.4,9.4 0 1,0 -18.8,0zM856.8,346.5a9.4,9.4 0 1,0 18.8,0a9.4,9.4 0 1,0 -18.8,0zM856.8,344.5a9.4,9.4 0 1,0 18.8,0a9.4,9.4 0 1,0 -18.8,0zM919.8,342.3a9.4,9.4 0 1,0 18.8,0a9.4,9.4 0 1,0 -18.8,0zM919.8,340.2a9.4,9.4 0 1,0 18.8,0a9.4,9.4 0 1,0 -18.8,0zM919.8,338.1a9.4,9.4 0 1,0 18.8,0a9.4,9.4 0 1,0 -18.8,0zM919.8,336.0a9.4,9.4 0 1,0 18.8,0a9.4,9.4 0 1,0 -18.8,0zM919.8,333.9a9.4,9.4 0 1,0 18.8,0a9.4,9.4 0 1,0 -18.8,0zM919.8,331.8a9.4,9.4 0 1,0 18.8,0a9.4,9.4 0 1,0 -18.8,0zM919.8,329.6a9.4,9.4 0 1,0 18.8,0a9.4,9.4 0 1,0 -18.8,0zM919.8,327.5a9.4,9.4 0 1,0 18.8,0a9.4,9.4 0 1,0 -18.8,0zM919.8,325.4a9.4,9.4 0 1,0 18.8,0a9.4,9.4 0 1,0 -18.8,0z"/>
<path fill="#fde725" d="M629.9,421.9a9.4,9.4 0 1,0 18.8,0a9.4,9.4 0 1,0 -18.8,0zM629.9,418.8a9.4,9.4 0 1,0 18.8,0a9.4,9.4 0 1,0 -18.8,0zM629.9,415.7a9.4,9.4 0 1,0 18.8,0a9.4,9.4 0 1,0 -18.8,0zM629.9,412.6a9.4,9.4 0 1,0 18.8,0a9.4,9.4 0 1,0 -18.8,0zM629.9,409.5a9.4,9.4 0 1,0 18.8,0a9.4,9.4 0 1,0 -18.8,0zM629.9,406.4a9.4,9.4 0 1,0 18.8,0a9.4,9.4 0 1,0 -18.8,0zM629.9,403.3a9.4,9.4 0 1,0 18.8,0a9.4,9.4 0 1,0 -18.8,0zM629.9,400.2a9.4,9.4 0 1,0 18.8,0a9.4,9.4 0 1,0 -18.8,0zM629.9,397.1a9.4,9.4 0 1,0 18.8,0a9.4,9.4 0 1,0 -18.8,0zM629.9,394.0a9.4,9.4 0 1,0 18.8,0a9.4,9.4 0 1,0 -18.8,0zM629.9,390.9a9.4,9.4 0 1,0 18.8,0a9.4,9.4 0 1,0 -18.8,0zM629.9,387.8a9.4,9.4 0 1,0 18.8,0a9.4,9.4 0 1,0 -18.8,0zM629.9,384.7a9.4,9.4 0 1,0 18.8,0a9.4,9.4 0 1,0 -18.8,0zM629.9,382.1a9.4,9.4 0 1,0 18.8,0a9.4,9.4 0 1,0 -18.8,0zM629.9,364.1a9.4,9.4 0 1,0 18.8,0a9.4,9.4 0 1,0 -18.8,0zM629.9,329.7a9.4,9.4 0 1,0 18.8,0a9.4,9.4 0 1,0 -18.8,0zM630.7,421.7a9.4,9.4 0 1,0 18.8,0a9.4,9.4 0 1,0 -18.8,0zM630.7,418.6a9.4,9.4 0 1,0 18.8,0a9.4,9.4 0 1,0 -18.8,0zM630.7,415.5a9.4,9.4 0 1,0 18.8,0a9.4,9.4 0 1,0 -18.8,0zM630.7,412.4a9.4,9.4 0 1,0 18.8,0a9.4,9.4 0 1,0 -18.8,0zM630.7,409.3a9.4,9.4 0 1,0 18.8,0a9.4,9.4 0 1,0 -18.8,0zM630.7,406.1a9.4,9.4 0 1,0 18.8,0a9.4,9.4 0 1,0 -18.8,0zM630.7,403.0a9.4,9.4 0 1,0 18.8,0a9.4,9.4 0 1,0 -18.8,0zM630.7,399.9a9.4,9.4 0 1,0 18.8,0a9.4,9.4 0 1,0 -18.8,0zM630.7,396.8a9.4,9.4 0 1,0 18.8,0a9.4,9.4 0 1,0 -18.8,0zM630.7,393.7a9.4,9.4 0 1,0 18.8,0a9.4,9.4 0 1,0 -18.8,0zM630.7,390.6a9.4,9.4 0 1,0 18.8,0a9.4,9.4 0 1,0 -18.8,0zM630.7,387.5a9.4,9.4 0 1,0 18.8,0a9.4,9.4 0 1,0 -18.8,0zM630.7,384.4a9.4,9.4 0 1,0 18.8,0a9.4,9.4 0 1,0 -18.8,0zM630.7,381.7a9.4,9.4 0 1,0 18.8,0a9.4,9.4 0 1,0 -18.8,0zM630.7,363.7a9.4,9.4 0 1,0 18.8,0a9.4,9.4 0 1,0 -18.8,0zM630.7,329.2a9.4,9.4 0 1,0 18.8,0a9.4,9.4 0 1,0 -18.8,0zM631.8,421.5a9.4,9.4 0 1,0 18.8,0a9.4,9.4 0 1,0 -18.8,0zM631.8,418.4a9.4,9.4 0 1,0 18.8,0a9.4,9.4 0 1,0 -18.8,0zM631.8,415.2a9.4,9.4 0 1,0 18.8,0a9.4,9.4 0 1,0 -18.8,0zM631.8,412.1a9.4,9.4 0 1,0 18.8,0a9.4,9.4 0 1,0 -18.8,0zM631.8,409.0a9.4,9.4 0 1,0 18.8,0a9.4,9.4 0 1,0 -18.8,0zM631.8,405.8a9.4,9.4 0 1,0 18.8,0a9.4,9.4 0 1,0 -18.8,0zM631.8,402.7a9.4,9.4 0 1,0 18.8,0a9.4,9.4 0 1,0 -18.8,0zM631.8,399.6a9.4,9.4 0 1,0 18.8,0a9.4,9.4 0 1,0 -18.8,0zM631.8,396.5a9.4,9.4 0 1,0 18.8,0a9.4,9.4 0 1,0 -18.8,0zM631.8,393.3a9.4,9.4 0 1,0 18.8,0a9.4,9.4 0 1,0 -18.8,0zM631.8,390.2a9.4,9.4 0 1,0 18.8,0a9.4,9.4 0 1,0 -18.8,0zM631.8,387.1a9.4,9.4 0 1,0 18.8,0a9.4,9.4 0 1,0 -18.8,0zM631.8,383.9a9.4,9.4 0 1,0 18.8,0a9.4,9.4 0 1,0 -18.8,0zM631.8,381.1a9.4,9.4 0 1,0 18.8,0a9.4,9.4 0 1,0 -18.8,0zM631.8,363.1a9.4,9.4 0 1,0 18.8,0a9.4,9.4 0 1,0 -18.8,0zM631.8,328.5a9.4,9.4 0 1,0 18.8,0a9.4,9.4 0 1,0 -18.8,0zM633.1,421.2a9.4,9.4 0 1,0 18.8,0a9.4,9.4 0 1,0 -18.8,0zM633.1,418.1a9.4,9.4 0 1,0 18.8,0a9.4,9.4 0 1,0 -18.8,0zM633.1,414.9a9.4,9.4 0 1,0 18.8,0a9.4,9.4 0 1,0 -18.8,0zM633.1,411.8a9.4,9.4 0 1,0 18.8,0a9.4,9.4 0 1,0 -18.8,0zM633.1,408.6a9.4,9.4 0 1,0 18.8,0a9.4,9.4 0 1,0 -18.8,0zM633.1,405.5a9.4,9.4 0 1,0 18.8,0a9.4,9.4 0 1,0 -18.8,0zM633.1,402.3a9.4,9.4 0 1,0 18.8,0a9.4,9.4 0 1,0 -18.8,0zM633.1,399.2a9.4,9.4 0 1,0 18.8,0a9.4,9.4 0 1,0 -18.8,0zM633.1,396.0a9.4,9.4 0 1,0 18.8,0a9.4,9.4 0 1,0 -18.8,0zM633.1,392.8a9.4,9.4 0 1,0 18.8,0a9.4,9.4 0 1,0 -18.8,0zM633.1,389.7a9.4,9.4 0 1,0 18.8,0a9.4,9.4 0 1,0 -18.8,0zM633.1,386.5a9.4,9.4 0 1,0 18.8,0a9.4,9.4 0 1,0 -18.8,0zM633.1,383.4a9.4,9.4 0 1,0 18.8,0a9.4,9.4 0 1,0 -18.8,0zM633.1,380.4a9.4,9.4 0 1,0 18.8,0a9.4,9.4 0 1,0 -18.8,0zM633.1,362.3a9.4,9.4 0 1,0 18.8,0a9.4,9.4 0 1,0 -18.8,0zM633.1,327.6a9.4,9.4 0 1,0 18.8,0a9.4,9.4 0 1,0 -18.8,0zM634.7,420.9a9.4,9.4 0 1,0 18.8,0a9.4,9.4 0 1,0 -18.8,0zM634.7,417.7a9.4,9.4 0 1,0 18.8,0a9.4,9.4 0 1,0 -18.8,0zM634.7,414.5a9.4,9.4 0 1,0 18.8,0a9.4,9.4 0 1,0 -18.8,0zM634.7,411.4a9.4,9.4 0 1,0 18.8,0a9.4,9.4 0 1,0 -18.8,0zM634.7,408.2a9.4,9.4 0 1,0 18.8,0a9.4,9.4 0 1,0 -18.8,0zM634.7,405.0a9.4,9.4 0 1,0 18.8,0a9.4,9.4 0 1,0 -18.8,0zM634.7,401.8a9.4,9.4 0 1,0 18.8,0a9.4,9.4 0 1,0 -18.8,0zM634.7,398.6a9.4,9.4 0 1,0 18.8,0a9.4,9.4 0 1,0 -18.8,0zM634.7,395.4a9.4,9.4 0 1,0 18.8,0a9.4,9.4 0 1,0 -18.8,0zM634.7,392.2a9.4,9.4 0 1,0 18.8,0a9.4,9.4 0 1,0 -18.8,0zM634.7,389.0a9.4,9.4 0 1,0 18.8,0a9.4,9.4 0 1,0 -18.8,0zM634.7,385.9a9.4,9.4 0 1,0 18.8,0a9.4,9.4 0 1,0 -18.8,0zM634.7,382.7a9.4,9.4 0 1,0 18.8,0a9.4,9.4 0 1,0 -18.8,0zM634.7,379.6a9.4,9.4 0 1,0 18.8,0a9.4,9.4 0 1,0 -18.8,0zM634.7,361.3a9.4,9.4 0 1,0 18.8,0a9.4,9.4 0 1,0 -18.8,0zM634.7,326.6a9.4,9.4 0 1,0 18.8,0a9.4,9.4 0 1,0 -18.8,0zM636.8,420.5a9.4,9.4 0 1,0 18.8,0a9.4,9.4 0 1,0 -18.8,0zM636.8,417.3a9.4,9.4 0 1,0 18.8,0a9.4,9.4 0 1,0 -18.8,0zM636.8,414.0a9.4,9.4 0 1,0 18.8,0a9.4,9.4 0 1,0 -18.8,0zM636.8,410.8a9.4,9.4 0 1,0 18.8,0a9.4,9.4 0 1,0 -18.8,0zM636.8,407.6a9.4,9.4 0 1,0 18.8,0a9.4,9.4 0 1,0 -18.8,0zM636.8,404.4a9.4,9.4 0 1,0 18.8,0a9.4,9.4 0 1,0 -18.8,0zM636.8,401.1a9.4,9.4 0 1,0 18.8,0a9.4,9.4 0 1,0 -18.8,0zM636.8,397.9a9.4,9.4 0 1,0 18.8,0a9.4,9.4 0 1,0 -18.8,0zM636.8,394.7a9.4,9.4 0 1,0 18.8,0a9.4,9.4 0 1,0 -18.8,0zM636.8,391.5a9.4,9.4 0 1,0 18.8,0a9.4,9.4 0 1,0 -18.8,0zM636.8,388.2a9.4,9.4 0 1,0 18.8,0a9.4,9.4 0 1,0 -18.8,0zM636.8,385.0a9.4,9.4 0 1,0 18.8,0a9.4,9.4 0 1,0 -18.8,0zM636.8,381.8a9.4,9.4 0 1,0 18.8,0a9.4,9.4 0 1,0 -18.8,0zM636.8,378.4a9.4,9.4 0 1,0 18.8,0a9.4,9.4 0 1,0 -18.8,0zM636.8,360.0a9.4,9.4 0 1,0 18.8,0a9.4,9.4 0 1,0 -18.8,0zM636.8,325.2a9.4,9.4 0 1,0 18.8,0a9.4,9.4 0 1,0 -18.8,0zM639.5,420.0a9.4,9.4 0 1,0 18.8,0a9.4,9.4 0 1,0 -18.8,0zM639.5,416.9a9.4,9.4 0 1,0 18.8,0a9.4,9.4 0 1,0 -18.8,0zM639.5,413.9a9.4,9.4 0 1,0 18.8,0a9.4,9.4 0 1,0 -18.8,0zM639.5,410.9a9.4,9.4 0 1,0 18.8,0a9.4,9.4 0 1,0 -18.8,0zM639.5,407.9a9.4,9.4 0 1,0 18.8,0a9.4,9.4 0 1,0 -18.8,0zM639.5,404.8a9.4,9.4 0 1,0 18.8,0a9.4,9.4 0 1,0 -18.8,0zM639.5,401.8a9.4,9.4 0 1,0 18.8,0a9.4,9.4 0 1,0 -18.8,0zM639.5,398.8a9.4,9.4 0 1,0 18.8,0a9.4,9.4 0 1,0 -18.8,0zM639.5,395.8a9.4,9.4 0 1,0 18.8,0a9.4,9.4 0 1,0 -18.8,0zM639.5,392.7a9.4,9.4 0 1,0 18.8,0a9.4,9.4 0 1,0 -18.8,0zM639.5,389.7a9.4,9.4 0 1,0 18.8,0a9.4,9.4 0 1,0 -18.8,0zM639.5,386.7a9.4,9.4 0 1,0 18.8,0a9.4,9.4 0 1,0 -18.8,0zM639.5,383.7a9.4,9.4 0 1,0 18.8,0a9.4,9.4 0 1,0 -18.8,0zM639.5,380.6a9.4,9.4 0 1,0 18.8,0a9.4,9.4 0 1,0 -18.8,0zM639.5,377.0a9.4,9.4 0 1,0 18.8,0a9.4,9.4 0 1,0 -18.8,0zM639.5,358.4a9.4,9.4 0 1,0 18.8,0a9.4,9.4 0 1,0 -18.8,0zM639.5,323.4a9.4,9.4 0 1,0 18.8,0a9.4,9.4 0 1,0 -18.8,0zM643.0,419.3a9.4,9.4 0 1,0 18.8,0a9.4,9.4 0 1,0 -18.8,0zM643.0,416.2a9.4,9.4 0 1,0 18.8,0a9.4,9.4 0 1,0 -18.8,0zM643.0,413.1a9.4,9.4 0 1,0 18.8,0a9.4,9.4 0 1,0 -18.8,0zM643.0,410.0a9.4,9.4 0 1,0 18.8,0a9.4,9.4 0 1,0 -18.8,0zM643.0,407.0a9.4,9.4 0 1,0 18.8,0a9.4,9.4 0 1,0 -18.8,0zM643.0,403.9a9.4,9.4 0 1,0 18.8,0a9.4,9.4 0 1,0 -18.8,0zM643.0,400.8a9.4,9.4 0 1,0 18.8,0a9.4,9.4 0 1,0 -18.8,0zM643.0,397.7a9.4,9.4 0 1,0 18.8,0a9.4,9.4 0 1,0 -18.8,0zM643.0,394.6a9.4,9.4 0 1,0 18.8,0a9.4,9.4 0 1,0 -18.8,0zM643.0,391.5a9.4,9.4 0 1,0 18.8,0a9.4,9.4 0 1,0 -18.8,0zM643.0,388.4a9.4,9.4 0 1,0 18.8,0a9.4,9.4 0 1,0 -18.8,0zM643.0,385.3a9.4,9.4 0 1,0 18.8,0a9.4,9.4 0 1,0 -18.8,0zM643.0,382.3a9.4,9.4 0 1,0 18.8,0a9.4,9.4 0 1,0 -18.8,0zM643.0,379.2a9.4,9.4 0 1,0 18.8,0a9.4,9.4 0 1,0 -18.8,0zM643.0,375.2a9.4,9.4 0 1,0 18.8,0a9.4,9.4 0 1,0 -18.8,0zM643.0,356.3a9.4,9.4 0 1,0 18.8,0a9.4,9.4 0 1,0 -18.8,0zM643.0,321.2a9.4,9.4 0 1,0 18.8,0a9.4,9.4 0 1,0 -18.8,0zM647.4,418.4a9.4,9.4 0 1,0 18.8,0a9.4,9.4 0 1,0 -18.8,0zM647.4,415.3a9.4,9.4 0 1,0 18.8,0a9.4,9.4 0 1,0 -18.8,0zM647.4,412.1a9.4,9.4 0 1,0 18.8,0a9.4,9.4 0 1,0 -18.8,0zM647.4,409.0a9.4,9.4 0 1,0 18.8,0a9.4,9.4 0 1,0 -18.8,0zM647.4,405.8a9.4,9.4 0 1,0 18.8,0a9.4,9.4 0 1,0 -18.8,0zM647.4,402.6a9.4,9.4 0 1,0 18.8,0a9.4,9.4 0 1,0 -18.8,0zM647.4,399.5a9.4,9.4 0 1,0 18.8,0a9.4,9.4 0 1,0 -18.8,0zM647.4,396.3a9.4,9.4 0 1,0 18.8,0a9.4,9.4 0 1,0 -18.8,0zM647.4,393.1a9.4,9.4 0 1,0 18.8,0a9.4,9.4 0 1,0 -18.8,0zM647.4,390.0a9.4,9.4 0 1,0 18.8,0a9.4,9.4 0 1,0 -18.8,0zM647.4,386.8a9.4,9.4 0 1,0 18.8,0a9.4,9.4 0 1,0 -18.8,0zM647.4,383.6a9.4,9.4 0 1,0 18.8,0a9.4,9.4 0 1,0 -18.8,0zM647.4,380.5a9.4,9.4 0 1,0 18.8,0a9.4,9.4 0 1,0 -18.8,0zM647.4,377.3a9.4,9.4 0 1,0 18.8,0a9.4,9.4 0 1,0 -18.8,0zM647.4,372.9a9.4,9.4 0 1,0 18.8,0a9.4,9.4 0 1,0 -18.8,0zM647.4,353.7a9.4,9.4 0 1,0 18.8,0a9.4,9.4 0 1,0 -18.8,0zM647.4,318.3a9.4,9.4 0 1,0 18.8,0a9.4,9.4 0 1,0 -18.8,0zM652.9,417.4a9.4,9.4 0 1,0 18.8,0a9.4,9.4 0 1,0 -18.8,0zM652.9,414.3a9.4,9.4 0 1,0 18.8,0a9.4,9.4 0 1,0 -18.8,0zM652.9,411.3a9.4,9.4 0 1,0 18.8,0a9.4,9.4 0 1,0 -18.8,0zM652.9,408.3a9.4,9.4 0 1,0 18.8,0a9.4,9.4 0 1,0 -18.8,0zM652.9,405.2a9.4,9.4 0 1,0 18.8,0a9.4,9.4 0 1,0 -18.8,0zM652.9,402.2a9.4,9.4 0 1,0 18.8,0a9.4,9.4 0 1,0 -18.8,0zM652.9,399.2a9.4,9.4 0 1,0 18.8,0a9.4,9.4 0 1,0 -18.8,0zM652.9,396.2a9.4,9.4 0 1,0 18.8,0a9.4,9.4 0 1,0 -18.8,0zM652.9,393.1a9.4,9.4 0 1,0 18.8,0a9.4,9.4 0 1,0 -18.8,0zM652.9,390.1a9.4,9.4 0 1,0 18.8,0a9.4,9.4 0 1,0 -18.8,0zM652.9,387.1a9.4,9.4 0 1,0 18.8,0a9.4,9.4 0 1,0 -18.8,0zM652.9,384.0a9.4,9.4 0 1,0 18.8,0a9.4,9.4 0 1,0 -18.8,0zM652.9,381.0a9.4,9.4 0 1,0 18.8,0a9.4,9.4 0 1,0 -18.8,0zM652.9,378.0a9.4,9.4 0 1,0 18.8,0a9.4,9.4 0 1,0 -18.8,0zM652.9,375.0a9.4,9.4 0 1,0 18.8,0a9.4,9.4 0 1,0 -18.8,0zM652.9,369.9a9.4,9.4 0 1,0 18.8,0a9.4,9.4 0 1,0 -18.8,0zM652.9,350.3a9.4,9.4 0 1,0 18.8,0a9.4,9.4 0 1,0 -18.8,0zM652.9,314.6a9.4,9.4 0 1,0 18.8,0a9.4,9.4 0 1,0 -18.8,0zM660.1,416.0a9.4,9.4 0 1,0 18.8,0a9.4,9.4 0 1,0 -18.8,0zM660.1,412.8a9.4,9.4 0 1,0 18.8,0a9.4,9.4 0 1,0 -18.8,0zM660.1,409.7a9.4,9.4 0 1,0 18.8,0a9.4,9.4 0 1,0 -18.8,0zM660.1,406.5a9.4,9.4 0 1,0 18.8,0a9.4,9.4 0 1,0 -18.8,0zM660.1,403.4a9.4,9.4 0 1,0 18.8,0a9.4,9.4 0 1,0 -18.8,0zM660.1,400.2a9.4,9.4 0 1,0 18.8,0a9.4,9.4 0 1,0 -18.8,0zM660.1,397.1a9.4,9.4 0 1,0 18.8,0a9.4,9.4 0 1,0 -18.8,0zM660.1,394.0a9.4,9.4 0 1,0 18.8,0a9.4,9.4 0 1,0 -18.8,0zM660.1,390.8a9.4,9.4 0 1,0 18.8,0a9.4,9.4 0 1,0 -18.8,0zM660.1,387.7a9.4,9.4 0 1,0 18.8,0a9.4,9.4 0 1,0 -18.8,0zM660.1,384.5a9.4,9.4 0 1,0 18.8,0a9.4,9.4 0 1,0 -18.8,0zM660.1,381.4a9.4,9.4 0 1,0 18.8,0a9.4,9.4 0 1,0 -18.8,0zM660.1,378.2a9.4,9.4 0 1,0 18.8,0a9.4,9.4 0 1,0 -18.8,0zM660.1,375.1a9.4,9.4 0 1,0 18.8,0a9.4,9.4 0 1,0 -18.8,0zM660.1,371.9a9.4,9.4 0 1,0 18.8,0a9.4,9.4 0 1,0 -18.8,0zM660.1,366.2a9.4,9.4 0 1,0 18.8,0a9.4,9.4 0 1,0 -18.8,0zM660.1,346.0a9.4,9.4 0 1,0 18.8,0a9.4,9.4 0 1,0 -18.8,0zM660.1,310.0a9.4,9.4 0 1,0 18.8,0a9.4,9.4 0 1,0 -18.8,0zM669.1,414.2a9.4,9.4 0 1,0 18.8,0a9.4,9.4 0 1,0 -18.8,0zM669.1,411.1a9.4,9.4 0 1,0 18.8,0a9.4,9.4 0 1,0 -18.8,0zM669.1,408.1a9.4,9.4 0 1,0 18.8,0a9.4,9.4 0 1,0 -18.8,0zM669.1,405.0a9.4,9.4 0 1,0 18.8,0a9.4,9.4 0 1,0 -18.8,0zM669.1,401.9a9.4,9.4 0 1,0 18.8,0a9.4,9.4 0 1,0 -18.8,0zM669.1,398.8a9.4,9.4 0 1,0 18.8,0a9.4,9.4 0 1,0 -18.8,0zM669.1,395.8a9.4,9.4 0 1,0 18.8,0a9.4,9.4 0 1,0 -18.8,0zM669.1,392.7a9.4,9.4 0 1,0 18.8,0a9.4,9.4 0 1,0 -18.8,0zM669.1,389.6a9.4,9.4 0 1,0 18.8,0a9.4,9.4 0 1,0 -18.8,0zM669.1,386.5a9.4,9.4 0 1,0 18.8,0a9.4,9.4 0 1,0 -18.8,0zM669.1,383.5a9.4,9.4 0 1,0 18.8,0a9.4,9.4 0 1,0 -18.8,0zM669.1,380.4a9.4,9.4 0 1,0 18.8,0a9.4,9.4 0 1,0 -18.8,0zM669.1,377.3a9.4,9.4 0 1,0 18.8,0a9.4,9.4 0 1,0 -18.8,0zM669.1,374.2a9.4,9.4 0 1,0 18.8,0a9.4,9.4 0 1,0 -18.8,0zM669.1,371.2a9.4,9.4 0 1,0 18.8,0a9.4,9.4 0 1,0 -18.8,0zM669.1,368.1a9.4,9.4 0 1,0 18.8,0a9.4,9.4 0 1,0 -18.8,0zM669.1,361.4a9.4,9.4 0 1,0 18.8,0a9.4,9.4 0 1,0 -18.8,0zM669.1,340.6a9.4,9.4 0 1,0 18.8,0a9.4,9.4 0 1,0 -18.8,0zM669.1,304.1a9.4,9.4 0 1,0 18.8,0a9.4,9.4 0 1,0 -18.8,0zM680.7,412.0a9.4,9.4 0 1,0 18.8,0a9.4,9.4 0 1,0 -18.8,0zM680.7,408.9a9.4,9.4 0 1,0 18.8,0a9.4,9.4 0 1,0 -18.8,0zM680.7,405.9a9.4,9.4 0 1,0 18.8,0a9.4,9.4 0 1,0 -18.8,0zM680.7,402.8a9.4,9.4 0 1,0 18.8,0a9.4,9.4 0 1,0 -18.8,0zM680.7,399.8a9.4,9.4 0 1,0 18.8,0a9.4,9.4 0 1,0 -18.8,0zM680.7,396.7a9.4,9.4 0 1,0 18.8,0a9.4,9.4 0 1,0 -18.8,0zM680.7,393.7a9.4,9.4 0 1,0 18.8,0a9.4,9.4 0 1,0 -18.8,0zM680.7,390.6a9.4,9.4 0 1,0 18.8,0a9.4,9.4 0 1,0 -18.8,0zM680.7,387.6a9.4,9.4 0 1,0 18.8,0a9.4,9.4 0 1,0 -18.8,0zM680.7,384.5a9.4,9.4 0 1,0 18.8,0a9.4,9.4 0 1,0 -18.8,0zM680.7,381.5a9.4,9.4 0 1,0 18.8,0a9.4,9.4 0 1,0 -18.8,0zM680.7,378.4a9.4,9.4 0 1,0 18.8,0a9.4,9.4 0 1,0 -18.8,0zM680.7,375.4a9.4,9.4 0 1,0 18.8,0a9.4,9.4 0 1,0 -18.8,0zM680.7,372.3a9.4,9.4 0 1,0 18.8,0a9.4,9.4 0 1,0 -18.8,0zM680.7,369.3a9.4,9.4 0 1,0 18.8,0a9.4,9.4 0 1,0 -18.8,0zM680.7,366.2a9.4,9.4 0 1,0 18.8,0a9.4,9.4 0 1,0 -18.8,0zM680.7,363.2a9.4,9.4 0 1,0 18.8,0a9.4,9.4 0 1,0 -18.8,0zM680.7,355.3a9.4,9.4 0 1,0 18.8,0a9.4,9.4 0 1,0 -18.8,0zM680.7,333.6a9.4,9.4 0 1,0 18.8,0a9.4,9.4 0 1,0 -18.8,0zM680.7,296.5a9.4,9.4 0 1,0 18.8,0a9.4,9.4 0 1,0 -18.8,0zM695.4,406.6a9.4,9.4 0 1,0 18.8,0a9.4,9.4 0 1,0 -18.8,0zM695.4,403.5a9.4,9.4 0 1,0 18.8,0a9.4,9.4 0 1,0 -18.8,0zM695.4,400.4a9.4,9.4 0 1,0 18.8,0a9.4,9.4 0 1,0 -18.8,0zM695.4,397.3a9.4,9.4 0 1,0 18.8,0a9.4,9.4 0 1,0 -18.8,0zM695.4,394.2a9.4,9.4 0 1,0 18.8,0a9.4,9.4 0 1,0 -18.8,0zM695.4,391.1a9.4,9.4 0 1,0 18.8,0a9.4,9.4 0 1,0 -18.8,0zM695.4,388.0a9.4,9.4 0 1,0 18.8,0a9.4,9.4 0 1,0 -18.8,0zM695.4,384.9a9.4,9.4 0 1,0 18.8,0a9.4,9.4 0 1,0 -18.8,0zM695.4,381.8a9.4,9.4 0 1,0 18.8,0a9.4,9.4 0 1,0 -18.8,0zM695.4,378.7a9.4,9.4 0 1,0 18.8,0a9.4,9.4 0 1,0 -18.8,0zM695.4,375.6a9.4,9.4 0 1,0 18.8,0a9.4,9.4 0 1,0 -18.8,0zM695.4,372.5a9.4,9.4 0 1,0 18.8,0a9.4,9.4 0 1,0 -18.8,0zM695.4,369.4a9.4,9.4 0 1,0 18.8,0a9.4,9.4 0 1,0 -18.8,0zM695.4,366.3a9.4,9.4 0 1,0 18.8,0a9.4,9.4 0 1,0 -18.8,0zM695.4,363.2a9.4,9.4 0 1,0 18.8,0a9.4,9.4 0 1,0 -18.8,0zM695.4,360.1a9.4,9.4 0 1,0 18.8,0a9.4,9.4 0 1,0 -18.8,0zM695.4,357.0a9.4,9.4 0 1,0 18.8,0a9.4,9.4 0 1,0 -18.8,0zM695.4,347.5a9.4,9.4 0 1,0 18.8,0a9.4,9.4 0 1,0 -18.8,0zM695.4,324.8a9.4,9.4 0 1,0 18.8,0a9.4,9.4 0 1,0 -18.8,0zM695.4,286.9a9.4,9.4 0 1,0 18.8,0a9.4,9.4 0 1,0 -18.8,0zM714.1,402.2a9.4,9.4 0 1,0 18.8,0a9.4,9.4 0 1,0 -18.8,0zM714.1,399.0a9.4,9.4 0 1,0 18.8,0a9.4,9.4 0 1,0 -18.8,0zM714.1,395.9a9.4,9.4 0 1,0 18.8,0a9.4,9.4 0 1,0 -18.8,0zM714.1,392.8a9.4,9.4 0 1,0 18.8,0a9.4,9.4 0 1,0 -18.8,0zM714.1,389.7a9.4,9.4 0 1,0 18.8,0a9.4,9.4 0 1,0 -18.8,0zM714.1,386.5a9.4,9.4 0 1,0 18.8,0a9.4,9.4 0 1,0 -18.8,0zM714.1,383.4a9.4,9.4 0 1,0 18.8,0a9.4,9.4 0 1,0 -18.8,0zM714.1,380.3a9.4,9.4 0 1,0 18.8,0a9.4,9.4 0 1,0 -18.8,0zM714.1,377.1a9.4,9.4 0 1,0 18.8,0a9.4,9.4 0 1,0 -18.8,0zM714.1,374.0a9.4,9.4 0 1,0 18.8,0a9.4,9.4 0 1,0 -18.8,0zM714.1,370.9a9.4,9.4 0 1,0 18.8,0a9.4,9.4 0 1,0 -18.8,0zM714.1,367.8a9.4,9.4 0 1,0 18.8,0a9.4,9.4 0 1,0 -18.8,0zM714.1,364.6a9.4,9.4 0 1,0 18.8,0a9.4,9.4 0 1,0 -18.8,0zM714.1,361.5a9.4,9.4 0 1,0 18.8,0a9.4,9.4 0 1,0 -18.8,0zM714.1,358.4a9.4,9.4 0 1,0 18.8,0a9.4,9.4 0 1,0 -18.8,0zM714.1,355.3a9.4,9.4 0 1,0 18.8,0a9.4,9.4 0 1,0 -18.8,0zM714.1,352.1a9.4,9.4 0 1,0 18.8,0a9.4,9.4 0 1,0 -18.8,0zM714.1,349.0a9.4,9.4 0 1,0 18.8,0a9.4,9.4 0 1,0 -18.8,0zM714.1,337.6a9.4,9.4 0 1,0 18.8,0a9.4,9.4 0 1,0 -18.8,0zM714.1,313.5a9.4,9.4 0 1,0 18.8,0a9.4,9.4 0 1,0 -18.8,0zM714.1,274.6a9.4,9.4 0 1,0 18.8,0a9.4,9.4 0 1,0 -18.8,0zM738.0,393.1a9.4,9.4 0 1,0 18.8,0a9.4,9.4 0 1,0 -18.8,0zM738.0,390.0a9.4,9.4 0 1,0 18.8,0a9.4,9.4 0 1,0 -18.8,0zM738.0,387.0a9.4,9.4 0 1,0 18.8,0a9.4,9.4 0 1,0 -18.8,0zM738.0,384.0a9.4,9.4 0 1,0 18.8,0a9.4,9.4 0 1,0 -18.8,0zM738.0,381.0a9.4,9.4 0 1,0 18.8,0a9.4,9.4 0 1,0 -18.8,0zM738.0,378.0a9.4,9.4 0 1,0 18.8,0a9.4,9.4 0 1,0 -18.8,0zM738.0,375.0a9.4,9.4 0 1,0 18.8,0a9.4,9.4 0 1,0 -18.8,0zM738.0,372.0a9.4,9.4 0 1,0 18.8,0a9.4,9.4 0 1,0 -18.8,0zM738.0,369.0a9.4,9.4 0 1,0 18.8,0a9.4,9.4 0 1,0 -18.8,0zM738.0,366.0a9.4,9.4 0 1,0 18.8,0a9.4,9.4 0 1,0 -18.8,0zM738.0,363.0a9.4,9.4 0 1,0 18.8,0a9.4,9.4 0 1,0 -18.8,0zM738.0,359.9a9.4,9.4 0 1,0 18.8,0a9.4,9.4 0 1,0 -18.8,0zM738.0,356.9a9.4,9.4 0 1,0 18.8,0a9.4,9.4 0 1,0 -18.8,0zM738.0,353.9a9.4,9.4 0 1,0 18.8,0a9.4,9.4 0 1,0 -18.8,0zM738.0,350.9a9.4,9.4 0 1,0 18.8,0a9.4,9.4 0 1,0 -18.8,0zM738.0,347.9a9.4,9.4 0 1,0 18.8,0a9.4,9.4 0 1,0 -18.8,0zM738.0,344.9a9.4,9.4 0 1,0 18.8,0a9.4,9.4 0 1,0 -18.8,0zM738.0,341.9a9.4,9.4 0 1,0 18.8,0a9.4,9.4 0 1,0 -18.8,0zM738.0,338.9a9.4,9.4 0 1,0 18.8,0a9.4,9.4 0 1,0 -18.8,0zM738.0,324.9a9.4,9.4 0 1,0 18.8,0a9.4,9.4 0 1,0 -18.8,0zM738.0,299.1a9.4,9.4 0 1,0 18.8,0a9.4,9.4 0 1,0 -18.8,0zM738.0,259.0a9.4,9.4 0 1,0 18.8,0a9.4,9.4 0 1,0 -18.8,0zM768.5,378.4a9.4,9.4 0 1,0 18.8,0a9.4,9.4 0 1,0 -18.8,0zM768.5,375.3a9.4,9.4 0 1,0 18.8,0a9.4,9.4 0 1,0 -18.8,0zM768.5,372.3a9.4,9.4 0 1,0 18.8,0a9.4,9.4 0 1,0 -18.8,0zM768.5,369.2a9.4,9.4 0 1,0 18.8,0a9.4,9.4 0 1,0 -18.8,0zM768.5,366.1a9.4,9.4 0 1,0 18.8,0a9.4,9.4 0 1,0 -18.8,0zM768.5,363.0a9.4,9.4 0 1,0 18.8,0a9.4,9.4 0 1,0 -18.8,0zM768.5,359.9a9.4,9.4 0 1,0 18.8,0a9.4,9.4 0 1,0 -18.8,0zM768.5,356.8a9.4,9.4 0 1,0 18.8,0a9.4,9.4 0 1,0 -18.8,0zM768.5,353.7a9.4,9.4 0 1,0 18.8,0a9.4,9.4 0 1,0 -18.8,0zM768.5,350.6a9.4,9.4 0 1,0 18.8,0a9.4,9.4 0 1,0 -18.8,0zM768.5,347.6a9.4,9.4 0 1,0 18.8,0a9.4,9.4 0 1,0 -18.8,0zM768.5,344.5a9.4,9.4 0 1,0 18.8,0a9.4,9.4 0 1,0 -18.8,0zM768.5,341.4a9.4,9.4 0 1,0 18.8,0a9.4,9.4 0 1,0 -18.8,0zM768.5,338.3a9.4,9.4 0 1,0 18.8,0a9.4,9.4 0 1,0 -18.8,0zM768.5,335.2a9.4,9.4 0 1,0 18.8,0a9.4,9.4 0 1,0 -18.8,0zM768.5,332.1a9.4,9.4 0 1,0 18.8,0a9.4,9.4 0 1,0 -18.8,0zM768.5,329.0a9.4,9.4 0 1,0 18.8,0a9.4,9.4 0 1,0 -18.8,0zM768.5,326.0a9.4,9.4 0 1,0 18.8,0a9.4,9.4 0 1,0 -18.8,0zM768.5,308.8a9.4,9.4 0 1,0 18.8,0a9.4,9.4 0 1,0 -18.8,0zM768.5,280.8a9.4,9.4 0 1,0 18.8,0a9.4,9.4 0 1,0 -18.8,0zM768.5,239.0a9.4,9.4 0 1,0 18.8,0a9.4,9.4 0 1,0 -18.8,0zM807.3,362.7a9.4,9.4 0 1,0 18.8,0a9.4,9.4 0 1,0 -18.8,0zM807.3,359.5a9.4,9.4 0 1,0 18.8,0a9.4,9.4 0 1,0 -18.8,0zM807.3,356.4a9.4,9.4 0 1,0 18.8,0a9.4,9.4 0 1,0 -18.8,0zM807.3,353.3a9.4,9.4 0 1,0 18.8,0a9.4,9.4 0 1,0 -18.8,0zM807.3,350.2a9.4,9.4 0 1,0 18.8,0a9.4,9.4 0 1,0 -18.8,0zM807.3,347.0a9.4,9.4 0 1,0 18.8,0a9.4,9.4 0 1,0 -18.8,0zM807.3,343.9a9.4,9.4 0 1,0 18.8,0a9.4,9.4 0 1,0 -18.8,0zM807.3,340.8a9.4,9.4 0 1,0 18.8,0a9.4,9.4 0 1,0 -18.8,0zM807.3,337.7a9.4,9.4 0 1,0 18.8,0a9.4,9.4 0 1,0 -18.8,0zM807.3,334.5a9.4,9.4 0 1,0 18.8,0a9.4,9.4 0 1,0 -18.8,0zM807.3,331.4a9.4,9.4 0 1,0 18.8,0a9.4,9.4 0 1,0 -18.8,0zM807.3,328.3a9.4,9.4 0 1,0 18.8,0a9.4,9.4 0 1,0 -18.8,0zM807.3,325.1a9.4,9.4 0 1,0 18.8,0a9.4,9.4 0 1,0 -18.8,0zM807.3,322.0a9.4,9.4 0 1,0 18.8,0a9.4,9.4 0 1,0 -18.8,0zM807.3,318.9a9.4,9.4 0 1,0 18.8,0a9.4,9.4 0 1,0 -18.8,0zM807.3,315.8a9.4,9.4 0 1,0 18.8,0a9.4,9.4 0 1,0 -18.8,0zM807.3,312.6a9.4,9.4 0 1,0 18.8,0a9.4,9.4 0 1,0 -18.8,0zM807.3,309.5a9.4,9.4 0 1,0 18.8,0a9.4,9.4 0 1,0 -18.8,0zM807.3,288.3a9.4,9.4 0 1,0 18.8,0a9.4,9.4 0 1,0 -18.8,0zM807.3,257.4a9.4,9.4 0 1,0 18.8,0a9.4,9.4 0 1,0 -18.8,0zM807.3,213.6a9.4,9.4 0 1,0 18.8,0a9.4,9.4 0 1,0 -18.8,0zM856.8,342.4a9.4,9.4 0 1,0 18.8,0a9.4,9.4 0 1,0 -18.8,0zM856.8,339.3a9.4,9.4 0 1,0 18.8,0a9.4,9.4 0 1,0 -18.8,0zM856.8,336.1a9.4,9.4 0 1,0 18.8,0a9.4,9.4 0 1,0 -18.8,0zM856.8,332.9a9.4,9.4 0 1,0 18.8,0a9.4,9.4 0 1,0 -18.8,0zM856.8,329.7a9.4,9.4 0 1,0 18.8,0a9.4,9.4 0 1,0 -18.8,0zM856.8,326.6a9.4,9.4 0 1,0 18.8,0a9.4,9.4 0 1,0 -18.8,0zM856.8,323.4a9.4,9.4 0 1,0 18.8,0a9.4,9.4 0 1,0 -18.8,0zM856.8,320.2a9.4,9.4 0 1,0 18.8,0a9.4,9.4 0 1,0 -18.8,0zM856.8,317.1a9.4,9.4 0 1,0 18.8,0a9.4,9.4 0 1,0 -18.8,0zM856.8,313.9a9.4,9.4 0 1,0 18.8,0a9.4,9.4 0 1,0 -18.8,0zM856.8,310.7a9.4,9.4 0 1,0 18.8,0a9.4,9.4 0 1,0 -18.8,0zM856.8,307.6a9.4,9.4 0 1,0 18.8,0a9.4,9.4 0 1,0 -18.8,0zM856.8,304.4a9.4,9.4 0 1,0 18.8,0a9.4,9.4 0 1,0 -18.8,0zM856.8,301.2a9.4,9.4 0 1,0 18.8,0a9.4,9.4 0 1,0 -18.8,0zM856.8,298.0a9.4,9.4 0 1,0 18.8,0a9.4,9.4 0 1,0 -18.8,0zM856.8,294.9a9.4,9.4 0 1,0 18.8,0a9.4,9.4 0 1,0 -18.8,0zM856.8,291.7a9.4,9.4 0 1,0 18.8,0a9.4,9.4 0 1,0 -18.8,0zM856.8,288.5a9.4,9.4 0 1,0 18.8,0a9.4,9.4 0 1,0 -18.8,0zM856.8,262.1a9.4,9.4 0 1,0 18.8,0a9.4,9.4 0 1,0 -18.8,0zM856.8,227.7a9.4,9.4 0 1,0 18.8,0a9.4,9.4 0 1,0 -18.8,0zM856.8,181.3a9.4,9.4 0 1,0 18.8,0a9.4,9.4 0 1,0 -18.8,0zM919.8,323.3a9.4,9.4 0 1,0 18.8,0a9.4,9.4 0 1,0 -18.8,0zM919.8,320.2a9.4,9.4 0 1,0 18.8,0a9.4,9.4 0 1,0 -18.8,0zM919.8,317.2a9.4,9.4 0 1,0 18.8,0a9.4,9.4 0 1,0 -18.8,0zM919.8,314.1a9.4,9.4 0 1,0 18.8,0a9.4,9.4 0 1,0 -18.8,0zM919.8,311.0a9.4,9.4 0 1,0 18.8,0a9.4,9.4 0 1,0 -18.8,0zM919.8,307.9a9.4,9.4 0 1,0 18.8,0a9.4,9.4 0 1,0 -18.8,0zM919.8,304.9a9.4,9.4 0 1,0 18.8,0a9.4,9.4 0 1,0 -18.8,0zM919.8,301.8a9.4,9.4 0 1,0 18.8,0a9.4,9.4 0 1,0 -18.8,0zM919.8,298.7a9.4,9.4 0 1,0 18.8,0a9.4,9.4 0 1,0 -18.8,0zM919.8,295.6a9.4,9.4 0 1,0 18.8,0a9.4,9.4 0 1,0 -18.8,0zM919.8,292.6a9.4,9.4 0 1,0 18.8,0a9.4,9.4 0 1,0 -18.8,0zM919.8,289.5a9.4,9.4 0 1,0 18.8,0a9.4,9.4 0 1,0 -18.8,0zM919.8,286.4a9.4,9.4 0 1,0 18.8,0a9.4,9.4 0 1,0 -18.8,0zM919.8,283.3a9.4,9.4 0 1,0 18.8,0a9.4,9.4 0 1,0 -18.8,0zM919.8,280.3a9.4,9.4 0 1,0 18.8,0a9.4,9.4 0 1,0 -18.8,0zM919.8,277.2a9.4,9.4 0 1,0 18.8,0a9.4,9.4 0 1,0 -18.8,0zM919.8,274.1a9.4,9.4 0 1,0 18.8,0a9.4,9.4 0 1,0 -18.8,0zM919.8,271.0a9.4,9.4 0 1,0 18.8,0a9.4,9.4 0 1,0 -18.8,0zM919.8,268.0a9.4,9.4 0 1,0 18.8,0a9.4,9.4 0 1,0 -18.8,0zM919.8,264.9a9.4,9.4 0 1,0 18.8,0a9.4,9.4 0 1,0 -18.8,0zM919.8,261.8a9.4,9.4 0 1,0 18.8,0a9.4,9.4 0 1,0 -18.8,0zM919.8,228.8a9.4,9.4 0 1,0 18.8,0a9.4,9.4 0 1,0 -18.8,0zM919.8,189.8a9.4,9.4 0 1,0 18.8,0a9.4,9.4 0 1,0 -18.8,0zM919.8,140.0a9.4,9.4 0 1,0 18.8,0a9.4,9.4 0 1,0 -18.8,0z"/>
<line x1="618.832" y1="456.05" x2="946.768" y2="330.05" stroke="#000" stroke-width="2.6"/>
</g>
<g clip-path="url(#clip3)">
<path fill="#440154" d="M147.1,835.4a9.4,9.4 0 1,0 18.8,0a9.4,9.4 0 1,0 -18.8,0zM147.9,835.0a9.4,9.4 0 1,0 18.8,0a9.4,9.4 0 1,0 -18.8,0zM149.0,834.6a9.4,9.4 0 1,0 18.8,0a9.4,9.4 0 1,0 -18.8,0zM150.3,834.0a9.4,9.4 0 1,0 18.8,0a9.4,9.4 0 1,0 -18.8,0zM151.9,833.3a9.4,9.4 0 1,0 18.8,0a9.4,9.4 0 1,0 -18.8,0zM154.0,832.3a9.4,9.4 0 1,0 18.8,0a9.4,9.4 0 1,0 -18.8,0zM156.7,831.2a9.4,9.4 0 1,0 18.8,0a9.4,9.4 0 1,0 -18.8,0zM160.2,829.7a9.4,9.4 0 1,0 18.8,0a9.4,9.4 0 1,0 -18.8,0zM164.6,827.7a9.4,9.4 0 1,0 18.8,0a9.4,9.4 0 1,0 -18.8,0zM170.1,825.3a9.4,9.4 0 1,0 18.8,0a9.4,9.4 0 1,0 -18.8,0zM177.3,822.1a9.4,9.4 0 1,0 18.8,0a9.4,9.4 0 1,0 -18.8,0zM186.3,817.8a9.4,9.4 0 1,0 18.8,0a9.4,9.4 0 1,0 -18.8,0zM197.9,813.4a9.4,9.4 0 1,0 18.8,0a9.4,9.4 0 1,0 -18.8,0zM212.6,805.8a9.4,9.4 0 1,0 18.8,0a9.4,9.4 0 1,0 -18.8,0zM231.3,798.7a9.4,9.4 0 1,0 18.8,0a9.4,9.4 0 1,0 -18.8,0zM255.2,789.8a9.4,9.4 0 1,0 18.8,0a9.4,9.4 0 1,0 -18.8,0zM285.7,777.4a9.4,9.4 0 1,0 18.8,0a9.4,9.4 0 1,0 -18.8,0zM285.7,774.7a9.4,9.4 0 1,0 18.8,0a9.4,9.4 0 1,0 -18.8,0zM324.5,761.4a9.4,9.4 0 1,0 18.8,0a9.4,9.4 0 1,0 -18.8,0zM324.5,758.6a9.4,9.4 0 1,0 18.8,0a9.4,9.4 0 1,0 -18.8,0zM374.0,741.1a9.4,9.4 0 1,0 18.8,0a9.4,9.4 0 1,0 -18.8,0zM374.0,738.9a9.4,9.4 0 1,0 18.8,0a9.4,9.4 0 1,0 -18.8,0zM374.0,736.8a9.4,9.4 0 1,0 18.8,0a9.4,9.4 0 1,0 -18.8,0zM437.0,717.2a9.4,9.4 0 1,0 18.8,0a9.4,9.4 0 1,0 -18.8,0zM437.0,715.1a9.4,9.4 0 1,0 18.8,0a9.4,9.4 0 1,0 -18.8,0zM437.0,713.1a9.4,9.4 0 1,0 18.8,0a9.4,9.4 0 1,0 -18.8,0zM437.0,711.0a9.4,9.4 0 1,0 18.8,0a9.4,9.4 0 1,0 -18.8,0z"/>
<path fill="#3b528b" d="M147.1,834.7a9.4,9.4 0 1,0 18.8,0a9.4,9.4 0 1,0 -18.8,0zM147.9,834.3a9.4,9.4 0 1,0 18.8,0a9.4,9.4 0 1,0 -18.8,0zM149.0,833.8a9.4,9.4 0 1,0 18.8,0a9.4,9.4 0 1,0 -18.8,0zM150.3,833.2a9.4,9.4 0 1,0 18.8,0a9.4,9.4 0 1,0 -18.8,0zM151.9,832.5a9.4,9.4 0 1,0 18.8,0a9.4,9.4 0 1,0 -18.8,0zM154.0,831.5a9.4,9.4 0 1,0 18.8,0a9.4,9.4 0 1,0 -18.8,0zM156.7,830.2a9.4,9.4 0 1,0 18.8,0a9.4,9.4 0 1,0 -18.8,0zM160.2,828.7a9.4,9.4 0 1,0 18.8,0a9.4,9.4 0 1,0 -18.8,0zM164.6,826.6a9.4,9.4 0 1,0 18.8,0a9.4,9.4 0 1,0 -18.8,0zM170.1,824.0a9.4,9.4 0 1,0 18.8,0a9.4,9.4 0 1,0 -18.8,0zM177.3,820.8a9.4,9.4 0 1,0 18.8,0a9.4,9.4 0 1,0 -18.8,0zM186.3,816.2a9.4,9.4 0 1,0 18.8,0a9.4,9.4 0 1,0 -18.8,0zM197.9,811.3a9.4,9.4 0 1,0 18.8,0a9.4,9.4 0 1,0 -18.8,0zM212.6,803.7a9.4,9.4 0 1,0 18.8,0a9.4,9.4 0 1,0 -18.8,0zM231.3,796.7a9.4,9.4 0 1,0 18.8,0a9.4,9.4 0 1,0 -18.8,0zM255.2,786.1a9.4,9.4 0 1,0 18.8,0a9.4,9.4 0 1,0 -18.8,0zM285.7,772.1a9.4,9.4 0 1,0 18.8,0a9.4,9.4 0 1,0 -18.8,0zM285.7,770.0a9.4,9.4 0 1,0 18.8,0a9.4,9.4 0 1,0 -18.8,0zM324.5,755.8a9.4,9.4 0 1,0 18.8,0a9.4,9.4 0 1,0 -18.8,0zM324.5,753.6a9.4,9.4 0 1,0 18.8,0a9.4,9.4 0 1,0 -18.8,0zM374.0,734.7a9.4,9.4 0 1,0 18.8,0a9.4,9.4 0 1,0 -18.8,0zM374.0,732.2a9.4,9.4 0 1,0 18.8,0a9.4,9.4 0 1,0 -18.8,0zM437.0,709.0a9.4,9.4 0 1,0 18.8,0a9.4,9.4 0 1,0 -18.8,0zM437.0,706.9a9.4,9.4 0 1,0 18.8,0a9.4,9.4 0 1,0 -18.8,0zM437.0,704.8a9.4,9.4 0 1,0 18.8,0a9.4,9.4 0 1,0 -18.8,0z"/>
<path fill="#21918c" d="M147.1,834.2a9.4,9.4 0 1,0 18.8,0a9.4,9.4 0 1,0 -18.8,0zM147.9,833.8a9.4,9.4 0 1,0 18.8,0a9.4,9.4 0 1,0 -18.8,0zM149.0,833.3a9.4,9.4 0 1,0 18.8,0a9.4,9.4 0 1,0 -18.8,0zM150.3,832.7a9.4,9.4 0 1,0 18.8,0a9.4,9.4 0 1,0 -18.8,0zM151.9,831.9a9.4,9.4 0 1,0 18.8,0a9.4,9.4 0 1,0 -18.8,0zM154.0,830.8a9.4,9.4 0 1,0 18.8,0a9.4,9.4 0 1,0 -18.8,0zM156.7,829.5a9.4,9.4 0 1,0 18.8,0a9.4,9.4 0 1,0 -18.8,0zM160.2,827.9a9.4,9.4 0 1,0 18.8,0a9.4,9.4 0 1,0 -18.8,0zM164.6,825.8a9.4,9.4 0 1,0 18.8,0a9.4,9.4 0 1,0 -18.8,0zM170.1,823.1a9.4,9.4 0 1,0 18.8,0a9.4,9.4 0 1,0 -18.8,0zM177.3,819.7a9.4,9.4 0 1,0 18.8,0a9.4,9.4 0 1,0 -18.8,0zM186.3,815.0a9.4,9.4 0 1,0 18.8,0a9.4,9.4 0 1,0 -18.8,0zM197.9,809.7a9.4,9.4 0 1,0 18.8,0a9.4,9.4 0 1,0 -18.8,0zM212.6,802.1a9.4,9.4 0 1,0 18.8,0a9.4,9.4 0 1,0 -18.8,0zM231.3,795.2a9.4,9.4 0 1,0 18.8,0a9.4,9.4 0 1,0 -18.8,0zM255.2,783.2a9.4,9.4 0 1,0 18.8,0a9.4,9.4 0 1,0 -18.8,0zM285.7,768.0a9.4,9.4 0 1,0 18.8,0a9.4,9.4 0 1,0 -18.8,0zM285.7,765.6a9.4,9.4 0 1,0 18.8,0a9.4,9.4 0 1,0 -18.8,0zM324.5,751.4a9.4,9.4 0 1,0 18.8,0a9.4,9.4 0 1,0 -18.8,0zM324.5,748.9a9.4,9.4 0 1,0 18.8,0a9.4,9.4 0 1,0 -18.8,0zM374.0,729.8a9.4,9.4 0 1,0 18.8,0a9.4,9.4 0 1,0 -18.8,0zM374.0,727.0a9.4,9.4 0 1,0 18.8,0a9.4,9.4 0 1,0 -18.8,0zM437.0,702.7a9.4,9.4 0 1,0 18.8,0a9.4,9.4 0 1,0 -18.8,0zM437.0,700.3a9.4,9.4 0 1,0 18.8,0a9.4,9.4 0 1,0 -18.8,0zM437.0,697.9a9.4,9.4 0 1,0 18.8,0a9.4,9.4 0 1,0 -18.8,0z"/>
<path fill="#5ec962" d="M147.1,833.5a9.4,9.4 0 1,0 18.8,0a9.4,9.4 0 1,0 -18.8,0zM147.9,833.1a9.4,9.4 0 1,0 18.8,0a9.4,9.4 0 1,0 -18.8,0zM149.0,832.6a9.4,9.4 0 1,0 18.8,0a9.4,9.4 0 1,0 -18.8,0zM150.3,832.0a9.4,9.4 0 1,0 18.8,0a9.4,9.4 0 1,0 -18.8,0zM151.9,831.1a9.4,9.4 0 1,0 18.8,0a9.4,9.4 0 1,0 -18.8,0zM154.0,830.1a9.4,9.4 0 1,0 18.8,0a9.4,9.4 0 1,0 -18.8,0zM156.7,828.7a9.4,9.4 0 1,0 18.8,0a9.4,9.4 0 1,0 -18.8,0zM160.2,827.0a9.4,9.4 0 1,0 18.8,0a9.4,9.4 0 1,0 -18.8,0zM164.6,824.8a9.4,9.4 0 1,0 18.8,0a9.4,9.4 0 1,0 -18.8,0zM170.1,822.0a9.4,9.4 0 1,0 18.8,0a9.4,9.4 0 1,0 -18.8,0zM177.3,818.5a9.4,9.4 0 1,0 18.8,0a9.4,9.4 0 1,0 -18.8,0zM186.3,813.5a9.4,9.4 0 1,0 18.8,0a9.4,9.4 0 1,0 -18.8,0zM197.9,807.8a9.4,9.4 0 1,0 18.8,0a9.4,9.4 0 1,0 -18.8,0zM197.9,805.7a9.4,9.4 0 1,0 18.8,0a9.4,9.4 0 1,0 -18.8,0zM212.6,800.2a9.4,9.4 0 1,0 18.8,0a9.4,9.4 0 1,0 -18.8,0zM212.6,798.1a9.4,9.4 0 1,0 18.8,0a9.4,9.4 0 1,0 -18.8,0zM231.3,793.5a9.4,9.4 0 1,0 18.8,0a9.4,9.4 0 1,0 -18.8,0zM255.2,779.9a9.4,9.4 0 1,0 18.8,0a9.4,9.4 0 1,0 -18.8,0zM255.2,777.4a9.4,9.4 0 1,0 18.8,0a9.4,9.4 0 1,0 -18.8,0zM255.2,774.9a9.4,9.4 0 1,0 18.8,0a9.4,9.4 0 1,0 -18.8,0zM285.7,763.2a9.4,9.4 0 1,0 18.8,0a9.4,9.4 0 1,0 -18.8,0zM285.7,761.1a9.4,9.4 0 1,0 18.8,0a9.4,9.4 0 1,0 -18.8,0zM285.7,759.0a9.4,9.4 0 1,0 18.8,0a9.4,9.4 0 1,0 -18.8,0zM285.7,756.8a9.4,9.4 0 1,0 18.8,0a9.4,9.4 0 1,0 -18.8,0zM285.7,754.7a9.4,9.4 0 1,0 18.8,0a9.4,9.4 0 1,0 -18.8,0zM324.5,746.4a9.4,9.4 0 1,0 18.8,0a9.4,9.4 0 1,0 -18.8,0zM324.5,744.1a9.4,9.4 0 1,0 18.8,0a9.4,9.4 0 1,0 -18.8,0zM324.5,741.9a9.4,9.4 0 1,0 18.8,0a9.4,9.4 0 1,0 -18.8,0zM324.5,739.6a9.4,9.4 0 1,0 18.8,0a9.4,9.4 0 1,0 -18.8,0zM324.5,737.4a9.4,9.4 0 1,0 18.8,0a9.4,9.4 0 1,0 -18.8,0zM374.0,724.1a9.4,9.4 0 1,0 18.8,0a9.4,9.4 0 1,0 -18.8,0zM374.0,722.0a9.4,9.4 0 1,0 18.8,0a9.4,9.4 0 1,0 -18.8,0zM374.0,719.9a9.4,9.4 0 1,0 18.8,0a9.4,9.4 0 1,0 -18.8,0zM374.0,717.7a9.4,9.4 0 1,0 18.8,0a9.4,9.4 0 1,0 -18.8,0zM374.0,715.6a9.4,9.4 0 1,0 18.8,0a9.4,9.4 0 1,0 -18.8,0zM374.0,713.5a9.4,9.4 0 1,0 18.8,0a9.4,9.4 0 1,0 -18.8,0zM437.0,695.4a9.4,9.4 0 1,0 18.8,0a9.4,9.4 0 1,0 -18.8,0zM437.0,693.4a9.4,9.4 0 1,0 18.8,0a9.4,9.4 0 1,0 -18.8,0zM437.0,691.3a9.4,9.4 0 1,0 18.8,0a9.4,9.4 0 1,0 -18.8,0zM437.0,689.3a9.4,9.4 0 1,0 18.8,0a9.4,9.4 0 1,0 -18.8,0zM437.0,687.2a9.4,9.4 0 1,0 18.8,0a9.4,9.4 0 1,0 -18.8,0zM437.0,685.2a9.4,9.4 0 1,0 18.8,0a9.4,9.4 0 1,0 -18.8,0zM437.0,683.2a9.4,9.4 0 1,0 18.8,0a9.4,9.4 0 1,0 -18.8,0zM437.0,681.1a9.4,9.4 0 1,0 18.8,0a9.4,9.4 0 1,0 -18.8,0z"/>
<path fill="#fde725" d="M147.1,832.2a9.4,9.4 0 1,0 18.8,0a9.4,9.4 0 1,0 -18.8,0zM147.1,828.9a9.4,9.4 0 1,0 18.8,0a9.4,9.4 0 1,0 -18.8,0zM147.1,825.7a9.4,9.4 0 1,0 18.8,0a9.4,9.4 0 1,0 -18.8,0zM147.9,831.7a9.4,9.4 0 1,0 18.8,0a9.4,9.4 0 1,0 -18.8,0zM147.9,828.2a9.4,9.4 0 1,0 18.8,0a9.4,9.4 0 1,0 -18.8,0zM147.9,824.7a9.4,9.4 0 1,0 18.8,0a9.4,9.4 0 1,0 -18.8,0zM149.0,831.2a9.4,9.4 0 1,0 18.8,0a9.4,9.4 0 1,0 -18.8,0zM149.0,827.3a9.4,9.4 0 1,0 18.8,0a9.4,9.4 0 1,0 -18.8,0zM149.0,823.5a9.4,9.4 0 1,0 18.8,0a9.4,9.4 0 1,0 -18.8,0zM150.3,830.4a9.4,9.4 0 1,0 18.8,0a9.4,9.4 0 1,0 -18.8,0zM150.3,826.2a9.4,9.4 0 1,0 18.8,0a9.4,9.4 0 1,0 -18.8,0zM150.3,822.0a9.4,9.4 0 1,0 18.8,0a9.4,9.4 0 1,0 -18.8,0zM151.9,829.5a9.4,9.4 0 1,0 18.8,0a9.4,9.4 0 1,0 -18.8,0zM151.9,826.4a9.4,9.4 0 1,0 18.8,0a9.4,9.4 0 1,0 -18.8,0zM151.9,823.2a9.4,9.4 0 1,0 18.8,0a9.4,9.4 0 1,0 -18.8,0zM151.9,820.0a9.4,9.4 0 1,0 18.8,0a9.4,9.4 0 1,0 -18.8,0zM154.0,828.4a9.4,9.4 0 1,0 18.8,0a9.4,9.4 0 1,0 -18.8,0zM154.0,824.8a9.4,9.4 0 1,0 18.8,0a9.4,9.4 0 1,0 -18.8,0zM154.0,821.1a9.4,9.4 0 1,0 18.8,0a9.4,9.4 0 1,0 -18.8,0zM154.0,817.5a9.4,9.4 0 1,0 18.8,0a9.4,9.4 0 1,0 -18.8,0zM156.7,826.9a9.4,9.4 0 1,0 18.8,0a9.4,9.4 0 1,0 -18.8,0zM156.7,823.8a9.4,9.4 0 1,0 18.8,0a9.4,9.4 0 1,0 -18.8,0zM156.7,820.6a9.4,9.4 0 1,0 18.8,0a9.4,9.4 0 1,0 -18.8,0zM156.7,817.5a9.4,9.4 0 1,0 18.8,0a9.4,9.4 0 1,0 -18.8,0zM156.7,814.3a9.4,9.4 0 1,0 18.8,0a9.4,9.4 0 1,0 -18.8,0zM160.2,825.0a9.4,9.4 0 1,0 18.8,0a9.4,9.4 0 1,0 -18.8,0zM160.2,821.3a9.4,9.4 0 1,0 18.8,0a9.4,9.4 0 1,0 -18.8,0zM160.2,817.6a9.4,9.4 0 1,0 18.8,0a9.4,9.4 0 1,0 -18.8,0zM160.2,813.9a9.4,9.4 0 1,0 18.8,0a9.4,9.4 0 1,0 -18.8,0zM160.2,810.2a9.4,9.4 0 1,0 18.8,0a9.4,9.4 0 1,0 -18.8,0zM164.6,822.6a9.4,9.4 0 1,0 18.8,0a9.4,9.4 0 1,0 -18.8,0zM164.6,819.1a9.4,9.4 0 1,0 18.8,0a9.4,9.4 0 1,0 -18.8,0zM164.6,815.6a9.4,9.4 0 1,0 18.8,0a9.4,9.4 0 1,0 -18.8,0zM164.6,812.1a9.4,9.4 0 1,0 18.8,0a9.4,9.4 0 1,0 -18.8,0zM164.6,808.5a9.4,9.4 0 1,0 18.8,0a9.4,9.4 0 1,0 -18.8,0zM164.6,805.0a9.4,9.4 0 1,0 18.8,0a9.4,9.4 0 1,0 -18.8,0zM170.1,819.6a9.4,9.4 0 1,0 18.8,0a9.4,9.4 0 1,0 -18.8,0zM170.1,816.6a9.4,9.4 0 1,0 18.8,0a9.4,9.4 0 1,0 -18.8,0zM170.1,813.5a9.4,9.4 0 1,0 18.8,0a9.4,9.4 0 1,0 -18.8,0zM170.1,810.5a9.4,9.4 0 1,0 18.8,0a9.4,9.4 0 1,0 -18.8,0zM170.1,807.5a9.4,9.4 0 1,0 18.8,0a9.4,9.4 0 1,0 -18.8,0zM170.1,804.5a9.4,9.4 0 1,0 18.8,0a9.4,9.4 0 1,0 -18.8,0zM170.1,801.4a9.4,9.4 0 1,0 18.8,0a9.4,9.4 0 1,0 -18.8,0zM170.1,798.4a9.4,9.4 0 1,0 18.8,0a9.4,9.4 0 1,0 -18.8,0zM177.3,815.7a9.4,9.4 0 1,0 18.8,0a9.4,9.4 0 1,0 -18.8,0zM177.3,812.6a9.4,9.4 0 1,0 18.8,0a9.4,9.4 0 1,0 -18.8,0zM177.3,809.5a9.4,9.4 0 1,0 18.8,0a9.4,9.4 0 1,0 -18.8,0zM177.3,806.4a9.4,9.4 0 1,0 18.8,0a9.4,9.4 0 1,0 -18.8,0zM177.3,803.3a9.4,9.4 0 1,0 18.8,0a9.4,9.4 0 1,0 -18.8,0zM177.3,800.1a9.4,9.4 0 1,0 18.8,0a9.4,9.4 0 1,0 -18.8,0zM177.3,797.0a9.4,9.4 0 1,0 18.8,0a9.4,9.4 0 1,0 -18.8,0zM177.3,793.9a9.4,9.4 0 1,0 18.8,0a9.4,9.4 0 1,0 -18.8,0zM177.3,790.8a9.4,9.4 0 1,0 18.8,0a9.4,9.4 0 1,0 -18.8,0zM186.3,810.4a9.4,9.4 0 1,0 18.8,0a9.4,9.4 0 1,0 -18.8,0zM186.3,807.2a9.4,9.4 0 1,0 18.8,0a9.4,9.4 0 1,0 -18.8,0zM186.3,804.1a9.4,9.4 0 1,0 18.8,0a9.4,9.4 0 1,0 -18.8,0zM186.3,800.9a9.4,9.4 0 1,0 18.8,0a9.4,9.4 0 1,0 -18.8,0zM186.3,797.8a9.4,9.4 0 1,0 18.8,0a9.4,9.4 0 1,0 -18.8,0zM186.3,794.6a9.4,9.4 0 1,0 18.8,0a9.4,9.4 0 1,0 -18.8,0zM186.3,791.5a9.4,9.4 0 1,0 18.8,0a9.4,9.4 0 1,0 -18.8,0zM186.3,788.4a9.4,9.4 0 1,0 18.8,0a9.4,9.4 0 1,0 -18.8,0zM186.3,785.2a9.4,9.4 0 1,0 18.8,0a9.4,9.4 0 1,0 -18.8,0zM186.3,782.1a9.4,9.4 0 1,0 18.8,0a9.4,9.4 0 1,0 -18.8,0zM197.9,803.6a9.4,9.4 0 1,0 18.8,0a9.4,9.4 0 1,0 -18.8,0zM197.9,800.4a9.4,9.4 0 1,0 18.8,0a9.4,9.4 0 1,0 -18.8,0zM197.9,797.3a9.4,9.4 0 1,0 18.8,0a9.4,9.4 0 1,0 -18.8,0zM197.9,794.1a9.4,9.4 0 1,0 18.8,0a9.4,9.4 0 1,0 -18.8,0zM197.9,791.0a9.4,9.4 0 1,0 18.8,0a9.4,9.4 0 1,0 -18.8,0zM197.9,787.9a9.4,9.4 0 1,0 18.8,0a9.4,9.4 0 1,0 -18.8,0zM197.9,784.7a9.4,9.4 0 1,0 18.8,0a9.4,9.4 0 1,0 -18.8,0zM197.9,781.6a9.4,9.4 0 1,0 18.8,0a9.4,9.4 0 1,0 -18.8,0zM197.9,778.4a9.4,9.4 0 1,0 18.8,0a9.4,9.4 0 1,0 -18.8,0zM197.9,775.3a9.4,9.4 0 1,0 18.8,0a9.4,9.4 0 1,0 -18.8,0zM197.9,772.2a9.4,9.4 0 1,0 18.8,0a9.4,9.4 0 1,0 -18.8,0zM197.9,769.0a9.4,9.4 0 1,0 18.8,0a9.4,9.4 0 1,0 -18.8,0zM212.6,796.0a9.4,9.4 0 1,0 18.8,0a9.4,9.4 0 1,0 -18.8,0zM212.6,793.0a9.4,9.4 0 1,0 18.8,0a9.4,9.4 0 1,0 -18.8,0zM212.6,790.0a9.4,9.4 0 1,0 18.8,0a9.4,9.4 0 1,0 -18.8,0zM212.6,787.0a9.4,9.4 0 1,0 18.8,0a9.4,9.4 0 1,0 -18.8,0zM212.6,783.9a9.4,9.4 0 1,0 18.8,0a9.4,9.4 0 1,0 -18.8,0zM212.6,780.9a9.4,9.4 0 1,0 18.8,0a9.4,9.4 0 1,0 -18.8,0zM212.6,777.9a9.4,9.4 0 1,0 18.8,0a9.4,9.4 0 1,0 -18.8,0zM212.6,774.9a9.4,9.4 0 1,0 18.8,0a9.4,9.4 0 1,0 -18.8,0zM212.6,771.9a9.4,9.4 0 1,0 18.8,0a9.4,9.4 0 1,0 -18.8,0zM212.6,768.9a9.4,9.4 0 1,0 18.8,0a9.4,9.4 0 1,0 -18.8,0zM212.6,765.9a9.4,9.4 0 1,0 18.8,0a9.4,9.4 0 1,0 -18.8,0zM212.6,762.9a9.4,9.4 0 1,0 18.8,0a9.4,9.4 0 1,0 -18.8,0zM212.6,759.9a9.4,9.4 0 1,0 18.8,0a9.4,9.4 0 1,0 -18.8,0zM212.6,756.8a9.4,9.4 0 1,0 18.8,0a9.4,9.4 0 1,0 -18.8,0zM212.6,753.8a9.4,9.4 0 1,0 18.8,0a9.4,9.4 0 1,0 -18.8,0zM231.3,789.5a9.4,9.4 0 1,0 18.8,0a9.4,9.4 0 1,0 -18.8,0zM231.3,786.5a9.4,9.4 0 1,0 18.8,0a9.4,9.4 0 1,0 -18.8,0zM231.3,783.4a9.4,9.4 0 1,0 18.8,0a9.4,9.4 0 1,0 -18.8,0zM231.3,780.3a9.4,9.4 0 1,0 18.8,0a9.4,9.4 0 1,0 -18.8,0zM231.3,777.3a9.4,9.4 0 1,0 18.8,0a9.4,9.4 0 1,0 -18.8,0zM231.3,774.2a9.4,9.4 0 1,0 18.8,0a9.4,9.4 0 1,0 -18.8,0zM231.3,771.2a9.4,9.4 0 1,0 18.8,0a9.4,9.4 0 1,0 -18.8,0zM231.3,768.1a9.4,9.4 0 1,0 18.8,0a9.4,9.4 0 1,0 -18.8,0zM231.3,765.0a9.4,9.4 0 1,0 18.8,0a9.4,9.4 0 1,0 -18.8,0zM231.3,762.0a9.4,9.4 0 1,0 18.8,0a9.4,9.4 0 1,0 -18.8,0zM231.3,758.9a9.4,9.4 0 1,0 18.8,0a9.4,9.4 0 1,0 -18.8,0zM231.3,755.9a9.4,9.4 0 1,0 18.8,0a9.4,9.4 0 1,0 -18.8,0zM231.3,752.8a9.4,9.4 0 1,0 18.8,0a9.4,9.4 0 1,0 -18.8,0zM231.3,749.7a9.4,9.4 0 1,0 18.8,0a9.4,9.4 0 1,0 -18.8,0zM231.3,746.7a9.4,9.4 0 1,0 18.8,0a9.4,9.4 0 1,0 -18.8,0zM231.3,743.6a9.4,9.4 0 1,0 18.8,0a9.4,9.4 0 1,0 -18.8,0zM231.3,740.6a9.4,9.4 0 1,0 18.8,0a9.4,9.4 0 1,0 -18.8,0zM231.3,737.5a9.4,9.4 0 1,0 18.8,0a9.4,9.4 0 1,0 -18.8,0zM231.3,734.4a9.4,9.4 0 1,0 18.8,0a9.4,9.4 0 1,0 -18.8,0zM255.2,772.4a9.4,9.4 0 1,0 18.8,0a9.4,9.4 0 1,0 -18.8,0zM255.2,769.3a9.4,9.4 0 1,0 18.8,0a9.4,9.4 0 1,0 -18.8,0zM255.2,766.1a9.4,9.4 0 1,0 18.8,0a9.4,9.4 0 1,0 -18.8,0zM255.2,763.0a9.4,9.4 0 1,0 18.8,0a9.4,9.4 0 1,0 -18.8,0zM255.2,759.9a9.4,9.4 0 1,0 18.8,0a9.4,9.4 0 1,0 -18.8,0zM255.2,756.7a9.4,9.4 0 1,0 18.8,0a9.4,9.4 0 1,0 -18.8,0zM255.2,753.6a9.4,9.4 0 1,0 18.8,0a9.4,9.4 0 1,0 -18.8,0zM255.2,750.5a9.4,9.4 0 1,0 18.8,0a9.4,9.4 0 1,0 -18.8,0zM255.2,747.3a9.4,9.4 0 1,0 18.8,0a9.4,9.4 0 1,0 -18.8,0zM255.2,744.2a9.4,9.4 0 1,0 18.8,0a9.4,9.4 0 1,0 -18.8,0zM255.2,741.1a9.4,9.4 0 1,0 18.8,0a9.4,9.4 0 1,0 -18.8,0zM255.2,737.9a9.4,9.4 0 1,0 18.8,0a9.4,9.4 0 1,0 -18.8,0zM255.2,734.8a9.4,9.4 0 1,0 18.8,0a9.4,9.4 0 1,0 -18.8,0zM255.2,731.7a9.4,9.4 0 1,0 18.8,0a9.4,9.4 0 1,0 -18.8,0zM255.2,728.5a9.4,9.4 0 1,0 18.8,0a9.4,9.4 0 1,0 -18.8,0zM255.2,725.4a9.4,9.4 0 1,0 18.8,0a9.4,9.4 0 1,0 -18.8,0zM255.2,722.3a9.4,9.4 0 1,0 18.8,0a9.4,9.4 0 1,0 -18.8,0zM255.2,719.1a9.4,9.4 0 1,0 18.8,0a9.4,9.4 0 1,0 -18.8,0zM255.2,716.0a9.4,9.4 0 1,0 18.8,0a9.4,9.4 0 1,0 -18.8,0zM255.2,712.9a9.4,9.4 0 1,0 18.8,0a9.4,9.4 0 1,0 -18.8,0zM255.2,709.7a9.4,9.4 0 1,0 18.8,0a9.4,9.4 0 1,0 -18.8,0zM285.7,752.5a9.4,9.4 0 1,0 18.8,0a9.4,9.4 0 1,0 -18.8,0zM285.7,749.4a9.4,9.4 0 1,0 18.8,0a9.4,9.4 0 1,0 -18.8,0zM285.7,746.4a9.4,9.4 0 1,0 18.8,0a9.4,9.4 0 1,0 -18.8,0zM285.7,743.3a9.4,9.4 0 1,0 18.8,0a9.4,9.4 0 1,0 -18.8,0zM285.7,740.2a9.4,9.4 0 1,0 18.8,0a9.4,9.4 0 1,0 -18.8,0zM285.7,737.1a9.4,9.4 0 1,0 18.8,0a9.4,9.4 0 1,0 -18.8,0zM285.7,734.0a9.4,9.4 0 1,0 18.8,0a9.4,9.4 0 1,0 -18.8,0zM285.7,730.9a9.4,9.4 0 1,0 18.8,0a9.4,9.4 0 1,0 -18.8,0zM285.7,727.8a9.4,9.4 0 1,0 18.8,0a9.4,9.4 0 1,0 -18.8,0zM285.7,724.7a9.4,9.4 0 1,0 18.8,0a9.4,9.4 0 1,0 -18.8,0zM285.7,721.7a9.4,9.4 0 1,0 18.8,0a9.4,9.4 0 1,0 -18.8,0zM285.7,718.6a9.4,9.4 0 1,0 18.8,0a9.4,9.4 0 1,0 -18.8,0zM285.7,715.5a9.4,9.4 0 1,0 18.8,0a9.4,9.4 0 1,0 -18.8,0zM285.7,712.4a9.4,9.4 0 1,0 18.8,0a9.4,9.4 0 1,0 -18.8,0zM285.7,709.3a9.4,9.4 0 1,0 18.8,0a9.4,9.4 0 1,0 -18.8,0zM285.7,706.2a9.4,9.4 0 1,0 18.8,0a9.4,9.4 0 1,0 -18.8,0zM285.7,703.1a9.4,9.4 0 1,0 18.8,0a9.4,9.4 0 1,0 -18.8,0zM285.7,700.0a9.4,9.4 0 1,0 18.8,0a9.4,9.4 0 1,0 -18.8,0zM285.7,696.9a9.4,9.4 0 1,0 18.8,0a9.4,9.4 0 1,0 -18.8,0zM285.7,693.9a9.4,9.4 0 1,0 18.8,0a9.4,9.4 0 1,0 -18.8,0zM285.7,690.8a9.4,9.4 0 1,0 18.8,0a9.4,9.4 0 1,0 -18.8,0zM285.7,687.7a9.4,9.4 0 1,0 18.8,0a9.4,9.4 0 1,0 -18.8,0zM285.7,684.6a9.4,9.4 0 1,0 18.8,0a9.4,9.4 0 1,0 -18.8,0zM285.7,681.5a9.4,9.4 0 1,0 18.8,0a9.4,9.4 0 1,0 -18.8,0zM285.7,678.4a9.4,9.4 0 1,0 18.8,0a9.4,9.4 0 1,0 -18.8,0zM324.5,735.1a9.4,9.4 0 1,0 18.8,0a9.4,9.4 0 1,0 -18.8,0zM324.5,732.0a9.4,9.4 0 1,0 18.8,0a9.4,9.4 0 1,0 -18.8,0zM324.5,729.0a9.4,9.4 0 1,0 18.8,0a9.4,9.4 0 1,0 -18.8,0zM324.5,725.9a9.4,9.4 0 1,0 18.8,0a9.4,9.4 0 1,0 -18.8,0zM324.5,722.8a9.4,9.4 0 1,0 18.8,0a9.4,9.4 0 1,0 -18.8,0zM324.5,719.8a9.4,9.4 0 1,0 18.8,0a9.4,9.4 0 1,0 -18.8,0zM324.5,716.7a9.4,9.4 0 1,0 18.8,0a9.4,9.4 0 1,0 -18.8,0zM324.5,713.7a9.4,9.4 0 1,0 18.8,0a9.4,9.4 0 1,0 -18.8,0zM324.5,710.6a9.4,9.4 0 1,0 18.8,0a9.4,9.4 0 1,0 -18.8,0zM324.5,707.5a9.4,9.4 0 1,0 18.8,0a9.4,9.4 0 1,0 -18.8,0zM324.5,704.5a9.4,9.4 0 1,0 18.8,0a9.4,9.4 0 1,0 -18.8,0zM324.5,701.4a9.4,9.4 0 1,0 18.8,0a9.4,9.4 0 1,0 -18.8,0zM324.5,698.3a9.4,9.4 0 1,0 18.8,0a9.4,9.4 0 1,0 -18.8,0zM324.5,695.3a9.4,9.4 0 1,0 18.8,0a9.4,9.4 0 1,0 -18.8,0zM324.5,692.2a9.4,9.4 0 1,0 18.8,0a9.4,9.4 0 1,0 -18.8,0zM324.5,689.2a9.4,9.4 0 1,0 18.8,0a9.4,9.4 0 1,0 -18.8,0zM324.5,686.1a9.4,9.4 0 1,0 18.8,0a9.4,9.4 0 1,0 -18.8,0zM324.5,683.0a9.4,9.4 0 1,0 18.8,0a9.4,9.4 0 1,0 -18.8,0zM324.5,680.0a9.4,9.4 0 1,0 18.8,0a9.4,9.4 0 1,0 -18.8,0zM324.5,676.9a9.4,9.4 0 1,0 18.8,0a9.4,9.4 0 1,0 -18.8,0zM324.5,673.9a9.4,9.4 0 1,0 18.8,0a9.4,9.4 0 1,0 -18.8,0zM324.5,670.8a9.4,9.4 0 1,0 18.8,0a9.4,9.4 0 1,0 -18.8,0zM324.5,667.7a9.4,9.4 0 1,0 18.8,0a9.4,9.4 0 1,0 -18.8,0zM324.5,664.7a9.4,9.4 0 1,0 18.8,0a9.4,9.4 0 1,0 -18.8,0zM324.5,661.6a9.4,9.4 0 1,0 18.8,0a9.4,9.4 0 1,0 -18.8,0zM324.5,640.0a9.4,9.4 0 1,0 18.8,0a9.4,9.4 0 1,0 -18.8,0zM374.0,711.4a9.4,9.4 0 1,0 18.8,0a9.4,9.4 0 1,0 -18.8,0zM374.0,708.3a9.4,9.4 0 1,0 18.8,0a9.4,9.4 0 1,0 -18.8,0zM374.0,705.3a9.4,9.4 0 1,0 18.8,0a9.4,9.4 0 1,0 -18.8,0zM374.0,702.3a9.4,9.4 0 1,0 18.8,0a9.4,9.4 0 1,0 -18.8,0zM374.0,699.3a9.4,9.4 0 1,0 18.8,0a9.4,9.4 0 1,0 -18.8,0zM374.0,696.2a9.4,9.4 0 1,0 18.8,0a9.4,9.4 0 1,0 -18.8,0zM374.0,693.2a9.4,9.4 0 1,0 18.8,0a9.4,9.4 0 1,0 -18.8,0zM374.0,690.2a9.4,9.4 0 1,0 18.8,0a9.4,9.4 0 1,0 -18.8,0zM374.0,687.2a9.4,9.4 0 1,0 18.8,0a9.4,9.4 0 1,0 -18.8,0zM374.0,684.1a9.4,9.4 0 1,0 18.8,0a9.4,9.4 0 1,0 -18.8,0zM374.0,681.1a9.4,9.4 0 1,0 18.8,0a9.4,9.4 0 1,0 -18.8,0zM374.0,678.1a9.4,9.4 0 1,0 18.8,0a9.4,9.4 0 1,0 -18.8,0zM374.0,675.1a9.4,9.4 0 1,0 18.8,0a9.4,9.4 0 1,0 -18.8,0zM374.0,672.0a9.4,9.4 0 1,0 18.8,0a9.4,9.4 0 1,0 -18.8,0zM374.0,669.0a9.4,9.4 0 1,0 18.8,0a9.4,9.4 0 1,0 -18.8,0zM374.0,666.0a9.4,9.4 0 1,0 18.8,0a9.4,9.4 0 1,0 -18.8,0zM374.0,663.0a9.4,9.4 0 1,0 18.8,0a9.4,9.4 0 1,0 -18.8,0zM374.0,660.0a9.4,9.4 0 1,0 18.8,0a9.4,9.4 0 1,0 -18.8,0zM374.0,656.9a9.4,9.4 0 1,0 18.8,0a9.4,9.4 0 1,0 -18.8,0zM374.0,638.4a9.4,9.4 0 1,0 18.8,0a9.4,9.4 0 1,0 -18.8,0zM374.0,616.2a9.4,9.4 0 1,0 18.8,0a9.4,9.4 0 1,0 -18.8,0zM374.0,590.7a9.4,9.4 0 1,0 18.8,0a9.4,9.4 0 1,0 -18.8,0zM437.0,679.1a9.4,9.4 0 1,0 18.8,0a9.4,9.4 0 1,0 -18.8,0zM437.0,676.0a9.4,9.4 0 1,0 18.8,0a9.4,9.4 0 1,0 -18.8,0zM437.0,672.9a9.4,9.4 0 1,0 18.8,0a9.4,9.4 0 1,0 -18.8,0zM437.0,669.9a9.4,9.4 0 1,0 18.8,0a9.4,9.4 0 1,0 -18.8,0zM437.0,666.8a9.4,9.4 0 1,0 18.8,0a9.4,9.4 0 1,0 -18.8,0zM437.0,663.8a9.4,9.4 0 1,0 18.8,0a9.4,9.4 0 1,0 -18.8,0zM437.0,660.7a9.4,9.4 0 1,0 18.8,0a9.4,9.4 0 1,0 -18.8,0zM437.0,657.7a9.4,9.4 0 1,0 18.8,0a9.4,9.4 0 1,0 -18.8,0zM437.0,654.6a9.4,9.4 0 1,0 18.8,0a9.4,9.4 0 1,0 -18.8,0zM437.0,651.6a9.4,9.4 0 1,0 18.8,0a9.4,9.4 0 1,0 -18.8,0zM437.0,648.5a9.4,9.4 0 1,0 18.8,0a9.4,9.4 0 1,0 -18.8,0zM437.0,645.5a9.4,9.4 0 1,0 18.8,0a9.4,9.4 0 1,0 -18.8,0zM437.0,642.4a9.4,9.4 0 1,0 18.8,0a9.4,9.4 0 1,0 -18.8,0zM437.0,639.4a9.4,9.4 0 1,0 18.8,0a9.4,9.4 0 1,0 -18.8,0zM437.0,636.3a9.4,9.4 0 1,0 18.8,0a9.4,9.4 0 1,0 -18.8,0zM437.0,633.2a9.4,9.4 0 1,0 18.8,0a9.4,9.4 0 1,0 -18.8,0zM437.0,630.2a9.4,9.4 0 1,0 18.8,0a9.4,9.4 0 1,0 -18.8,0zM437.0,627.1a9.4,9.4 0 1,0 18.8,0a9.4,9.4 0 1,0 -18.8,0zM437.0,624.1a9.4,9.4 0 1,0 18.8,0a9.4,9.4 0 1,0 -18.8,0zM437.0,621.0a9.4,9.4 0 1,0 18.8,0a9.4,9.4 0 1,0 -18.8,0zM437.0,618.0a9.4,9.4 0 1,0 18.8,0a9.4,9.4 0 1,0 -18.8,0zM437.0,614.9a9.4,9.4 0 1,0 18.8,0a9.4,9.4 0 1,0 -18.8,0zM437.0,611.9a9.4,9.4 0 1,0 18.8,0a9.4,9.4 0 1,0 -18.8,0zM437.0,588.3a9.4,9.4 0 1,0 18.8,0a9.4,9.4 0 1,0 -18.8,0zM437.0,562.5a9.4,9.4 0 1,0 18.8,0a9.4,9.4 0 1,0 -18.8,0zM437.0,528.5a9.4,9.4 0 1,0 18.8,0a9.4,9.4 0 1,0 -18.8,0z"/>
<line x1="136.03199999999998" y1="846.69" x2="463.96799999999996" y2="665.8100000000001" stroke="#000" stroke-width="2.6"/>
</g>
<g clip-path="url(#clip4)">
<path fill="#440154" d="M629.9,835.4a9.4,9.4 0 1,0 18.8,0a9.4,9.4 0 1,0 -18.8,0zM630.7,834.9a9.4,9.4 0 1,0 18.8,0a9.4,9.4 0 1,0 -18.8,0zM631.8,834.2a9.4,9.4 0 1,0 18.8,0a9.4,9.4 0 1,0 -18.8,0zM633.1,833.3a9.4,9.4 0 1,0 18.8,0a9.4,9.4 0 1,0 -18.8,0zM634.7,832.1a9.4,9.4 0 1,0 18.8,0a9.4,9.4 0 1,0 -18.8,0zM636.8,830.6a9.4,9.4 0 1,0 18.8,0a9.4,9.4 0 1,0 -18.8,0zM639.5,828.8a9.4,9.4 0 1,0 18.8,0a9.4,9.4 0 1,0 -18.8,0zM643.0,826.4a9.4,9.4 0 1,0 18.8,0a9.4,9.4 0 1,0 -18.8,0zM647.4,823.4a9.4,9.4 0 1,0 18.8,0a9.4,9.4 0 1,0 -18.8,0zM652.9,819.5a9.4,9.4 0 1,0 18.8,0a9.4,9.4 0 1,0 -18.8,0zM660.1,814.6a9.4,9.4 0 1,0 18.8,0a9.4,9.4 0 1,0 -18.8,0zM669.1,808.3a9.4,9.4 0 1,0 18.8,0a9.4,9.4 0 1,0 -18.8,0zM680.7,800.4a9.4,9.4 0 1,0 18.8,0a9.4,9.4 0 1,0 -18.8,0zM680.7,798.3a9.4,9.4 0 1,0 18.8,0a9.4,9.4 0 1,0 -18.8,0zM695.4,790.2a9.4,9.4 0 1,0 18.8,0a9.4,9.4 0 1,0 -18.8,0zM695.4,787.7a9.4,9.4 0 1,0 18.8,0a9.4,9.4 0 1,0 -18.8,0zM714.1,778.5a9.4,9.4 0 1,0 18.8,0a9.4,9.4 0 1,0 -18.8,0zM714.1,775.7a9.4,9.4 0 1,0 18.8,0a9.4,9.4 0 1,0 -18.8,0zM738.0,761.2a9.4,9.4 0 1,0 18.8,0a9.4,9.4 0 1,0 -18.8,0zM738.0,759.2a9.4,9.4 0 1,0 18.8,0a9.4,9.4 0 1,0 -18.8,0zM738.0,757.2a9.4,9.4 0 1,0 18.8,0a9.4,9.4 0 1,0 -18.8,0zM768.5,741.9a9.4,9.4 0 1,0 18.8,0a9.4,9.4 0 1,0 -18.8,0zM768.5,739.4a9.4,9.4 0 1,0 18.8,0a9.4,9.4 0 1,0 -18.8,0zM768.5,736.9a9.4,9.4 0 1,0 18.8,0a9.4,9.4 0 1,0 -18.8,0zM807.3,716.0a9.4,9.4 0 1,0 18.8,0a9.4,9.4 0 1,0 -18.8,0zM807.3,713.8a9.4,9.4 0 1,0 18.8,0a9.4,9.4 0 1,0 -18.8,0zM807.3,711.6a9.4,9.4 0 1,0 18.8,0a9.4,9.4 0 1,0 -18.8,0zM807.3,709.4a9.4,9.4 0 1,0 18.8,0a9.4,9.4 0 1,0 -18.8,0zM856.8,685.5a9.4,9.4 0 1,0 18.8,0a9.4,9.4 0 1,0 -18.8,0zM856.8,683.1a9.4,9.4 0 1,0 18.8,0a9.4,9.4 0 1,0 -18.8,0zM856.8,680.7a9.4,9.4 0 1,0 18.8,0a9.4,9.4 0 1,0 -18.8,0zM856.8,678.4a9.4,9.4 0 1,0 18.8,0a9.4,9.4 0 1,0 -18.8,0zM856.8,676.0a9.4,9.4 0 1,0 18.8,0a9.4,9.4 0 1,0 -18.8,0zM919.8,641.8a9.4,9.4 0 1,0 18.8,0a9.4,9.4 0 1,0 -18.8,0zM919.8,639.7a9.4,9.4 0 1,0 18.8,0a9.4,9.4 0 1,0 -18.8,0zM919.8,637.6a9.4,9.4 0 1,0 18.8,0a9.4,9.4 0 1,0 -18.8,0zM919.8,635.5a9.4,9.4 0 1,0 18.8,0a9.4,9.4 0 1,0 -18.8,0zM919.8,633.5a9.4,9.4 0 1,0 18.8,0a9.4,9.4 0 1,0 -18.8,0zM919.8,631.4a9.4,9.4 0 1,0 18.8,0a9.4,9.4 0 1,0 -18.8,0zM919.8,629.3a9.4,9.4 0 1,0 18.8,0a9.4,9.4 0 1,0 -18.8,0z"/>
<path fill="#3b528b" d="M629.9,833.4a9.4,9.4 0 1,0 18.8,0a9.4,9.4 0 1,0 -18.8,0zM630.7,832.8a9.4,9.4 0 1,0 18.8,0a9.4,9.4 0 1,0 -18.8,0zM631.8,832.0a9.4,9.4 0 1,0 18.8,0a9.4,9.4 0 1,0 -18.8,0zM633.1,831.1a9.4,9.4 0 1,0 18.8,0a9.4,9.4 0 1,0 -18.8,0zM634.7,829.9a9.4,9.4 0 1,0 18.8,0a9.4,9.4 0 1,0 -18.8,0zM636.8,828.3a9.4,9.4 0 1,0 18.8,0a9.4,9.4 0 1,0 -18.8,0zM639.5,826.3a9.4,9.4 0 1,0 18.8,0a9.4,9.4 0 1,0 -18.8,0zM643.0,823.8a9.4,9.4 0 1,0 18.8,0a9.4,9.4 0 1,0 -18.8,0zM647.4,820.6a9.4,9.4 0 1,0 18.8,0a9.4,9.4 0 1,0 -18.8,0zM652.9,816.5a9.4,9.4 0 1,0 18.8,0a9.4,9.4 0 1,0 -18.8,0zM660.1,811.3a9.4,9.4 0 1,0 18.8,0a9.4,9.4 0 1,0 -18.8,0zM669.1,804.7a9.4,9.4 0 1,0 18.8,0a9.4,9.4 0 1,0 -18.8,0zM680.7,796.3a9.4,9.4 0 1,0 18.8,0a9.4,9.4 0 1,0 -18.8,0zM695.4,785.1a9.4,9.4 0 1,0 18.8,0a9.4,9.4 0 1,0 -18.8,0zM695.4,783.0a9.4,9.4 0 1,0 18.8,0a9.4,9.4 0 1,0 -18.8,0zM714.1,773.0a9.4,9.4 0 1,0 18.8,0a9.4,9.4 0 1,0 -18.8,0zM714.1,770.6a9.4,9.4 0 1,0 18.8,0a9.4,9.4 0 1,0 -18.8,0zM738.0,755.2a9.4,9.4 0 1,0 18.8,0a9.4,9.4 0 1,0 -18.8,0zM738.0,752.6a9.4,9.4 0 1,0 18.8,0a9.4,9.4 0 1,0 -18.8,0zM768.5,734.4a9.4,9.4 0 1,0 18.8,0a9.4,9.4 0 1,0 -18.8,0zM768.5,732.2a9.4,9.4 0 1,0 18.8,0a9.4,9.4 0 1,0 -18.8,0zM768.5,730.0a9.4,9.4 0 1,0 18.8,0a9.4,9.4 0 1,0 -18.8,0zM807.3,707.2a9.4,9.4 0 1,0 18.8,0a9.4,9.4 0 1,0 -18.8,0zM807.3,704.7a9.4,9.4 0 1,0 18.8,0a9.4,9.4 0 1,0 -18.8,0zM807.3,702.1a9.4,9.4 0 1,0 18.8,0a9.4,9.4 0 1,0 -18.8,0zM856.8,673.6a9.4,9.4 0 1,0 18.8,0a9.4,9.4 0 1,0 -18.8,0zM856.8,671.6a9.4,9.4 0 1,0 18.8,0a9.4,9.4 0 1,0 -18.8,0zM856.8,669.5a9.4,9.4 0 1,0 18.8,0a9.4,9.4 0 1,0 -18.8,0zM856.8,667.5a9.4,9.4 0 1,0 18.8,0a9.4,9.4 0 1,0 -18.8,0zM856.8,665.4a9.4,9.4 0 1,0 18.8,0a9.4,9.4 0 1,0 -18.8,0zM919.8,627.2a9.4,9.4 0 1,0 18.8,0a9.4,9.4 0 1,0 -18.8,0zM919.8,625.1a9.4,9.4 0 1,0 18.8,0a9.4,9.4 0 1,0 -18.8,0zM919.8,623.0a9.4,9.4 0 1,0 18.8,0a9.4,9.4 0 1,0 -18.8,0zM919.8,621.0a9.4,9.4 0 1,0 18.8,0a9.4,9.4 0 1,0 -18.8,0zM919.8,618.9a9.4,9.4 0 1,0 18.8,0a9.4,9.4 0 1,0 -18.8,0zM919.8,616.8a9.4,9.4 0 1,0 18.8,0a9.4,9.4 0 1,0 -18.8,0z"/>
<path fill="#21918c" d="M629.9,831.6a9.4,9.4 0 1,0 18.8,0a9.4,9.4 0 1,0 -18.8,0zM630.7,831.0a9.4,9.4 0 1,0 18.8,0a9.4,9.4 0 1,0 -18.8,0zM631.8,830.2a9.4,9.4 0 1,0 18.8,0a9.4,9.4 0 1,0 -18.8,0zM633.1,829.2a9.4,9.4 0 1,0 18.8,0a9.4,9.4 0 1,0 -18.8,0zM634.7,828.0a9.4,9.4 0 1,0 18.8,0a9.4,9.4 0 1,0 -18.8,0zM636.8,826.3a9.4,9.4 0 1,0 18.8,0a9.4,9.4 0 1,0 -18.8,0zM639.5,824.3a9.4,9.4 0 1,0 18.8,0a9.4,9.4 0 1,0 -18.8,0zM643.0,821.6a9.4,9.4 0 1,0 18.8,0a9.4,9.4 0 1,0 -18.8,0zM647.4,818.3a9.4,9.4 0 1,0 18.8,0a9.4,9.4 0 1,0 -18.8,0zM652.9,814.0a9.4,9.4 0 1,0 18.8,0a9.4,9.4 0 1,0 -18.8,0zM660.1,808.5a9.4,9.4 0 1,0 18.8,0a9.4,9.4 0 1,0 -18.8,0zM669.1,801.6a9.4,9.4 0 1,0 18.8,0a9.4,9.4 0 1,0 -18.8,0zM680.7,792.8a9.4,9.4 0 1,0 18.8,0a9.4,9.4 0 1,0 -18.8,0zM695.4,780.8a9.4,9.4 0 1,0 18.8,0a9.4,9.4 0 1,0 -18.8,0zM714.1,768.3a9.4,9.4 0 1,0 18.8,0a9.4,9.4 0 1,0 -18.8,0zM738.0,750.0a9.4,9.4 0 1,0 18.8,0a9.4,9.4 0 1,0 -18.8,0zM738.0,747.8a9.4,9.4 0 1,0 18.8,0a9.4,9.4 0 1,0 -18.8,0zM768.5,727.9a9.4,9.4 0 1,0 18.8,0a9.4,9.4 0 1,0 -18.8,0zM768.5,725.2a9.4,9.4 0 1,0 18.8,0a9.4,9.4 0 1,0 -18.8,0zM807.3,699.6a9.4,9.4 0 1,0 18.8,0a9.4,9.4 0 1,0 -18.8,0zM807.3,697.5a9.4,9.4 0 1,0 18.8,0a9.4,9.4 0 1,0 -18.8,0zM807.3,695.4a9.4,9.4 0 1,0 18.8,0a9.4,9.4 0 1,0 -18.8,0zM856.8,663.4a9.4,9.4 0 1,0 18.8,0a9.4,9.4 0 1,0 -18.8,0zM856.8,661.3a9.4,9.4 0 1,0 18.8,0a9.4,9.4 0 1,0 -18.8,0zM856.8,659.1a9.4,9.4 0 1,0 18.8,0a9.4,9.4 0 1,0 -18.8,0zM856.8,657.0a9.4,9.4 0 1,0 18.8,0a9.4,9.4 0 1,0 -18.8,0zM919.8,614.7a9.4,9.4 0 1,0 18.8,0a9.4,9.4 0 1,0 -18.8,0zM919.8,612.6a9.4,9.4 0 1,0 18.8,0a9.4,9.4 0 1,0 -18.8,0zM919.8,610.5a9.4,9.4 0 1,0 18.8,0a9.4,9.4 0 1,0 -18.8,0zM919.8,608.5a9.4,9.4 0 1,0 18.8,0a9.4,9.4 0 1,0 -18.8,0zM919.8,606.4a9.4,9.4 0 1,0 18.8,0a9.4,9.4 0 1,0 -18.8,0z"/>
<path fill="#5ec962" d="M629.9,830.2a9.4,9.4 0 1,0 18.8,0a9.4,9.4 0 1,0 -18.8,0zM630.7,829.5a9.4,9.4 0 1,0 18.8,0a9.4,9.4 0 1,0 -18.8,0zM631.8,828.7a9.4,9.4 0 1,0 18.8,0a9.4,9.4 0 1,0 -18.8,0zM633.1,827.7a9.4,9.4 0 1,0 18.8,0a9.4,9.4 0 1,0 -18.8,0zM634.7,826.4a9.4,9.4 0 1,0 18.8,0a9.4,9.4 0 1,0 -18.8,0zM636.8,824.7a9.4,9.4 0 1,0 18.8,0a9.4,9.4 0 1,0 -18.8,0zM639.5,822.5a9.4,9.4 0 1,0 18.8,0a9.4,9.4 0 1,0 -18.8,0zM643.0,819.8a9.4,9.4 0 1,0 18.8,0a9.4,9.4 0 1,0 -18.8,0zM647.4,816.3a9.4,9.4 0 1,0 18.8,0a9.4,9.4 0 1,0 -18.8,0zM652.9,811.9a9.4,9.4 0 1,0 18.8,0a9.4,9.4 0 1,0 -18.8,0zM660.1,806.2a9.4,9.4 0 1,0 18.8,0a9.4,9.4 0 1,0 -18.8,0zM669.1,799.0a9.4,9.4 0 1,0 18.8,0a9.4,9.4 0 1,0 -18.8,0zM680.7,789.8a9.4,9.4 0 1,0 18.8,0a9.4,9.4 0 1,0 -18.8,0zM695.4,777.2a9.4,9.4 0 1,0 18.8,0a9.4,9.4 0 1,0 -18.8,0zM714.1,764.3a9.4,9.4 0 1,0 18.8,0a9.4,9.4 0 1,0 -18.8,0zM738.0,745.7a9.4,9.4 0 1,0 18.8,0a9.4,9.4 0 1,0 -18.8,0zM768.5,722.5a9.4,9.4 0 1,0 18.8,0a9.4,9.4 0 1,0 -18.8,0zM807.3,693.3a9.4,9.4 0 1,0 18.8,0a9.4,9.4 0 1,0 -18.8,0zM856.8,654.9a9.4,9.4 0 1,0 18.8,0a9.4,9.4 0 1,0 -18.8,0zM919.8,604.3a9.4,9.4 0 1,0 18.8,0a9.4,9.4 0 1,0 -18.8,0zM919.8,602.2a9.4,9.4 0 1,0 18.8,0a9.4,9.4 0 1,0 -18.8,0z"/>
<path fill="#fde725" d="M629.9,829.6a9.4,9.4 0 1,0 18.8,0a9.4,9.4 0 1,0 -18.8,0zM629.9,826.5a9.4,9.4 0 1,0 18.8,0a9.4,9.4 0 1,0 -18.8,0zM629.9,823.5a9.4,9.4 0 1,0 18.8,0a9.4,9.4 0 1,0 -18.8,0zM630.7,828.9a9.4,9.4 0 1,0 18.8,0a9.4,9.4 0 1,0 -18.8,0zM630.7,825.7a9.4,9.4 0 1,0 18.8,0a9.4,9.4 0 1,0 -18.8,0zM630.7,822.5a9.4,9.4 0 1,0 18.8,0a9.4,9.4 0 1,0 -18.8,0zM631.8,828.1a9.4,9.4 0 1,0 18.8,0a9.4,9.4 0 1,0 -18.8,0zM631.8,824.7a9.4,9.4 0 1,0 18.8,0a9.4,9.4 0 1,0 -18.8,0zM631.8,821.3a9.4,9.4 0 1,0 18.8,0a9.4,9.4 0 1,0 -18.8,0zM633.1,827.1a9.4,9.4 0 1,0 18.8,0a9.4,9.4 0 1,0 -18.8,0zM633.1,823.4a9.4,9.4 0 1,0 18.8,0a9.4,9.4 0 1,0 -18.8,0zM633.1,819.7a9.4,9.4 0 1,0 18.8,0a9.4,9.4 0 1,0 -18.8,0zM634.7,825.7a9.4,9.4 0 1,0 18.8,0a9.4,9.4 0 1,0 -18.8,0zM634.7,821.7a9.4,9.4 0 1,0 18.8,0a9.4,9.4 0 1,0 -18.8,0zM634.7,817.7a9.4,9.4 0 1,0 18.8,0a9.4,9.4 0 1,0 -18.8,0zM636.8,824.0a9.4,9.4 0 1,0 18.8,0a9.4,9.4 0 1,0 -18.8,0zM636.8,819.6a9.4,9.4 0 1,0 18.8,0a9.4,9.4 0 1,0 -18.8,0zM636.8,815.2a9.4,9.4 0 1,0 18.8,0a9.4,9.4 0 1,0 -18.8,0zM639.5,821.8a9.4,9.4 0 1,0 18.8,0a9.4,9.4 0 1,0 -18.8,0zM639.5,818.5a9.4,9.4 0 1,0 18.8,0a9.4,9.4 0 1,0 -18.8,0zM639.5,815.3a9.4,9.4 0 1,0 18.8,0a9.4,9.4 0 1,0 -18.8,0zM639.5,812.0a9.4,9.4 0 1,0 18.8,0a9.4,9.4 0 1,0 -18.8,0zM643.0,819.1a9.4,9.4 0 1,0 18.8,0a9.4,9.4 0 1,0 -18.8,0zM643.0,815.3a9.4,9.4 0 1,0 18.8,0a9.4,9.4 0 1,0 -18.8,0zM643.0,811.6a9.4,9.4 0 1,0 18.8,0a9.4,9.4 0 1,0 -18.8,0zM643.0,807.9a9.4,9.4 0 1,0 18.8,0a9.4,9.4 0 1,0 -18.8,0zM647.4,815.5a9.4,9.4 0 1,0 18.8,0a9.4,9.4 0 1,0 -18.8,0zM647.4,812.3a9.4,9.4 0 1,0 18.8,0a9.4,9.4 0 1,0 -18.8,0zM647.4,809.1a9.4,9.4 0 1,0 18.8,0a9.4,9.4 0 1,0 -18.8,0zM647.4,805.8a9.4,9.4 0 1,0 18.8,0a9.4,9.4 0 1,0 -18.8,0zM647.4,802.6a9.4,9.4 0 1,0 18.8,0a9.4,9.4 0 1,0 -18.8,0zM652.9,811.0a9.4,9.4 0 1,0 18.8,0a9.4,9.4 0 1,0 -18.8,0zM652.9,808.0a9.4,9.4 0 1,0 18.8,0a9.4,9.4 0 1,0 -18.8,0zM652.9,805.0a9.4,9.4 0 1,0 18.8,0a9.4,9.4 0 1,0 -18.8,0zM652.9,802.0a9.4,9.4 0 1,0 18.8,0a9.4,9.4 0 1,0 -18.8,0zM652.9,798.9a9.4,9.4 0 1,0 18.8,0a9.4,9.4 0 1,0 -18.8,0zM652.9,795.9a9.4,9.4 0 1,0 18.8,0a9.4,9.4 0 1,0 -18.8,0zM660.1,805.3a9.4,9.4 0 1,0 18.8,0a9.4,9.4 0 1,0 -18.8,0zM660.1,801.7a9.4,9.4 0 1,0 18.8,0a9.4,9.4 0 1,0 -18.8,0zM660.1,798.1a9.4,9.4 0 1,0 18.8,0a9.4,9.4 0 1,0 -18.8,0zM660.1,794.6a9.4,9.4 0 1,0 18.8,0a9.4,9.4 0 1,0 -18.8,0zM660.1,791.0a9.4,9.4 0 1,0 18.8,0a9.4,9.4 0 1,0 -18.8,0zM660.1,787.4a9.4,9.4 0 1,0 18.8,0a9.4,9.4 0 1,0 -18.8,0zM669.1,798.0a9.4,9.4 0 1,0 18.8,0a9.4,9.4 0 1,0 -18.8,0zM669.1,794.8a9.4,9.4 0 1,0 18.8,0a9.4,9.4 0 1,0 -18.8,0zM669.1,791.6a9.4,9.4 0 1,0 18.8,0a9.4,9.4 0 1,0 -18.8,0zM669.1,788.4a9.4,9.4 0 1,0 18.8,0a9.4,9.4 0 1,0 -18.8,0zM669.1,785.2a9.4,9.4 0 1,0 18.8,0a9.4,9.4 0 1,0 -18.8,0zM669.1,781.9a9.4,9.4 0 1,0 18.8,0a9.4,9.4 0 1,0 -18.8,0zM669.1,778.7a9.4,9.4 0 1,0 18.8,0a9.4,9.4 0 1,0 -18.8,0zM680.7,788.7a9.4,9.4 0 1,0 18.8,0a9.4,9.4 0 1,0 -18.8,0zM680.7,785.6a9.4,9.4 0 1,0 18.8,0a9.4,9.4 0 1,0 -18.8,0zM680.7,782.5a9.4,9.4 0 1,0 18.8,0a9.4,9.4 0 1,0 -18.8,0zM680.7,779.4a9.4,9.4 0 1,0 18.8,0a9.4,9.4 0 1,0 -18.8,0zM680.7,776.3a9.4,9.4 0 1,0 18.8,0a9.4,9.4 0 1,0 -18.8,0zM680.7,773.2a9.4,9.4 0 1,0 18.8,0a9.4,9.4 0 1,0 -18.8,0zM680.7,770.2a9.4,9.4 0 1,0 18.8,0a9.4,9.4 0 1,0 -18.8,0zM680.7,767.1a9.4,9.4 0 1,0 18.8,0a9.4,9.4 0 1,0 -18.8,0zM695.4,775.7a9.4,9.4 0 1,0 18.8,0a9.4,9.4 0 1,0 -18.8,0zM695.4,772.3a9.4,9.4 0 1,0 18.8,0a9.4,9.4 0 1,0 -18.8,0zM695.4,769.0a9.4,9.4 0 1,0 18.8,0a9.4,9.4 0 1,0 -18.8,0zM695.4,765.6a9.4,9.4 0 1,0 18.8,0a9.4,9.4 0 1,0 -18.8,0zM695.4,762.2a9.4,9.4 0 1,0 18.8,0a9.4,9.4 0 1,0 -18.8,0zM695.4,758.8a9.4,9.4 0 1,0 18.8,0a9.4,9.4 0 1,0 -18.8,0zM695.4,755.5a9.4,9.4 0 1,0 18.8,0a9.4,9.4 0 1,0 -18.8,0zM695.4,752.1a9.4,9.4 0 1,0 18.8,0a9.4,9.4 0 1,0 -18.8,0zM714.1,762.7a9.4,9.4 0 1,0 18.8,0a9.4,9.4 0 1,0 -18.8,0zM714.1,759.7a9.4,9.4 0 1,0 18.8,0a9.4,9.4 0 1,0 -18.8,0zM714.1,756.7a9.4,9.4 0 1,0 18.8,0a9.4,9.4 0 1,0 -18.8,0zM714.1,753.7a9.4,9.4 0 1,0 18.8,0a9.4,9.4 0 1,0 -18.8,0zM714.1,750.6a9.4,9.4 0 1,0 18.8,0a9.4,9.4 0 1,0 -18.8,0zM714.1,747.6a9.4,9.4 0 1,0 18.8,0a9.4,9.4 0 1,0 -18.8,0zM714.1,744.6a9.4,9.4 0 1,0 18.8,0a9.4,9.4 0 1,0 -18.8,0zM714.1,741.6a9.4,9.4 0 1,0 18.8,0a9.4,9.4 0 1,0 -18.8,0zM714.1,738.5a9.4,9.4 0 1,0 18.8,0a9.4,9.4 0 1,0 -18.8,0zM714.1,735.5a9.4,9.4 0 1,0 18.8,0a9.4,9.4 0 1,0 -18.8,0zM714.1,732.5a9.4,9.4 0 1,0 18.8,0a9.4,9.4 0 1,0 -18.8,0zM738.0,744.0a9.4,9.4 0 1,0 18.8,0a9.4,9.4 0 1,0 -18.8,0zM738.0,740.8a9.4,9.4 0 1,0 18.8,0a9.4,9.4 0 1,0 -18.8,0zM738.0,737.7a9.4,9.4 0 1,0 18.8,0a9.4,9.4 0 1,0 -18.8,0zM738.0,734.5a9.4,9.4 0 1,0 18.8,0a9.4,9.4 0 1,0 -18.8,0zM738.0,731.4a9.4,9.4 0 1,0 18.8,0a9.4,9.4 0 1,0 -18.8,0zM738.0,728.2a9.4,9.4 0 1,0 18.8,0a9.4,9.4 0 1,0 -18.8,0zM738.0,725.1a9.4,9.4 0 1,0 18.8,0a9.4,9.4 0 1,0 -18.8,0zM738.0,722.0a9.4,9.4 0 1,0 18.8,0a9.4,9.4 0 1,0 -18.8,0zM738.0,718.8a9.4,9.4 0 1,0 18.8,0a9.4,9.4 0 1,0 -18.8,0zM738.0,715.7a9.4,9.4 0 1,0 18.8,0a9.4,9.4 0 1,0 -18.8,0zM738.0,712.5a9.4,9.4 0 1,0 18.8,0a9.4,9.4 0 1,0 -18.8,0zM738.0,709.4a9.4,9.4 0 1,0 18.8,0a9.4,9.4 0 1,0 -18.8,0zM768.5,720.3a9.4,9.4 0 1,0 18.8,0a9.4,9.4 0 1,0 -18.8,0zM768.5,717.3a9.4,9.4 0 1,0 18.8,0a9.4,9.4 0 1,0 -18.8,0zM768.5,714.3a9.4,9.4 0 1,0 18.8,0a9.4,9.4 0 1,0 -18.8,0zM768.5,711.3a9.4,9.4 0 1,0 18.8,0a9.4,9.4 0 1,0 -18.8,0zM768.5,708.3a9.4,9.4 0 1,0 18.8,0a9.4,9.4 0 1,0 -18.8,0zM768.5,705.3a9.4,9.4 0 1,0 18.8,0a9.4,9.4 0 1,0 -18.8,0zM768.5,702.2a9.4,9.4 0 1,0 18.8,0a9.4,9.4 0 1,0 -18.8,0zM768.5,699.2a9.4,9.4 0 1,0 18.8,0a9.4,9.4 0 1,0 -18.8,0zM768.5,696.2a9.4,9.4 0 1,0 18.8,0a9.4,9.4 0 1,0 -18.8,0zM768.5,693.2a9.4,9.4 0 1,0 18.8,0a9.4,9.4 0 1,0 -18.8,0zM768.5,690.2a9.4,9.4 0 1,0 18.8,0a9.4,9.4 0 1,0 -18.8,0zM768.5,687.2a9.4,9.4 0 1,0 18.8,0a9.4,9.4 0 1,0 -18.8,0zM768.5,684.2a9.4,9.4 0 1,0 18.8,0a9.4,9.4 0 1,0 -18.8,0zM768.5,681.1a9.4,9.4 0 1,0 18.8,0a9.4,9.4 0 1,0 -18.8,0zM768.5,678.1a9.4,9.4 0 1,0 18.8,0a9.4,9.4 0 1,0 -18.8,0zM807.3,690.8a9.4,9.4 0 1,0 18.8,0a9.4,9.4 0 1,0 -18.8,0zM807.3,687.8a9.4,9.4 0 1,0 18.8,0a9.4,9.4 0 1,0 -18.8,0zM807.3,684.7a9.4,9.4 0 1,0 18.8,0a9.4,9.4 0 1,0 -18.8,0zM807.3,681.7a9.4,9.4 0 1,0 18.8,0a9.4,9.4 0 1,0 -18.8,0zM807.3,678.6a9.4,9.4 0 1,0 18.8,0a9.4,9.4 0 1,0 -18.8,0zM807.3,675.6a9.4,9.4 0 1,0 18.8,0a9.4,9.4 0 1,0 -18.8,0zM807.3,672.5a9.4,9.4 0 1,0 18.8,0a9.4,9.4 0 1,0 -18.8,0zM807.3,669.5a9.4,9.4 0 1,0 18.8,0a9.4,9.4 0 1,0 -18.8,0zM807.3,666.4a9.4,9.4 0 1,0 18.8,0a9.4,9.4 0 1,0 -18.8,0zM807.3,663.4a9.4,9.4 0 1,0 18.8,0a9.4,9.4 0 1,0 -18.8,0zM807.3,660.3a9.4,9.4 0 1,0 18.8,0a9.4,9.4 0 1,0 -18.8,0zM807.3,657.3a9.4,9.4 0 1,0 18.8,0a9.4,9.4 0 1,0 -18.8,0zM807.3,654.2a9.4,9.4 0 1,0 18.8,0a9.4,9.4 0 1,0 -18.8,0zM807.3,651.2a9.4,9.4 0 1,0 18.8,0a9.4,9.4 0 1,0 -18.8,0zM807.3,648.1a9.4,9.4 0 1,0 18.8,0a9.4,9.4 0 1,0 -18.8,0zM807.3,645.1a9.4,9.4 0 1,0 18.8,0a9.4,9.4 0 1,0 -18.8,0zM807.3,642.0a9.4,9.4 0 1,0 18.8,0a9.4,9.4 0 1,0 -18.8,0zM807.3,639.0a9.4,9.4 0 1,0 18.8,0a9.4,9.4 0 1,0 -18.8,0zM856.8,651.5a9.4,9.4 0 1,0 18.8,0a9.4,9.4 0 1,0 -18.8,0zM856.8,648.4a9.4,9.4 0 1,0 18.8,0a9.4,9.4 0 1,0 -18.8,0zM856.8,645.3a9.4,9.4 0 1,0 18.8,0a9.4,9.4 0 1,0 -18.8,0zM856.8,642.2a9.4,9.4 0 1,0 18.8,0a9.4,9.4 0 1,0 -18.8,0zM856.8,639.1a9.4,9.4 0 1,0 18.8,0a9.4,9.4 0 1,0 -18.8,0zM856.8,636.0a9.4,9.4 0 1,0 18.8,0a9.4,9.4 0 1,0 -18.8,0zM856.8,632.9a9.4,9.4 0 1,0 18.8,0a9.4,9.4 0 1,0 -18.8,0zM856.8,629.8a9.4,9.4 0 1,0 18.8,0a9.4,9.4 0 1,0 -18.8,0zM856.8,626.7a9.4,9.4 0 1,0 18.8,0a9.4,9.4 0 1,0 -18.8,0zM856.8,623.7a9.4,9.4 0 1,0 18.8,0a9.4,9.4 0 1,0 -18.8,0zM856.8,620.6a9.4,9.4 0 1,0 18.8,0a9.4,9.4 0 1,0 -18.8,0zM856.8,617.5a9.4,9.4 0 1,0 18.8,0a9.4,9.4 0 1,0 -18.8,0zM856.8,614.4a9.4,9.4 0 1,0 18.8,0a9.4,9.4 0 1,0 -18.8,0zM856.8,611.3a9.4,9.4 0 1,0 18.8,0a9.4,9.4 0 1,0 -18.8,0zM856.8,608.2a9.4,9.4 0 1,0 18.8,0a9.4,9.4 0 1,0 -18.8,0zM856.8,605.1a9.4,9.4 0 1,0 18.8,0a9.4,9.4 0 1,0 -18.8,0zM856.8,602.0a9.4,9.4 0 1,0 18.8,0a9.4,9.4 0 1,0 -18.8,0zM856.8,598.9a9.4,9.4 0 1,0 18.8,0a9.4,9.4 0 1,0 -18.8,0zM856.8,595.9a9.4,9.4 0 1,0 18.8,0a9.4,9.4 0 1,0 -18.8,0zM856.8,592.8a9.4,9.4 0 1,0 18.8,0a9.4,9.4 0 1,0 -18.8,0zM919.8,600.1a9.4,9.4 0 1,0 18.8,0a9.4,9.4 0 1,0 -18.8,0zM919.8,597.0a9.4,9.4 0 1,0 18.8,0a9.4,9.4 0 1,0 -18.8,0zM919.8,593.9a9.4,9.4 0 1,0 18.8,0a9.4,9.4 0 1,0 -18.8,0zM919.8,590.8a9.4,9.4 0 1,0 18.8,0a9.4,9.4 0 1,0 -18.8,0zM919.8,587.7a9.4,9.4 0 1,0 18.8,0a9.4,9.4 0 1,0 -18.8,0zM919.8,584.5a9.4,9.4 0 1,0 18.8,0a9.4,9.4 0 1,0 -18.8,0zM919.8,581.4a9.4,9.4 0 1,0 18.8,0a9.4,9.4 0 1,0 -18.8,0zM919.8,578.3a9.4,9.4 0 1,0 18.8,0a9.4,9.4 0 1,0 -18.8,0zM919.8,575.2a9.4,9.4 0 1,0 18.8,0a9.4,9.4 0 1,0 -18.8,0zM919.8,572.1a9.4,9.4 0 1,0 18.8,0a9.4,9.4 0 1,0 -18.8,0zM919.8,568.9a9.4,9.4 0 1,0 18.8,0a9.4,9.4 0 1,0 -18.8,0zM919.8,565.8a9.4,9.4 0 1,0 18.8,0a9.4,9.4 0 1,0 -18.8,0zM919.8,562.7a9.4,9.4 0 1,0 18.8,0a9.4,9.4 0 1,0 -18.8,0zM919.8,559.6a9.4,9.4 0 1,0 18.8,0a9.4,9.4 0 1,0 -18.8,0zM919.8,556.5a9.4,9.4 0 1,0 18.8,0a9.4,9.4 0 1,0 -18.8,0zM919.8,553.3a9.4,9.4 0 1,0 18.8,0a9.4,9.4 0 1,0 -18.8,0zM919.8,550.2a9.4,9.4 0 1,0 18.8,0a9.4,9.4 0 1,0 -18.8,0zM919.8,547.1a9.4,9.4 0 1,0 18.8,0a9.4,9.4 0 1,0 -18.8,0zM919.8,544.0a9.4,9.4 0 1,0 18.8,0a9.4,9.4 0 1,0 -18.8,0zM919.8,540.9a9.4,9.4 0 1,0 18.8,0a9.4,9.4 0 1,0 -18.8,0zM919.8,537.8a9.4,9.4 0 1,0 18.8,0a9.4,9.4 0 1,0 -18.8,0zM919.8,534.6a9.4,9.4 0 1,0 18.8,0a9.4,9.4 0 1,0 -18.8,0zM919.8,531.5a9.4,9.4 0 1,0 18.8,0a9.4,9.4 0 1,0 -18.8,0z"/>
<line x1="618.832" y1="852.446" x2="946.768" y2="567.854" stroke="#000" stroke-width="2.6"/>
</g>
<line x1="156.5" y1="407.3" x2="446.4" y2="280.5" stroke="#ff0000" stroke-width="2.7"/>
<line x1="639.3" y1="428.7" x2="929.2" y2="319.6" stroke="#ff0000" stroke-width="2.7"/>
<line x1="156.5" y1="833.3" x2="446.4" y2="670.2" stroke="#ff0000" stroke-width="2.7"/>
<line x1="639.3" y1="833.4" x2="929.2" y2="583.4" stroke="#ff0000" stroke-width="2.7"/>
<rect x="139.6" y="126.8" width="321.9" height="322.5" fill="none" stroke="#000" stroke-width="2.3"/>
<rect x="622.4" y="126.8" width="321.8" height="322.5" fill="none" stroke="#000" stroke-width="2.3"/>
<rect x="139.6" y="514.3" width="321.9" height="322.9" fill="none" stroke="#000" stroke-width="2.3"/>
<rect x="622.4" y="514.3" width="321.8" height="322.9" fill="none" stroke="#000" stroke-width="2.3"/>
<line x1="129.79999999999998" y1="449.3" x2="139.6" y2="449.3" stroke="#000" stroke-width="2.3"/>
<text x="119.39999999999999" y="461.40000000000003" font-size="31" text-anchor="end" fill="#000">0</text>
<line x1="129.79999999999998" y1="383.8" x2="139.6" y2="383.8" stroke="#000" stroke-width="2.3"/>
<text x="119.39999999999999" y="395.90000000000003" font-size="31" text-anchor="end" fill="#000">25</text>
<line x1="129.79999999999998" y1="318.3" x2="139.6" y2="318.3" stroke="#000" stroke-width="2.3"/>
<text x="119.39999999999999" y="330.40000000000003" font-size="31" text-anchor="end" fill="#000">50</text>
<line x1="129.79999999999998" y1="252.8" x2="139.6" y2="252.8" stroke="#000" stroke-width="2.3"/>
<text x="119.39999999999999" y="264.90000000000003" font-size="31" text-anchor="end" fill="#000">75</text>
<line x1="129.79999999999998" y1="187.3" x2="139.6" y2="187.3" stroke="#000" stroke-width="2.3"/>
<text x="119.39999999999999" y="199.4" font-size="31" text-anchor="end" fill="#000">100</text>
<line x1="612.6" y1="449.3" x2="622.4" y2="449.3" stroke="#000" stroke-width="2.3"/>
<text x="602.1999999999999" y="461.40000000000003" font-size="31" text-anchor="end" fill="#000">0</text>
<line x1="612.6" y1="336.8" x2="622.4" y2="336.8" stroke="#000" stroke-width="2.3"/>
<text x="602.1999999999999" y="348.90000000000003" font-size="31" text-anchor="end" fill="#000">10</text>
<line x1="612.6" y1="224.3" x2="622.4" y2="224.3" stroke="#000" stroke-width="2.3"/>
<text x="602.1999999999999" y="236.4" font-size="31" text-anchor="end" fill="#000">20</text>
<line x1="129.79999999999998" y1="837.0" x2="139.6" y2="837.0" stroke="#000" stroke-width="2.3"/>
<text x="119.39999999999999" y="849.1" font-size="31" text-anchor="end" fill="#000">0</text>
<line x1="129.79999999999998" y1="756.2" x2="139.6" y2="756.2" stroke="#000" stroke-width="2.3"/>
<text x="119.39999999999999" y="768.35" font-size="31" text-anchor="end" fill="#000">5</text>
<line x1="129.79999999999998" y1="675.5" x2="139.6" y2="675.5" stroke="#000" stroke-width="2.3"/>
<text x="119.39999999999999" y="687.6" font-size="31" text-anchor="end" fill="#000">10</text>
<line x1="129.79999999999998" y1="594.8" x2="139.6" y2="594.8" stroke="#000" stroke-width="2.3"/>
<text x="119.39999999999999" y="606.85" font-size="31" text-anchor="end" fill="#000">15</text>
<line x1="612.6" y1="837.2" x2="622.4" y2="837.2" stroke="#000" stroke-width="2.3"/>
<text x="602.1999999999999" y="849.3000000000001" font-size="31" text-anchor="end" fill="#000">0</text>
<line x1="612.6" y1="710.2" x2="622.4" y2="710.2" stroke="#000" stroke-width="2.3"/>
<text x="602.1999999999999" y="722.2500000000001" font-size="31" text-anchor="end" fill="#000">5</text>
<line x1="612.6" y1="583.1" x2="622.4" y2="583.1" stroke="#000" stroke-width="2.3"/>
<text x="602.1999999999999" y="595.2" font-size="31" text-anchor="end" fill="#000">10</text>
<line x1="153.6" y1="449.3" x2="153.6" y2="459.1" stroke="#000" stroke-width="2.3"/>
<line x1="636.4" y1="449.3" x2="636.4" y2="459.1" stroke="#000" stroke-width="2.3"/>
<line x1="153.6" y1="837.2" x2="153.6" y2="847.0" stroke="#000" stroke-width="2.3"/>
<text x="153.6" y="879.7" font-size="31" text-anchor="middle" fill="#000">0</text>
<line x1="636.4" y1="837.2" x2="636.4" y2="847.0" stroke="#000" stroke-width="2.3"/>
<text x="636.4" y="879.7" font-size="31" text-anchor="middle" fill="#000">0</text>
<line x1="300.0" y1="449.3" x2="300.0" y2="459.1" stroke="#000" stroke-width="2.3"/>
<line x1="782.8" y1="449.3" x2="782.8" y2="459.1" stroke="#000" stroke-width="2.3"/>
<line x1="300.0" y1="837.2" x2="300.0" y2="847.0" stroke="#000" stroke-width="2.3"/>
<text x="300.0" y="879.7" font-size="31" text-anchor="middle" fill="#000">5</text>
<line x1="782.8" y1="837.2" x2="782.8" y2="847.0" stroke="#000" stroke-width="2.3"/>
<text x="782.8" y="879.7" font-size="31" text-anchor="middle" fill="#000">5</text>
<line x1="446.4" y1="449.3" x2="446.4" y2="459.1" stroke="#000" stroke-width="2.3"/>
<line x1="929.2" y1="449.3" x2="929.2" y2="459.1" stroke="#000" stroke-width="2.3"/>
<line x1="446.4" y1="837.2" x2="446.4" y2="847.0" stroke="#000" stroke-width="2.3"/>
<text x="446.4" y="879.7" font-size="31" text-anchor="middle" fill="#000">10</text>
<line x1="929.2" y1="837.2" x2="929.2" y2="847.0" stroke="#000" stroke-width="2.3"/>
<text x="929.2" y="879.7" font-size="31" text-anchor="middle" fill="#000">10</text>
<rect x="144.9" y="139.9" width="311.1" height="52.900000000000006" rx="5" ry="5" fill="#ffffff" fill-opacity="0.8" stroke="#cccccc" stroke-width="1.3"/>
<line x1="153.1" y1="165.0" x2="179.3" y2="165.0" stroke="#ff0000" stroke-width="2.3"/>
<text x="201.0" y="173.5" font-size="31" text-anchor="start" textLength="244" lengthAdjust="spacingAndGlyphs" fill="#000">y = 4.89x + 15.54</text>
<rect x="637.0" y="139.9" width="292.0" height="52.900000000000006" rx="5" ry="5" fill="#ffffff" fill-opacity="0.8" stroke="#cccccc" stroke-width="1.3"/>
<line x1="646.4" y1="165.0" x2="672.5" y2="165.0" stroke="#ff0000" stroke-width="2.3"/>
<text x="694.0" y="173.5" font-size="31" text-anchor="start" textLength="224" lengthAdjust="spacingAndGlyphs" fill="#000">y = 0.98x + 1.73</text>
<rect x="153.0" y="528.5" width="294.0" height="51.0" rx="5" ry="5" fill="#ffffff" fill-opacity="0.8" stroke="#cccccc" stroke-width="1.3"/>
<line x1="162.6" y1="551.6" x2="188.4" y2="551.6" stroke="#ff0000" stroke-width="2.3"/>
<text x="210.0" y="562.4" font-size="31" text-anchor="start" textLength="226" lengthAdjust="spacingAndGlyphs" fill="#000">y = 1.02x + 0.13</text>
<rect x="635.6" y="528.5" width="293.4" height="51.0" rx="5" ry="5" fill="#ffffff" fill-opacity="0.8" stroke="#cccccc" stroke-width="1.3"/>
<line x1="645.5" y1="551.6" x2="671.0" y2="551.6" stroke="#ff0000" stroke-width="2.3"/>
<text x="693.0" y="562.4" font-size="31" text-anchor="start" textLength="226" lengthAdjust="spacingAndGlyphs" fill="#000">y = 0.99x + 0.05</text>
<text x="285.2" y="28.9" font-size="35" text-anchor="start" textLength="680.5" lengthAdjust="spacingAndGlyphs" fill="#000">Effect of adding terms to Lengyel model</text>
<text x="183.8" y="109.4" font-size="35" text-anchor="start" textLength="232.6" lengthAdjust="spacingAndGlyphs" fill="#000">Basic Lengyel</text>
<g transform="translate(717,0) scale(1.14,1) translate(-717,0)"><text x="717" y="109.2" font-size="35" fill="#000">+λ<tspan font-size="24" dy="5">INT</tspan><tspan dy="-5">/λ</tspan><tspan font-size="24" dy="5">q</tspan></text></g>
<g transform="translate(252.2,0) scale(1.17,1) translate(-252.2,0)"><text x="252.2" y="496.9" font-size="35" fill="#000">+f<tspan font-size="24" dy="5">conv</tspan></text></g>
<g transform="translate(754,0) scale(1.2,1) translate(-754,0)"><text x="754" y="496.2" font-size="35" fill="#000">+κ<tspan font-size="24" dy="5">z</tspan></text></g>
<g transform="translate(955.3,0) scale(1.025,1) translate(-955.3,0)"><text x="955.3" y="109.3" font-size="31" fill="#000">T<tspan font-size="22" dy="5">e, t</tspan><tspan dy="-5"> [eV]</tspan></text></g>
<g transform="translate(417.4,0) scale(1.033,1) translate(-417.4,0)"><text x="417.4" y="962.7" font-size="31" fill="#000">c<tspan font-size="22" dy="5">z</tspan><tspan dy="-5"> from Kallenbach model [%]</tspan></text></g>
<text transform="translate(25.2,753) rotate(-90) scale(1.04,1)" x="0" y="0" font-size="31" fill="#000">c<tspan font-size="22" dy="5">z</tspan><tspan dy="-5"> from extended Lengyel model [%]</tspan></text>
<rect x="994.5" y="126.8" width="35.5" height="709.8000000000001" fill="url(#vir)"/>
<rect x="994.5" y="126.8" width="35.5" height="709.8000000000001" fill="none" stroke="#000" stroke-width="2.3"/>
<line x1="1030.0" y1="821.1" x2="1035.6" y2="821.1" stroke="#000" stroke-width="1.7"/>
<line x1="1030.0" y1="698.8" x2="1035.6" y2="698.8" stroke="#000" stroke-width="1.7"/>
<line x1="1030.0" y1="612.0" x2="1035.6" y2="612.0" stroke="#000" stroke-width="1.7"/>
<line x1="1030.0" y1="544.7" x2="1035.6" y2="544.7" stroke="#000" stroke-width="1.7"/>
<line x1="1030.0" y1="489.7" x2="1035.6" y2="489.7" stroke="#000" stroke-width="1.7"/>
<line x1="1030.0" y1="443.2" x2="1035.6" y2="443.2" stroke="#000" stroke-width="1.7"/>
<line x1="1030.0" y1="402.9" x2="1035.6" y2="402.9" stroke="#000" stroke-width="1.7"/>
<line x1="1030.0" y1="367.4" x2="1035.6" y2="367.4" stroke="#000" stroke-width="1.7"/>
<line x1="1030.0" y1="126.8" x2="1035.6" y2="126.8" stroke="#000" stroke-width="1.7"/>
<line x1="1030.0" y1="335.6" x2="1039.8" y2="335.6" stroke="#000" stroke-width="2.3"/>
<text x="1052" y="345.7" font-size="31" fill="#000">10<tspan font-size="20" dy="-10.3">1</tspan></text>
<path d="M498,287.7 L550,287.7 M537.3,281.7 L550,287.7 L537.3,293.6" fill="none" stroke="#000" stroke-width="3" stroke-linecap="round" stroke-linejoin="round"/>
<path d="M552.2,467.7 L500.5,493.5 M508.2,483.4 L500.5,493.5 L513.6,493.9" fill="none" stroke="#000" stroke-width="3" stroke-linecap="round" stroke-linejoin="round"/>
<path d="M498,675.4 L550,675.4 M537.3,669.6 L550,675.4 L537.3,681.1" fill="none" stroke="#000" stroke-width="3" stroke-linecap="round" stroke-linejoin="round"/>
</svg></body></html>
